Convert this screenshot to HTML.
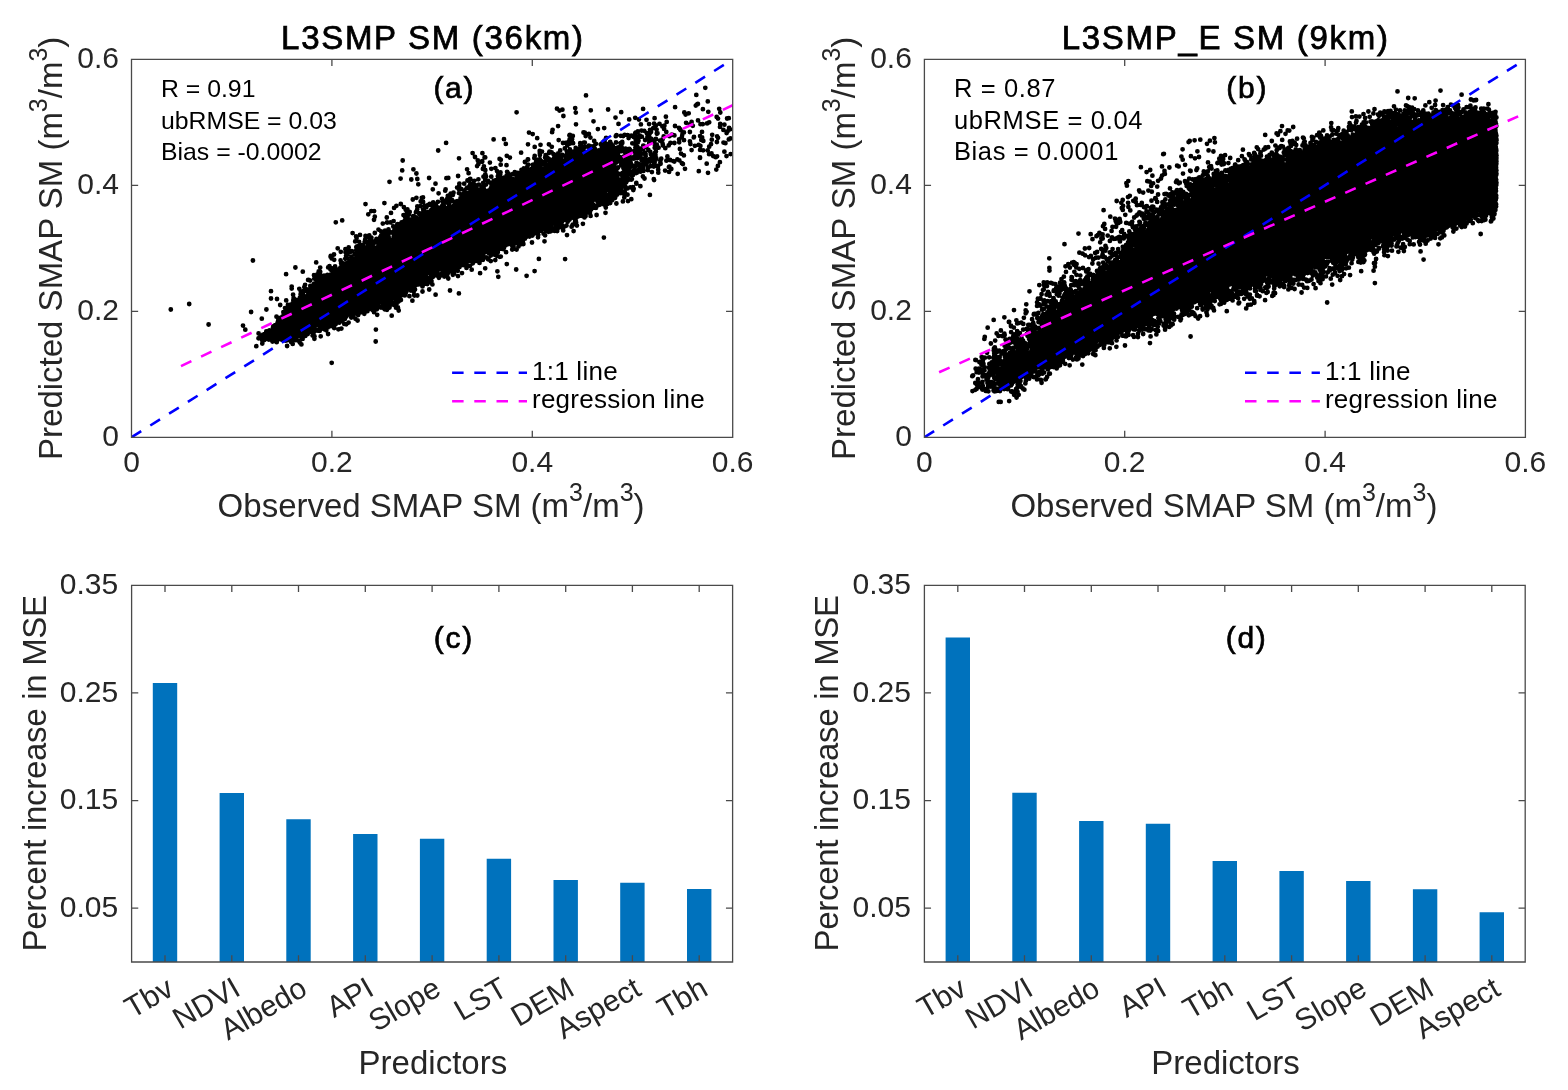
<!DOCTYPE html>
<html><head><meta charset="utf-8"><title>Figure</title><style>html,body{margin:0;padding:0;background:#fff;width:1568px;height:1090px;overflow:hidden}svg{display:block}</style></head><body>
<svg width="1568" height="1090" viewBox="0 0 1568 1090" font-family="'Liberation Sans', Arial, Helvetica, sans-serif">
<rect width="1568" height="1090" fill="#fff"/>
<defs>
<clipPath id="clipa"><rect x="131.5" y="59.3" width="601.2" height="378.0"/></clipPath>
<clipPath id="clipb"><rect x="924.4" y="59.3" width="601.0000000000001" height="378.0"/></clipPath>
</defs>
<text x="131.5" y="472.0" text-anchor="middle" font-size="30" fill="#262626">0</text>
<text x="331.9" y="472.0" text-anchor="middle" font-size="30" fill="#262626">0.2</text>
<text x="532.3" y="472.0" text-anchor="middle" font-size="30" fill="#262626">0.4</text>
<text x="732.7" y="472.0" text-anchor="middle" font-size="30" fill="#262626">0.6</text>
<text x="119.0" y="446.1" text-anchor="end" font-size="30" fill="#262626">0</text>
<text x="119.0" y="320.1" text-anchor="end" font-size="30" fill="#262626">0.2</text>
<text x="119.0" y="194.1" text-anchor="end" font-size="30" fill="#262626">0.4</text>
<text x="119.0" y="68.1" text-anchor="end" font-size="30" fill="#262626">0.6</text>
<text x="431.1" y="516.9" text-anchor="middle" font-size="33" fill="#262626">Observed SMAP SM (m<tspan font-size="25" dy="-15.5">3</tspan><tspan dy="15.5">/m</tspan><tspan font-size="25" dy="-15.5">3</tspan><tspan dy="15.5">)</tspan></text>
<text transform="translate(62.1 248.3) rotate(-90)" text-anchor="middle" font-size="33" fill="#262626">Predicted SMAP SM (m<tspan font-size="25" dy="-15.5">3</tspan><tspan dy="15.5">/m</tspan><tspan font-size="25" dy="-15.5">3</tspan><tspan dy="15.5">)</tspan></text>
<text x="432.9" y="48.7" text-anchor="middle" font-size="33" letter-spacing="1.7" fill="#000" stroke="#000" stroke-width="0.75">L3SMP SM (36km)</text>
<text x="924.4" y="472.0" text-anchor="middle" font-size="30" fill="#262626">0</text>
<text x="1124.7" y="472.0" text-anchor="middle" font-size="30" fill="#262626">0.2</text>
<text x="1325.1" y="472.0" text-anchor="middle" font-size="30" fill="#262626">0.4</text>
<text x="1525.4" y="472.0" text-anchor="middle" font-size="30" fill="#262626">0.6</text>
<text x="911.9" y="446.1" text-anchor="end" font-size="30" fill="#262626">0</text>
<text x="911.9" y="320.1" text-anchor="end" font-size="30" fill="#262626">0.2</text>
<text x="911.9" y="194.1" text-anchor="end" font-size="30" fill="#262626">0.4</text>
<text x="911.9" y="68.1" text-anchor="end" font-size="30" fill="#262626">0.6</text>
<text x="1223.9" y="516.9" text-anchor="middle" font-size="33" fill="#262626">Observed SMAP SM (m<tspan font-size="25" dy="-15.5">3</tspan><tspan dy="15.5">/m</tspan><tspan font-size="25" dy="-15.5">3</tspan><tspan dy="15.5">)</tspan></text>
<text transform="translate(855.0 248.3) rotate(-90)" text-anchor="middle" font-size="33" fill="#262626">Predicted SMAP SM (m<tspan font-size="25" dy="-15.5">3</tspan><tspan dy="15.5">/m</tspan><tspan font-size="25" dy="-15.5">3</tspan><tspan dy="15.5">)</tspan></text>
<text x="1225.7" y="48.7" text-anchor="middle" font-size="33" letter-spacing="1.7" fill="#000" stroke="#000" stroke-width="0.75">L3SMP_E SM (9km)</text>
<path d="M705.3 87.8h0m-119.3 7.6h0m110.3-.5h0m.8 9.5h0m.8-.5h0m9.9-2.5h0m-150.8 7.3h0m2.5 1.9h0m2.9-.9h0m12.8-1.6h0m15.6 2.2h0m17.3-.8h0m35-.6h0m32-1.7h0m20.7-1.6h0m7.1 3.6h0m16.3-.4h0m-202.6 3.5h0m46.8 3.7h0m12.4-3.4h0m45.4-.4h0m44.7 4.5h0m18.4-4.2h0m1.3 2h0m3.1-1.2h0m19.6-1.5h0m12 .7h0m-126.8 8.8h0m22-3.7h0m13.7 1.8h0m6-1.6h0m3.7 1.7h0m7.6 .3h0m8.1-1.6h0m12.1 3.7h0m19.4 .9h0m5.5-.9h0m6.4-1.5h0m11.2 1.9h0m7.5-5.3h0m1.3 1.6h0m9.1-.1h0m1.7-.3h0m-170.7 7.9h0m17.9-1.8h0m28.2 3.8h0m14.3-4.2h0m22.4 .5h0m8.2-.3h0m4.2 4h0m.8-4.5h0m1.9 1.7h0m3.5-1.5h0m2.9 2.6h0m1.7 2.5h0m.3-3.2h0m10.6 .3h0m4 2h0m11-3.6h0m1 .2h0m1.8 1.2h0m7.7-1.6h0m2.2 0h0m4.4-.8h0m12.9 3.5h0m.2-2.9h0m4.2 .7h0m4.7 3.2h0m-200.1 4.7h0m3.7 1.5h0m19.4-1.9h0m.5-2.4h0m17.3 5.2h0m13.6-2.5h0m1.3 .2h0m1.5 1.9h0m.4 0h0m2.2-.6h0m9-4.9h0m26.8 5.8h0m10.5-1.7h0m.3 .7h0m.6-1.6h0m1.8-.8h0m3.6-.9h0m2.7 .2h0m2.6 2.4h0m2.9 .2h0m.1-.1h0m.2-3.5h0m.9 1.6h0m.1 .5h0m5.6-2.3h0m.2 3.7h0m.1 .5h0m.6-.6h0m8.8-1.2h0m5.6 2.7h0m8.1-5.5h0m.6 1h0m1.8 4.1h0m1.5-1.9h0m6-.4h0m12.1-.1h0m10.2 2.9h0m11.2-4.9h0m3.2 3.2h0m1-1.8h0m2.5-2h0m-236.5 10.1h0m10.4-.2h0m33.2-1h0m21.5 1.9h0m10.7-4.8h0m.2 4.2h0m2.5-.3h0m.7-3.3h0m12.9 .1h0m4.7 1.6h0m14.2 3h0m1.5-2.8h0m9.7-1.6h0m.7-1h0m4.3 .6h0m2.4 .2h0m4.4-.9h0m1 2.9h0m2.7-2.3h0m2.4 1.2h0m1.5-1h0m.5 3.6h0m.1 .8h0m.5-3.8h0m.4 2.9h0m.3-2.3h0m.2 3.4h0m1.3 .2h0m1.4-5.1h0m.1 1.3h0m1.8-.2h0m3.3 3.3h0m2.4-3.3h0m1.6 3.5h0m0-2.5h0m.3-.9h0m2 2.4h0m0-.3h0m3.5 1.2h0m1-1.1h0m4 1.6h0m2.6-1.2h0m1.2-2.9h0m5.8-.3h0m4.9-.8h0m4.7 4.1h0m2.8-2.5h0m2.1 3.2h0m9.8-2.8h0m.2-.5h0m6.1-.8h0m1.2 3.8h0m.8-2.6h0m.5 2.8h0m.7 .8h0m8.5-1.2h0m5.3-3.4h0m.9 1.5h0m10.8 1.6h0m1.6-.9h0m-284.3 4.4h0m59.7 1h0m22.2 .4h0m6.7 2.6h0m5.8-2.1h0m8.4-.5h0m2.9 2.5h0m11.2-3.8h0m2.6-.1h0m1.7 2.5h0m1.2-3.4h0m1.3-.1h0m.2 1.7h0m3.1-.4h0m7.1 0h0m.1 2.5h0m.7 .3h0m2.9-3.4h0m.9 0h0m.2 4.4h0m3.8-1.4h0m3.2 .7h0m2.2-5.3h0m1.3 3h0m.4-.2h0m4.8 .5h0m1.1 2.6h0m.2-3.6h0m0 1.3h0m.8-.5h0m1.4-2.1h0m1.1 3.3h0m.2-1.9h0m.6 .6h0m.2 1.1h0m2 .3h0m1.9-3.5h0m.9 2.2h0m1.5 1.4h0m3.4-3h0m4.5 .6h0m.5 1.7h0m.6 2.1h0m.6-4.9h0m.1 .9h0m10 .4h0m2.7 .8h0m2.4 2.8h0m.4-4.3h0m5.5 3h0m3.1 1.2h0m2.8-3.8h0m2-1h0m.7-.6h0m2.1 .5h0m1 3.5h0m1.8-.8h0m5.8-.8h0m0-.1h0m.4 1.8h0m5.7-.1h0m1.7-2.4h0m4 0h0m4.8-.7h0m10.7-1h0m.5 2.7h0m4.5 1.8h0m3.8-.9h0m1.7 1h0m8.8 .8h0m1.8-2.5h0m5.9-2.2h0m6.6 .6h0m1.9 .6h0m-287.2 7.3h0m82.9 2.2h0m18.6-1.7h0m.1 1.9h0m2.2-1.3h0m7 1.3h0m.5-1.3h0m.3 .6h0m1.8 .1h0m8.6-1.8h0m4.6-2.1h0m2 2.9h0m1.1 .8h0m2-2.7h0m.2 3.6h0m.6-1.6h0m.5 1.2h0m3.3-1.2h0m.1-.3h0m1.1-3.1h0m1.1 1h0m.3 2.1h0m1.6-1.5h0m.9 .8h0m.2 .7h0m.6-2.4h0m.8 3.8h0m.6-1.6h0m.8-2.8h0m1.7 3.4h0m3.2 1.3h0m1.8-2.2h0m0-2.6h0m.7-.5h0m.8 4.4h0m1.5 .4h0m1.3-2.8h0m.5 1.5h0m.4 1.2h0m.3-3.6h0m0 .4h0m2 3.7h0m2.1-2.4h0m0 0h0m2 1h0m.6-1.4h0m1.9 .2h0m.2-.9h0m.3 0h0m1.1 2.9h0m.9-2.3h0m.7 1.2h0m.1 .6h0m.2-3.6h0m.3 4.1h0m2.8-4.5h0m.1 2.8h0m0 .9h0m1.8 1.3h0m1.6-4.5h0m1.1 3h0m.1 .3h0m.3-2.4h0m.1-.9h0m1.4 .1h0m.9 1.1h0m.4 2.2h0m.1 .9h0m.2-5.1h0m.7 .7h0m1.2 3.3h0m1.1-1h0m0-3h0m.1 .6h0m.6 3.3h0m1.8-1.2h0m1.6 2.7h0m.3-4h0m1.2 3.1h0m.9 1h0m1-.2h0m.2 .4h0m.4-4h0m.4 2.8h0m.3-2.2h0m.4 2.6h0m3.1-.7h0m.9 1h0m1-1.1h0m.1-3.7h0m.4 2.8h0m.7-2.6h0m.5 1h0m2.4-.6h0m.3 1.2h0m.4 .7h0m3.2-1.1h0m5.1 .7h0m1.9 2.2h0m4.4-4.2h0m.4 4.9h0m.8-1.1h0m2.7-3.9h0m6.7 .5h0m14.6 .8h0m11.7 1.1h0m8.5-.2h0m3 .4h0m4.6 .1h0m16.7 1.3h0m-265.4 6.6h0m13.6-5.2h0m2.4 3.9h0m7.4-3.8h0m2.2 4.2h0m.6 0h0m14.4 1.5h0m7.2-3.1h0m3.1 1.8h0m24.4 .5h0m.4-2.1h0m5.2-1h0m5.2 2.6h0m.5-2.4h0m.3 3.3h0m.5 .2h0m1.1-1h0m6-3.5h0m.6 3.9h0m.6-1.2h0m.6-2h0m.3 2.7h0m.7-1.8h0m.3-.3h0m.6 3.3h0m1-5.3h0m.3 4.1h0m.3-2h0m1.7 .2h0m.1 1h0m.4 .1h0m0 1.9h0m1.5-4h0m2.8 1.4h0m.9 .7h0m.6-1.9h0m.9-1.5h0m.3 3.5h0m.2-3.3h0m.2 3.4h0m.2-.2h0m1 1.5h0m1.2-.9h0m1.4 1.5h0m.7-4.5h0m.2 .5h0m.2 1.8h0m.2-2.5h0m.5 2.4h0m1.6 0h0m1.1-2.7h0m.7 3.2h0m.5-3.5h0m.9 3.4h0m.8-2h0m1.2 2.5h0m1.7-2h0m1.4 0h0m.1 1.4h0m.6-3.6h0m1.6 5h0m.7-.8h0m.2 .9h0m.1-3.6h0m.3-1h0m1.3 3.1h0m.1-.6h0m1.8-2.6h0m.1 2.9h0m.6-1.5h0m.7 3.5h0m1.7-1.2h0m.1-3.3h0m1.7 1.2h0m1.3 1.5h0m.1 2h0m1.7-3h0m.1-1.4h0m1.2 4.3h0m1.4-1.4h0m.7-.8h0m0 1.3h0m.2-4.1h0m.1 1.3h0m.3-.1h0m.6-.4h0m.3 4h0m.1 .3h0m.3-.6h0m.6-4.2h0m1.1 2.1h0m2-2.3h0m.7 4.2h0m1.1-1.7h0m.7-2.6h0m.1 4.4h0m1.2-4.9h0m.8 1.8h0m.9 0h0m.2-1.5h0m2.6 1.9h0m.2-2h0m.5 2.1h0m.5-1.4h0m.2 1.6h0m.2-.3h0m.1 2.5h0m.4-2.5h0m.5 1.1h0m2.2 1.1h0m1.5-.4h0m1.4-.6h0m1.6-.4h0m.5-2.1h0m0 3.6h0m.2-2.5h0m1.5 1.3h0m1.6 1.9h0m.1-3.8h0m2.3 3.8h0m.9-.5h0m.2-.3h0m.4-.4h0m.1 .3h0m.7 1.1h0m1.5-2.2h0m.2-2.1h0m.8 1.9h0m1.3-2.4h0m0 4.1h0m.2-4.4h0m1.2 1.1h0m0 .1h0m1.5 2.1h0m.3-3.6h0m1.4 5.6h0m1.4-5.3h0m1.6-.6h0m.4 1h0m.1 2.2h0m0 2.7h0m4.4-.1h0m.7-4.5h0m1.8 3.7h0m0-2.6h0m.1 2.5h0m.2-2.2h0m2.6-.8h0m.7 3.2h0m5 .6h0m6.2-2.3h0m13.6-2.8h0m2.9 1.8h0m16.1 2.1h0m0 .4h0m9.1-3.7h0m2.4-.8h0m1.7 2.7h0m2.6 1.1h0m1.3-.9h0m9.4-.2h0m4.2-2h0m-328 6.4h0m75.1 0h0m.6 3.5h0m3.8-2.2h0m0-.6h0m7.7 1.4h0m10.8 2.1h0m.1-4.9h0m24.1 2.2h0m2.9-2.5h0m.3 5.1h0m0-5.1h0m4.5 5.3h0m.4 0h0m2-.4h0m1-2.2h0m.6-2.6h0m.3 4.3h0m0-2h0m1.3 0h0m.4 1.9h0m.7-4.1h0m.5-.5h0m1.3 1.9h0m1.1 2.8h0m.3-1.5h0m.6-.2h0m.2 1.5h0m1.9-1.7h0m.1 1.9h0m.9 .9h0m.9-4.4h0m.7-.4h0m.2-.6h0m.9-.2h0m.4 1.3h0m.2 4h0m.4-4.9h0m.1 1.3h0m.1-.6h0m.6 3h0m0 .2h0m.2-1.7h0m1.5 .7h0m1.3 .1h0m.3-.8h0m1.4-.4h0m.2 1.1h0m.5 2.3h0m.4-3.7h0m.9 1h0m.7 1.1h0m.3 .1h0m.6 1.4h0m.4-2.6h0m.9-2.7h0m.1 .1h0m.5 .6h0m.3 1.9h0m.2-1.8h0m1.1 3h0m1.1-1.7h0m1.1-.8h0m.6 3.5h0m.1-4.3h0m.1 1.3h0m1.3-1.4h0m.6 1.8h0m.2 3.3h0m2.2-3.6h0m1.8 3h0m.3-4.7h0m0 4.8h0m.4-5.1h0m.2 1.1h0m.4 1.7h0m.5 .3h0m.8-.9h0m.7 .6h0m.4 .1h0m.3 2.1h0m.2-3.6h0m1.7-.5h0m0 .2h0m.8 2.8h0m.4 1.4h0m.2-3.8h0m.7 2.6h0m.4 .7h0m0-2.5h0m.3 1.6h0m1.5 1h0m.1-.1h0m.1-3.8h0m.1-.7h0m.1 .4h0m.3 4.7h0m.6-4.8h0m0 .7h0m1 4.3h0m.1-3.6h0m1.7 1.2h0m.7-3.2h0m.1 4.8h0m0-4.4h0m1.9 1.6h0m.3 1h0m0-.1h0m.5 1.3h0m1.1-3.4h0m.3 1.5h0m2.1-.2h0m.1 2.4h0m2.1-1.6h0m.5-2.3h0m.1 3.9h0m.5-3.3h0m2.3 2.1h0m.2-.8h0m.6 2.7h0m.2-1.9h0m1.3-3h0m1.7 3.7h0m.6-2h0m.3-.1h0m.2 .8h0m.2-2.9h0m2.5 2.5h0m.1 1.5h0m2-1.2h0m.2 1.8h0m0-3.2h0m.4-.6h0m.5 3.3h0m.5-.5h0m2.2-2.7h0m1 .2h0m.3-1h0m.1 4.4h0m.6 1.3h0m1.8-5.1h0m.3 2.8h0m.8-1.2h0m.4-2h0m1.4 1.6h0m1.1-.7h0m.7 1.5h0m.5 2.2h0m.4-4.2h0m1.1 4.4h0m1 .7h0m.3-.9h0m.3-2.6h0m.9-1.5h0m.2 2.2h0m1.7-2.3h0m1.1 1h0m1.5 1.9h0m.3-3.7h0m.5 3.1h0m.5 1.7h0m5.5-1h0m.5 .7h0m1.4 .7h0m3 .7h0m.2-4.5h0m1.8 4.4h0m1.1-1.4h0m.8 1h0m.5-2.4h0m.7 1.5h0m1.4-3.2h0m2.1 1.2h0m1.8-1.8h0m.4 1.2h0m2.4 1.5h0m1.1-2.7h0m4.6 .8h0m.1 2h0m.1-2.2h0m.1 3.5h0m5.8-3.1h0m3.7-.7h0m3.2 1.1h0m1 .5h0m3.1-2.3h0m1.9 1h0m2.6 2.9h0m1 .8h0m23.8-.3h0m13.2-1.5h0m-317.7 8.2h0m11.2-1.1h0m53.7 0h0m10-3.2h0m5.8 2.8h0m1-2.6h0m1.2 3.6h0m.2 .3h0m6-1.4h0m4.1-.7h0m11.1-2.9h0m15 4.6h0m2.4-1.3h0m2.2 .2h0m.5 .3h0m.8-2.6h0m1.3 3.5h0m.6-.2h0m2.9-.9h0m.5 1.6h0m.4-3.3h0m0-.5h0m.9 4.4h0m1.8-3h0m1.2-1h0m1.1 3.5h0m1.8-2.7h0m.3-.4h0m.2 .3h0m.3 2.5h0m.1-2.9h0m1.9 3.2h0m1.3-1.9h0m.9-.5h0m.2-.1h0m.6-2.5h0m.6 .1h0m.8 3.8h0m.4-.1h0m.8-.5h0m.6-2.6h0m.6 1.2h0m1.7 .8h0m0-2.6h0m.8 3.9h0m1.6-3.9h0m.8 4.4h0m.2-1.8h0m.2-1h0m2.2 .4h0m.7 1.8h0m.3-4.3h0m.5 5.6h0m1.5-2.8h0m1.3 2.9h0m.3-2.7h0m.9-1.7h0m1.9 1.9h0m.5-1h0m1 2.7h0m1.9-2.6h0m1.1 2.3h0m1-4.6h0m.2 5.1h0m.7-4h0m.2 .5h0m.3-1.2h0m0 .3h0m.4 1.9h0m.1-1h0m1 4h0m.1-3.3h0m.3-.1h0m.9 3.2h0m1.4-4.1h0m.1 2.8h0m.6-.4h0m.3-2.6h0m2.4 3.9h0m.5-2.7h0m1.1 1.5h0m1.2-3.4h0m.3-.5h0m.2 1.2h0m.2 4.5h0m1.1-2.7h0m2 .4h0m1-1.2h0m.3 3.7h0m1.1-3.8h0m.6-.8h0m1.2 3.5h0m.5-1.1h0m1.2-2.2h0m.3-1.2h0m1.2 4.6h0m1.6-3.4h0m.7 2.5h0m1.5 .4h0m1.1-2.9h0m.5-.8h0m.2 4.6h0m.9-3.7h0m.3 2h0m.8 1.4h0m1.2-4.9h0m.9 2.4h0m2.2-2.4h0m.2 3.4h0m.6 2h0m.4-1.7h0m.5-2.8h0m.1-1h0m.6 3.4h0m.1-2.7h0m.6 2.2h0m.2 .9h0m.5-1.2h0m1.8 2h0m1.4 .6h0m.2-4.2h0m.3 .8h0m.1-.7h0m.8 2h0m1-.3h0m0 2.2h0m.4-2.3h0m2.1 1.1h0m0-.5h0m.5-.2h0m.1 .2h0m.8-.8h0m4.1-2h0m1.2 2.5h0m.6 .9h0m.1-1.5h0m.3 2.5h0m.5-4.5h0m0 1.6h0m1.9 3.8h0m.9-5.5h0m.7 1.1h0m.6 1h0m1.2-.3h0m2.5-1.4h0m1.8 3h0m2.3-3h0m.7 4.7h0m.4-5.2h0m2.1 3.4h0m1.4-1.4h0m.1 3.5h0m.6-3h0m1.2 .3h0m.1 2.9h0m4.4-.8h0m.4-2.6h0m2.4-1.3h0m3.1-1.1h0m.1 1.4h0m3.4-.6h0m.7 .9h0m.3 2.9h0m6.9 .9h0m3.8-3.5h0m.5-.5h0m1.9 2.3h0m13.7-.1h0m31.3 .8h0m1.6-3.7h0m-301.5 7.6h0m41.7 2.5h0m10.5-2.8h0m14.9 3.5h0m1.8-2.4h0m.7 2.2h0m5.3 .2h0m5.7-5.6h0m.8 5.2h0m.6-2.5h0m.3 1.6h0m1.4-1.7h0m.1 .7h0m.3-2h0m6.1 3.3h0m.5-3.9h0m.7 4.5h0m.4-1.3h0m.1-1.5h0m1.6 1.1h0m.2 1.4h0m3-2h0m1.7-1.8h0m.2 2.2h0m.2-1.8h0m1.5 1.1h0m0 1.7h0m.1 1.5h0m.8-1.1h0m.2 .2h0m0-3.1h0m1.4 3.3h0m.8 .6h0m.5-4.2h0m.7 4h0m.1-.9h0m.1-.2h0m.4-1.8h0m2.3 .1h0m.1-.5h0m.1-2.1h0m.6 2.5h0m.1 2.6h0m.1-3.6h0m1.7 2.1h0m1-2.7h0m1.3-.4h0m.2 2.3h0m1.3-.9h0m.8 2.2h0m.7-3.9h0m.5 4.2h0m.3-1h0m2.7-.2h0m.4-1.5h0m0 3.8h0m1.7-2.8h0m2.3 2h0m.1-2.2h0m2.4-.8h0m1.3 2.6h0m1.1-2.1h0m.5-1.9h0m1.4 4h0m.2-3.7h0m.7-.6h0m.9 1.9h0m.2 1.9h0m.1-2.3h0m.6 .2h0m.7-.7h0m.5 .7h0m.2 1.9h0m.2-3.5h0m.3-.2h0m.1 .1h0m.8 .8h0m.4 3.9h0m.8-2.1h0m1 2.3h0m1.4-3.8h0m.1 1.9h0m1.4 2.3h0m1.7-4h0m.9 1.8h0m2.2 .4h0m.2 1.3h0m.2-4.8h0m2.1 1.1h0m.2 1.1h0m.7 .3h0m.1 3h0m2-1h0m0-1h0m.3-3.3h0m1.5 .7h0m.3 2.5h0m2.4 1.4h0m.3-2.9h0m1.5 .9h0m.8 2.7h0m2-4.7h0m.2 4h0m1.6-3h0m1.2-.2h0m.7 2.3h0m1-2.1h0m1.1 1.8h0m1.4-.6h0m.6-2.2h0m.7 4.5h0m1.3-3.4h0m1.3 2.4h0m1.1-2.7h0m1.5 1.2h0m.6-1.4h0m.7 3.1h0m1.2-2.4h0m1.9 3.3h0m.2-1.5h0m.7-2.7h0m.6 4.2h0m2.3-3.1h0m1.3 2.6h0m.2 .4h0m0-3.7h0m1.4 2h0m1.4-3.7h0m.6 3.9h0m.2-2.2h0m1 3.4h0m.3 .1h0m1.8-4.3h0m.1 1.9h0m.7-.6h0m1.7 2.6h0m.2 .5h0m1-2.7h0m0 2.9h0m.7-5.1h0m.5 .3h0m.5 .7h0m.2 4.5h0m.7-3.1h0m2 .1h0m.1 1.5h0m1-3.9h0m1.1 4.4h0m1.6-2h0m3.1 0h0m.2 2h0m.1-1.6h0m0-1.2h0m.3-.3h0m0 2h0m.6 .3h0m.6 1.1h0m1.1-3.5h0m.1 1.8h0m.3 1.8h0m1.7-3.1h0m1.1-1.9h0m2.1 3.1h0m.4-3.2h0m.3 3.5h0m.3-3.3h0m.9 2.7h0m.4 .3h0m.4 .4h0m.1-1.9h0m2.8-1.1h0m.3 1.2h0m.2-1.2h0m.4 .9h0m3.6-1.1h0m2.5 4.8h0m9-4.4h0m6.4 .6h0m10.8-.8h0m8.6 1.9h0m21.1-2.6h0m9.2 1.6h0m-318.5 9h0m11.1-3.2h0m10.7 .9h0m6-.5h0m11.8-1h0m17.3 .2h0m1.9-.3h0m19.2 2.6h0m2.4-1.4h0m.4-.1h0m4 1.8h0m4.1-1.5h0m4.8 3.5h0m2-3h0m2.8 1.1h0m.6 .7h0m1.8 1.2h0m3.2-1.8h0m2.4-.9h0m1.7 2.3h0m1.6-3.9h0m.4 2.8h0m.6-3.7h0m1 2.9h0m1.3 .4h0m0 .3h0m.2-2.5h0m.8-.8h0m.8 3.1h0m.1 1.6h0m.3-5h0m2.6 4.6h0m.8-1.6h0m.2-.2h0m.3 1h0m2.6 0h0m.8-2.5h0m0 2.1h0m.2 2h0m.6-3.1h0m1.8-.5h0m.4 2.2h0m1.5-4.2h0m1 2.2h0m.4 .6h0m1.9-3h0m.1 5.2h0m1.4-2.4h0m1.5-2.6h0m.6 2.9h0m.4-3h0m1 5.3h0m1.1-3.6h0m.3 3.5h0m1.2-.6h0m1-3h0m.1-1.8h0m1.7 4.8h0m.6-4h0m.3 5h0m1.3-1.8h0m.6-2h0m1.9 2.2h0m1.1-3h0m0 1.1h0m.1-.6h0m0-.3h0m.8 2.9h0m1.9-2.1h0m.9-1.2h0m1.1 3.8h0m.6-3.6h0m2 2.1h0m.3-1.6h0m2.2 3.6h0m.4-5.2h0m.1 2.2h0m.9 2.3h0m2.1-2.4h0m.2-1.8h0m.8 3.4h0m1.6-2.8h0m1 4.1h0m.6-1.1h0m1 .6h0m.7-1h0m.2-2.2h0m2.9 0h0m.2 3h0m.8-4.3h0m.7 2.6h0m.9 2.5h0m.6-1.6h0m.4-2.6h0m1.7 .3h0m.2 3.6h0m1.7-2.5h0m2.1 2.2h0m.8-3.1h0m1.2-.7h0m.3 2.7h0m1.9 1.8h0m.4-2.7h0m2.2 1.3h0m.5-1.5h0m.1 .6h0m1.6 2.7h0m1.3-4.6h0m.3 1.9h0m.6 2.5h0m1.6-5.4h0m.1 5.1h0m.3-2.5h0m1.9-2.4h0m.4 2.8h0m.2 1.7h0m2.3-3.7h0m1.1 3.1h0m1-2.4h0m.8 2.6h0m1.9-4.3h0m.3 3.1h0m.6 2h0m.5-3.9h0m1.4 1.9h0m1-1.3h0m.2 3.4h0m1.5-1h0m1.6-2.3h0m1.2 2.7h0m.6-3.7h0m1 4.9h0m1.3-3.1h0m1.4 3h0m.4-3.2h0m.4-2.7h0m1.6 4.2h0m.2-2.3h0m.8-1.4h0m.3 .5h0m.1 .4h0m0-.7h0m.1 2.5h0m1.9-.4h0m.2-2h0m.8 3.3h0m2-3.1h0m1.2 1.7h0m0 2.6h0m.3-4.9h0m1.2 2.6h0m.2 .2h0m.2-.3h0m1 2.2h0m.6-3.1h0m.8-.7h0m.1 .4h0m.5 1.1h0m.4 2.8h0m.1-.5h0m.9-1.9h0m.6 2.5h0m.4-3h0m0 .8h0m3.1 1.1h0m.3-2.8h0m.6 3.6h0m.7-.4h0m1 .2h0m.1-1.2h0m.7-.3h0m.4-3.1h0m0 .4h0m2.6 1.5h0m1.5 .1h0m.4-.5h0m4.4 3.9h0m8.2-4.5h0m9.3 .7h0m.3 .9h0m-235.8 4.2h0m17.2-.6h0m21.6 3.9h0m1.7 1.4h0m.3-3.1h0m.3-2.3h0m4.8 .1h0m2.5 4.4h0m.7-.5h0m2.5-2.5h0m.7-1.8h0m.2 3.3h0m.6 2.1h0m.8-5h0m1.3 3h0m1.7-1.5h0m.8 2.4h0m2.9-3h0m2.7 3.2h0m.8-.2h0m.6-1.1h0m.3 .4h0m.6 1.9h0m2.1-4.3h0m4.8 3.8h0m0 .6h0m.4-.2h0m.4-2.8h0m.2 2.2h0m.1-4.8h0m.7 3.5h0m1.5-3.7h0m.9 3.7h0m.2-1.7h0m.2 2.1h0m.3-1.4h0m.7-2.5h0m.8 4.7h0m.3 .3h0m.4-.3h0m1.2-4.4h0m.7 .6h0m.1 4.1h0m1.6-3.5h0m.5 3.1h0m.2 .7h0m0-2.3h0m0 1.1h0m.4-2.7h0m.7 3.6h0m1.7-3h0m1.5 2h0m.5-.9h0m1.4 2.2h0m.2-4.7h0m1.1 3.6h0m.5-3.1h0m2.5 2.2h0m.2 2.4h0m.1-4.2h0m1.3 3.7h0m.9-3.5h0m1.3 1.9h0m.9-3.7h0m.6 1.4h0m1.7 2h0m1.3 .4h0m.5-1.9h0m.7 2.8h0m.4-4h0m1.8 1.7h0m.5 2h0m2.2-2.3h0m2.2-.6h0m.4 2.5h0m.3-1.3h0m2.3 2.4h0m1.3-2.4h0m.1-2.2h0m.6 2.5h0m2.1 2.6h0m0-5.3h0m.1 1.5h0m1.4 1.6h0m1.4-2.6h0m.2 4.7h0m1.4-1.5h0m.7-2.2h0m.9-.4h0m.2 2.6h0m1.5 .2h0m.2-3.9h0m1.3 2.1h0m2.1 1.3h0m.8-3.1h0m1.5 1.5h0m.2 3.5h0m.9-2.5h0m0-1.3h0m1.8 .6h0m.7-2.2h0m.2 4.2h0m.6 .9h0m1.9-1.7h0m.4-2h0m.1-1.2h0m.9 5.3h0m1-4.7h0m1 3h0m.3 .9h0m1.3-3.6h0m1.3 2.7h0m.4-1.8h0m.9 1.7h0m1.8-3.2h0m1.6 2.5h0m.7 2.1h0m0-5.3h0m1.9 1.8h0m.4 3.1h0m1.3-.8h0m.1 1.2h0m.3-4.2h0m2-.8h0m.6 3h0m0 2.1h0m1.1-5.3h0m2.1 4.1h0m.2-2.2h0m.7 3.6h0m1-3h0m1.7-1.1h0m.3 2.4h0m2.1 1.2h0m.2-2.4h0m.5 2.5h0m1.1-4.6h0m.7 3.4h0m.1-2.9h0m.3 3.4h0m1.4-2.8h0m.1 3.5h0m.1-.1h0m1-1.5h0m.8-1.5h0m.4-1.6h0m2.1 4.3h0m.4-1.8h0m1-1.6h0m1.5 2.9h0m.9-3h0m1 2.4h0m1.6-3h0m.8 1.6h0m.2 2.9h0m.9-2.4h0m.1 2.1h0m1.6-2.7h0m0 3.6h0m.4-4.3h0m.6 .4h0m1.5 1h0m.3-.8h0m.4 2.4h0m.1-1.9h0m.4 2.9h0m.1-5.6h0m.5 4.5h0m.1-.6h0m.1-2.2h0m.1 3.9h0m0-.7h0m1.8-4.4h0m.3 .6h0m.1 .5h0m.5 .2h0m.2-.6h0m.4 4h0m.8-2.3h0m.1-3h0m2.3 1.1h0m.2 3.7h0m1 0h0m1.5 .8h0m0-3.7h0m.8 2.4h0m.4-.4h0m1.6-.6h0m.2 2.5h0m.7-4.8h0m.4-.9h0m2.6 3.4h0m0-2.5h0m.3 .5h0m1.6 1.1h0m.9 2.4h0m1.4 .4h0m2.9-1.1h0m2.6-.2h0m.8 1.7h0m2.7-5.1h0m4 2.5h0m-207.6 3.1h0m5.8 4h0m6.6-2.6h0m.4-1.4h0m5.1 4.4h0m.4 .2h0m2.4-1.2h0m5.4 .4h0m2.2 1.2h0m.3-5.2h0m2.7 4h0m.2-2.5h0m.7 3.1h0m3-.7h0m2.4-3.6h0m.6 3.7h0m2.8-4h0m.7 1.3h0m.1 2.5h0m2.2 .6h0m.1-4.4h0m.2 5h0m.3-4.8h0m2.8 4.1h0m.2 1.1h0m0-4.6h0m.9 .8h0m.5 1.1h0m.5 .6h0m3-.9h0m.1 .7h0m.4-.3h0m.6 1.9h0m.1-1.9h0m.3-.3h0m1.5 .2h0m.1-1.2h0m.5 .7h0m.4 2.3h0m.6-.8h0m.3 .7h0m.5-1h0m1.4 1.3h0m.3 .9h0m.2-5.1h0m.5 4.5h0m.6-2.7h0m1.2-1.8h0m1.6 4.1h0m.2-2.8h0m1.7 1.6h0m.1 1.6h0m1-4.5h0m1.1-.4h0m.1 3.6h0m.6 .4h0m1.4-1.6h0m1.6 1.8h0m.6-4.2h0m1 1.5h0m.5 2.4h0m2.8-1.6h0m.4 3.2h0m2.2-4.3h0m1 3h0m1-1.9h0m2 2.4h0m0-4.9h0m2 2.2h0m.1 2.4h0m.4-4.4h0m.8 3.2h0m1.1 1.8h0m.8-3.5h0m.3 3.3h0m2.1-1.7h0m.4 1.9h0m.2-4.3h0m1.6 3.1h0m2-1.5h0m0-2.5h0m1.5 4.7h0m.1-2.8h0m1.6-.4h0m.1 3.3h0m1.7-3.4h0m1 3.1h0m.8-3.9h0m.9 2.6h0m1.8 1.8h0m.3-2.8h0m1.7 .1h0m1.9 1.8h0m1.7-2.8h0m1.3 1.6h0m.4-2.6h0m.2 4.6h0m1.8-4.5h0m.1 2.2h0m1.1 1.5h0m1.6-4.1h0m.6 3.2h0m1.2-1.2h0m.5 3.9h0m.9-5h0m.3 2.3h0m.7 2.8h0m1.7-2.5h0m1-2.2h0m1.9 .2h0m.1 3h0m1.3-3.4h0m1.2 2.4h0m.6 1.1h0m1.2-3.7h0m.2 3h0m.9-2.3h0m1.2 3.5h0m1.3-4.3h0m.8 2.5h0m1.6 2.4h0m.2-4.6h0m1.1 2.3h0m.5-1.5h0m1.6 3.6h0m.8-2.6h0m1-1h0m.6 3.7h0m1.5-1.9h0m.6-2.5h0m1.6 1.7h0m.3-.2h0m.1 2.7h0m.4 .5h0m.5-3.7h0m.2-.4h0m.3-.1h0m1-.2h0m.4 .3h0m.7-1.5h0m.2 2.9h0m1.9 1.4h0m.4-2.9h0m.2 .9h0m0-1.2h0m.4 1.3h0m.6-.5h0m0-.3h0m.1 1.3h0m1.9-1.3h0m.1 3.6h0m.1-2.8h0m.7-1.9h0m.2 1.2h0m.2 .1h0m.1-2.1h0m.4 .6h0m.2 2h0m.7 3.1h0m1.7-.3h0m.4-4.8h0m.2 1.8h0m2.2 3.1h0m.1-3.5h0m2.9 1.4h0m.2-2.6h0m1.1 4h0m.4-1.9h0m1.3 1h0m1.1-3.8h0m.2 1.1h0m.7-1.1h0m.1 .4h0m.1 4.5h0m1.1-2.9h0m.4-.3h0m.7 .4h0m.2 2.9h0m.1-4h0m3.4 4.2h0m.5-3.7h0m0 3.8h0m1.2-5.2h0m1.1 4.3h0m1.9-2.9h0m.3 2.9h0m1.4-.8h0m1.2-1.6h0m.9 3.4h0m1.3-2.5h0m2.2 1.1h0m.3-3.2h0m1.5 3.2h0m1.5-.4h0m0-1.2h0m.7 .7h0m0 2.5h0m2.7 0h0m5.8-4.6h0m16.6 4.8h0m-237.1 4.6h0m3.6-1.7h0m5.4 0h0m1.2-.4h0m19 1.5h0m4.9 1.2h0m0-1h0m.9-3.1h0m.5 4h0m.3-3.5h0m.6-1.2h0m.5 1.7h0m.5 2.5h0m1.9 .7h0m.7-5.1h0m7.7 3.1h0m1.7 2.8h0m1.6-2.6h0m.1-1.3h0m2-1.3h0m0 2.8h0m.5 .6h0m1.8 1.4h0m.6-3.2h0m1.4-1.4h0m1.4 3h0m.6-1.3h0m.3 2.2h0m0 .2h0m.4-4.4h0m2.2 1.2h0m.4 3.8h0m.5-2h0m1-3h0m.9 4h0m.5-1.7h0m1.9-.6h0m1.2 3h0m1.4-2.3h0m.9-2.6h0m1.1 4.6h0m.5-2.4h0m.7-1.9h0m.8 2.4h0m.7-2.2h0m.9-.1h0m.2 1.3h0m0 2h0m.1-1.4h0m2.4 1.3h0m.4-1.9h0m.5 1.9h0m.2-1.7h0m.9-2h0m.8 2.1h0m.9 3.5h0m1.8-4.4h0m.2 1.4h0m.4 1.8h0m2.1-1.8h0m.4-1.7h0m.5 2.6h0m.4 1.5h0m1.6-4.4h0m.5 .7h0m.8 2.6h0m.6-2h0m.2-2h0m.7 4.2h0m1.9-3h0m.8 3h0m.6-3.7h0m1.2 4h0m.6-1.8h0m.7-2.2h0m2.1 4.5h0m.2-4.2h0m.8 3.1h0m.7-1h0m1.4-1.8h0m.5 4h0m.1-1.2h0m1.5-2h0m.3-1.2h0m.6 2.3h0m1.9 1h0m.6-3.3h0m2.4 2.3h0m.4-1.4h0m1.4 .5h0m.3 3h0m.7-5.2h0m2.1 3.3h0m.4-3.2h0m1.3 4.4h0m.4-2.7h0m2.8 2.3h0m.1-3.4h0m.6 .1h0m0 4.1h0m1.5-2.5h0m1.1 2.3h0m.8-1.8h0m1.7-2.1h0m.7 3h0m1 2h0m.3-5.7h0m.9 3.7h0m.1-2.2h0m1.7 2.9h0m1.6-2.6h0m.1-1.2h0m.1 4h0m2.2 .1h0m1.1-3.9h0m1.3 2.4h0m2.2 1.9h0m.4-2.5h0m1.7 1.5h0m.9-2.5h0m.5-1.1h0m.5 2.6h0m2.4-.2h0m.1-2.7h0m1.8 3.2h0m1.5-2.4h0m1.2 3.3h0m2-2.2h0m.9 2.1h0m.5-4.4h0m.7 3.8h0m.7-2.1h0m2.1 4h0m.7-1h0m.3-2.3h0m1.9-.5h0m1.4 3h0m.5-3h0m1.6-1.1h0m.3 3h0m.8-3.6h0m.2 3.6h0m.1-3.3h0m0 .3h0m1.3-.4h0m0 .4h0m.1 1.1h0m1.7 3.3h0m.3-2h0m1.2-1.9h0m.5 3.9h0m.1-4.3h0m.5 .9h0m.2-.2h0m.1 0h0m.3-1.6h0m.5 4.8h0m1.6-2.3h0m1.6 .5h0m.2 .8h0m1.2 .9h0m.3-2.7h0m1.4 1.1h0m.9 2.6h0m1.2-4.5h0m.2 2.7h0m.3 .6h0m1.5-4.5h0m.2 1.6h0m1.3 1.5h0m.7 2.2h0m.2-3.8h0m1.9 3.1h0m.1-3.5h0m1.4 1.4h0m.9 1.8h0m1.9-2.5h0m.2 3.7h0m0-.8h0m1.7-2.7h0m1.7 2.1h0m.4-2.7h0m1.5 2.7h0m1.7-1.2h0m.4 2.3h0m.1-4h0m2.8 .5h0m0 1.2h0m.3-.4h0m9.1-.1h0m7 1.7h0m-265.8 4.9h0m18.9-1h0m12 2.7h0m4.4-1.8h0m16.5 2.5h0m3.2-.3h0m.2-4.7h0m2.4 .4h0m1.6 3.8h0m1 .9h0m2.5-1.8h0m1.6-.8h0m.2 .8h0m3.2-2.3h0m.1 1.9h0m.2 2.2h0m1.7-.7h0m.7-1.5h0m.4 2.4h0m1.6-5h0m4.3 4.1h0m.3-4.5h0m.4-.2h0m.1 3.5h0m.1-1.3h0m0-1.6h0m.4 3.8h0m.4-2h0m.4-2.5h0m2.1 .5h0m1.1 1.2h0m1.6-.9h0m.2 4.5h0m.1-1h0m.2 1.6h0m1.9-5.9h0m2.4 4.4h0m.3 .5h0m.7-4h0m.4 1.2h0m0-1.1h0m.3 3.4h0m.1-1.7h0m.6 2.8h0m.2-4.8h0m.7-.6h0m.8 3.6h0m.9-1.4h0m.3 3h0m.3-4.6h0m1.4 3.9h0m.7 1.3h0m.4-4.6h0m1.3 0h0m.5 2.7h0m.9-3.7h0m1 4.6h0m1.1-2.3h0m0-2.7h0m1.3 1.2h0m1.9 3h0m0-3.7h0m1 2.2h0m1.4 1.6h0m.7-2.5h0m2 2.2h0m.1-3.6h0m1.8 1.9h0m1.9-2h0m.2 3.3h0m.9 .9h0m.3-1.8h0m1.6-1.3h0m.7-1.4h0m1 4.2h0m1.1-2.1h0m2.3-.1h0m0 2.9h0m1-1h0m.1-3h0m1.8 4.9h0m.8-2.6h0m.3-1.6h0m1.7 2.1h0m1.1-2.1h0m0 3.9h0m1.9-3h0m.7 2.4h0m1.6 .1h0m.6-3.3h0m.9 0h0m.9 1.7h0m1.8-.5h0m.2-1.8h0m1.5 3.9h0m.4-1h0m1-2.3h0m1.9-1.3h0m.8 3.6h0m0 1.4h0m2.3-1.7h0m.6-1.9h0m1.9 2h0m.7 1.7h0m.8-4.5h0m1 2.1h0m1.2-1.2h0m1 2h0m1.5-2.3h0m.1 2.7h0m.6-3.8h0m.6 1.4h0m1.4 2.7h0m.3-4.1h0m.1 4.7h0m.8-2.9h0m1.5-2h0m.2 2.5h0m1.1 2.6h0m.7-1.3h0m.6-2.4h0m.1 3.4h0m.1-4.9h0m1.2 3.8h0m.9-2.8h0m1.1 3h0m.6-1.8h0m2-2.2h0m.4 3.6h0m2.4 2.1h0m.1-3.9h0m1.3 1h0m.9-2.5h0m.2 5.3h0m.8-1.2h0m1.2-2.9h0m1.4 2.6h0m.8-2.5h0m1 2.8h0m1.5-3.5h0m.7 3.6h0m1-3.2h0m1 3.4h0m1.7-3.4h0m.1 2.3h0m1-3h0m1.9 2.6h0m1-1.7h0m1.6 3.2h0m.9-3.9h0m1.2 4.9h0m.4-4.9h0m0 3.2h0m2-2.5h0m.1-1.6h0m.8 4.6h0m.9-3.6h0m2 3.8h0m.5-3.2h0m.1 1.8h0m2-1.5h0m.2 2.9h0m2-.9h0m.4-3.1h0m2.4 1.4h0m1.1 2.4h0m.7-2.9h0m1.8 .7h0m.6 3h0m1-2.9h0m.5-2.1h0m.8 3.7h0m1.2-2.2h0m1-1.5h0m.1 5h0m.9-1.8h0m.4 .3h0m.1 .8h0m0-2.9h0m1.3 3h0m.2-2.1h0m1.1 2.3h0m1.7-.3h0m0-1.4h0m.2-.8h0m.5-.2h0m.6-1.6h0m.5 5.1h0m0-.5h0m.7-4h0m.3 4.6h0m.5-5.1h0m.3 .5h0m1.2-.6h0m.3 2h0m.2 1.6h0m.6 .1h0m.9-4.4h0m.2 .3h0m.9 5.2h0m.1-.2h0m0-1.4h0m3.4 1.1h0m.8-4.4h0m.2 3.1h0m.1-.2h0m1.8 .2h0m.1-1.1h0m.3-1.9h0m3 1h0m.6 1.5h0m.3-2.8h0m1.3 4.3h0m2.1-1.9h0m1-1.8h0m1.8 1h0m6.2 .4h0m6.5-2.1h0m5.1-.3h0m-256.7 10h0m2.8 0h0m16.9 1.8h0m3.1-5h0m9.8-.7h0m1.7 2.3h0m1 1.8h0m.8-2h0m2.3 2.6h0m6.2 .3h0m.9-1.3h0m.4-1.5h0m5.9 .2h0m.6 1.5h0m.2-1.7h0m1.2-1.8h0m1.4-.5h0m.7 5.8h0m.3-.3h0m.5-.8h0m1.1 .7h0m2.1-2.3h0m.2-.1h0m0 1.1h0m1.1-2.5h0m.4-.5h0m.3 4.5h0m0-2.8h0m.2-2h0m.2 3.1h0m2.4-1.3h0m.6 .1h0m.9-.6h0m.4-1.9h0m.1 1.1h0m.5 1.9h0m1 2.5h0m.4-4h0m1.6 1.7h0m.5 1.1h0m1.4-2h0m.7-.4h0m.9-1.6h0m.3 3.5h0m.3 1.3h0m.4-4.4h0m1.5 2.1h0m.3 1.2h0m2-1.8h0m1.4-2h0m0 2.9h0m.2 2h0m.7-4.9h0m.3 .9h0m.4-.8h0m1.1-.3h0m.5 3.8h0m1.2-2.6h0m.5 4h0m.4-2.3h0m.9-1.6h0m1.1 3.3h0m1.8-1.2h0m.9-2.2h0m1.4 .7h0m1.3 2.8h0m.7-3.5h0m1.4 1.5h0m1.7-2.9h0m.4 3.7h0m1.8-1.2h0m.9-2.4h0m.6 4.2h0m1.9-1.2h0m0-3.1h0m2.5 1.7h0m.2 3.3h0m.2-1.1h0m1.4-1.5h0m.1-2.5h0m0 5.8h0m2.6-.4h0m.1-.6h0m0-3.4h0m1.7-.7h0m.4 4h0m1.1 0h0m.2-1.8h0m2-1.5h0m.9 3.1h0m1.1 .5h0m.1-3.4h0m2.1 .8h0m.1 2h0m.8-1.2h0m1.6-1.9h0m1.5 3.5h0m.4-1.9h0m1.7-1h0m.4 3h0m1.4-1.7h0m1.4-2.8h0m1.5 4h0m.1-1.2h0m1.2-3.1h0m.8 2.4h0m.4 2.1h0m1.1 .9h0m.2-4.4h0m1.4 2.5h0m.9 2.2h0m1-4.5h0m1.3 2.8h0m.1-2.8h0m1.1 3.6h0m.4-2.5h0m.4-2h0m1 1.4h0m1.1 2.3h0m1.6-.5h0m1-2h0m.1-1.3h0m2.6 3h0m.4-1.5h0m.1 4h0m.5-3.1h0m1.1-1.4h0m1.2 3.5h0m.6-3.1h0m.9 3.2h0m1.6-2h0m1.3 3h0m1.3-2.4h0m.2-1.7h0m.2 .8h0m1 3.4h0m.3-1.7h0m1.5-3.6h0m1.1 1.4h0m1 2.9h0m.9-5h0m1.2 4.6h0m0-3.5h0m1.3 .7h0m0 2.7h0m3.3-.7h0m.1-1.9h0m2.6 .5h0m.6-2.4h0m.2 4.3h0m2.3 1.5h0m.1-3.3h0m.8 2.9h0m.5-4.9h0m.4 .4h0m1.4 2.1h0m.8 .8h0m1.7-2.9h0m1 1.2h0m.9 2.3h0m.8-4.3h0m.8 5.6h0m1.2-3.3h0m1.5 1.5h0m.3 2h0m1.7-3.9h0m.2 3.9h0m1.6-5.2h0m.4 3.5h0m.9-1.7h0m1.6-1.8h0m.8 3h0m0 1.8h0m1-3.6h0m.8 3h0m.4 .1h0m.7-4.7h0m.6 2.1h0m1.5-2.3h0m.7 5.4h0m1-3.1h0m1.3 1.1h0m.1-2.1h0m2 1.6h0m1.5 .4h0m.1-2.4h0m1 1.4h0m1.3-.9h0m.1 2.4h0m0-.2h0m.1-2.8h0m.2 .5h0m0 2.3h0m.5-1.8h0m.7 3.8h0m1.4-1.3h0m.7-1.7h0m.3 1.7h0m.5-.6h0m0-3.8h0m.4 .9h0m1.5 4.8h0m.1-.7h0m.6-2.9h0m.5 2.4h0m.1 1.2h0m.7-4.3h0m1.4 2.4h0m2.5-1.3h0m.1-2.1h0m2.1-.3h0m.6 .5h0m2 .3h0m.4-.9h0m9.2 5.8h0m.3-5.2h0m-237.5 6.7h0m6.5 2.4h0m12 .8h0m16.7-2.4h0m1.4 1.4h0m1.4-1.6h0m.8 3.3h0m.4-1.6h0m1.3-1.9h0m4.4 1.5h0m.1 .2h0m.7 1.2h0m.3-.5h0m.5 1.1h0m.4-1h0m.2 .4h0m.3 .1h0m.4 .2h0m.3 .3h0m2.6-5h0m.5 1.5h0m.7 4.2h0m.8-3.9h0m.2 3.6h0m.1-5.2h0m.7 4.2h0m1.6-.1h0m.1-3.5h0m.4 2.8h0m1.3 1.6h0m1-.1h0m0-4.9h0m.2 5.5h0m.3-3.6h0m1.5 2.6h0m.4-2.4h0m.7-.7h0m1.7 2.7h0m1.2 .3h0m.1-1h0m.5 .3h0m.6 .5h0m.8-3.8h0m.2-.5h0m.9 4.8h0m.9-.4h0m.1-1.4h0m.2-.5h0m.6 1.7h0m.6-3.4h0m.3-.8h0m.1 .5h0m1.1 .5h0m.6 3h0m2.2-2h0m.2-1.1h0m1.1 2.4h0m.7-3.4h0m1.5 3h0m.4-1.1h0m2.1-1.2h0m.1 3.5h0m1.5-4.2h0m.5 1h0m1.7 2h0m0 1.6h0m1.5-4.8h0m.1 4.7h0m.3-2.5h0m1.7-.3h0m.5 2.7h0m1.7-.2h0m.1-4h0m1.1 1.7h0m.7 3.8h0m.4-2.2h0m1.2-3.2h0m.8 2.1h0m1.1 1.7h0m1.3-2.6h0m.8 2.4h0m2-3.5h0m0 .6h0m.4 4h0m.5-2.6h0m1.7 2.5h0m.1-5h0m.9 3.5h0m.8 1.1h0m.7-2.2h0m1.2-2.4h0m.1 5.9h0m1.5-2.2h0m.3-1.7h0m1.2 .9h0m2.3 .9h0m.2-2.3h0m3 2.3h0m.6-3.1h0m1.9 3.9h0m.1-3.1h0m1.3-1.2h0m.6 3.3h0m.6 2h0m.3-.8h0m1.1 .8h0m.1-4.7h0m1.5 .7h0m.3 2.6h0m1.2-.5h0m.1-3.5h0m1.9 4.8h0m.8-3.7h0m1-.6h0m.1 2.7h0m.8 1.7h0m1.7-1.9h0m.4-2.5h0m1.3 3.8h0m1.7-2.9h0m.6 3.4h0m.6-2.3h0m1.4 2.7h0m1.4-2.9h0m1.6 3.1h0m.3-1.1h0m.2-3.7h0m1.5 2.2h0m.6-3h0m.2 5.9h0m1.1-3.4h0m.2-2.3h0m.5 4.6h0m1.7-3.6h0m.4 3.7h0m.9 .4h0m.9-5.2h0m.4-.1h0m.7 3.2h0m1-1.1h0m1.3 1.7h0m.1-1.8h0m2.8 .4h0m.9-2.3h0m.3 5.2h0m.4-3.5h0m.9 1.8h0m2.2-2.7h0m.5 4.5h0m.7-1.8h0m2.5-1.7h0m.1 2.3h0m.1-3.7h0m2.1 4.8h0m.5-3.3h0m1.5-1h0m.4 3.1h0m1-1.5h0m1.2 2.5h0m.3-4.8h0m.5 1.6h0m.5-1.5h0m1.5 1.8h0m.4 2h0m1.2-3.8h0m.8 0h0m.2 2.7h0m2.5-1h0m.3 3.5h0m1.9-2.7h0m.6-2.3h0m1.1 4.4h0m.9-.1h0m.4-3.5h0m.3-.9h0m2.4 3.4h0m.1-3.8h0m.8 5.3h0m.3-4.4h0m1.8 3h0m.9-1.4h0m2.2 1.3h0m.3-1.3h0m.8-1.2h0m1.1 1.5h0m2 .7h0m.1-1.1h0m.6-1.7h0m0-.2h0m.2 .5h0m.2 1.7h0m.9 .2h0m1.4 .1h0m1.4-1.2h0m1.6 1.9h0m.2-3.2h0m.1 1.5h0m.5 .5h0m3.2-2.2h0m0 4.5h0m1.8-2.6h0m.2 1.8h0m.2-3.1h0m.1 2.3h0m.2 1.1h0m1.3-.8h0m.8-1.1h0m.3 .6h0m2.4-3h0m1 2.7h0m2.4 1.5h0m1.1-1.3h0m4.3-3.1h0m.7 2.9h0m6-.9h0m-260.8 7.3h0m6.4-1.9h0m31.8-.6h0m8.8 3.8h0m4.3-1.1h0m3.5-.1h0m3-1.3h0m3.7 3.2h0m.5-.2h0m3.8-1.8h0m.6 2.4h0m2-2.8h0m0-.6h0m.1 0h0m.7 .4h0m.2 2h0m0-3.6h0m.1 3.4h0m.5-.3h0m0-2.5h0m1.2 3.4h0m1.2-2.9h0m1.4-1.7h0m.4 4.9h0m.4-1.3h0m.5-2h0m.9-1.1h0m1.7 3.2h0m1-2.2h0m.8 .2h0m.9 .8h0m.4 2.4h0m2.1-.9h0m.4-2.8h0m.7-1.5h0m.8 5.4h0m.1-4.7h0m1.1-.7h0m.1 4h0m1-2h0m1.3 2h0m1.3-3.9h0m.2 1.6h0m1.4 3.4h0m.6-2.8h0m1.8 1.7h0m.6-3.4h0m.9 1.6h0m.9 2.7h0m1.3 .8h0m.1-2.2h0m.1-2.2h0m2.3-.8h0m.6 2.4h0m.1 1.7h0m1.7-3.3h0m1 2.4h0m1.4-2.6h0m2.2 3.3h0m.2-4.4h0m.9 2.8h0m.4-2.7h0m1.9 5.3h0m.3-3.3h0m.6-1.5h0m1.7 4h0m.5 1.2h0m.2-5.5h0m.4 2.9h0m1.9 1.7h0m.2-4.3h0m.9 2.1h0m1.2-.9h0m.2 1.1h0m.7 2.8h0m.6-.8h0m.9-2.5h0m.1-1.3h0m1.9 2.6h0m.2-2.1h0m2.3 1.2h0m.6-3h0m.9 5.5h0m1.3-4h0m.6 1.7h0m.2 .8h0m.8-3.7h0m1 3.8h0m.2 .1h0m1.1-3.8h0m.8 3.2h0m1.7-1.2h0m0 1.2h0m1.6-1.2h0m.6-1.5h0m1 5h0m1.6-2h0m.1-1.8h0m.7-1.4h0m1 4h0m.6-1.6h0m1.4-2.7h0m.8 2.9h0m.5 2.4h0m.1-3h0m1.7-2.3h0m.6 4.3h0m.4-3.1h0m2.6 .3h0m0 1.7h0m1.6 1.9h0m.9-.1h0m.5-3.2h0m.6 1.1h0m2.3 0h0m0-2.2h0m.3 3.8h0m.9-.5h0m1.5-4.1h0m.6 3.2h0m.8 1.8h0m1.1-3.3h0m1.7 1.7h0m.9 2.3h0m.4-4.8h0m1.6 3.8h0m1.1-3.6h0m.7 1.4h0m.1 2.9h0m2.3-3.4h0m.2 2.7h0m2.5-1.4h0m.7-1.6h0m1.5 3.7h0m.5-2.8h0m1.4 2.1h0m.9-3.8h0m1.3 3.4h0m1.2-2.6h0m2-1.3h0m.2 4.8h0m.3-2h0m2.1-.8h0m.6 2.9h0m.2-5.6h0m.6 5.6h0m1.6-2.3h0m.7-1.6h0m.3 3.2h0m.3-4.9h0m2 4.4h0m.5-1.3h0m0-1.8h0m1.8 4.5h0m.5-5.6h0m.9 2.6h0m1 1.2h0m1.1-2.3h0m2.1 2.1h0m.4-3.2h0m1.8 .6h0m.1 3.4h0m2.2-.6h0m.9-2.9h0m.7 1.9h0m2.1 1.2h0m.2-3.5h0m.6 3.4h0m.1 1.3h0m1.9-4.2h0m.7 1.7h0m.3-1.7h0m0 4.2h0m2.2-.5h0m.4-1.8h0m.2-2.5h0m1.8 5.3h0m.1-3.5h0m1.1-1h0m.6 2.6h0m.5-2.1h0m1.1 1.6h0m.9 2.2h0m1.2-5h0m1 2.3h0m.7 2.1h0m.4-2h0m1.2 2.5h0m.2-4.6h0m1 3.5h0m.3 1h0m.2-3.1h0m.1 2.5h0m.5-4.7h0m.1 2.2h0m2.1-1.5h0m.6-.2h0m1.7 0h0m1.1 2.1h0m.6-1.4h0m.3 0h0m1.1-1h0m3.2 5.2h0m2.3-3.4h0m.7-.1h0m.3 1.4h0m6.8 1.3h0m-204.4 5.8h0m6.6 1h0m3.4-1.2h0m4.8-2.9h0m1 4h0m1.8-4.1h0m1.5 1.1h0m2.1-2.2h0m.7 3.8h0m.4-.1h0m.4-1.7h0m0-1.9h0m.8 2.3h0m.2 .9h0m.1 1.4h0m1.3 .4h0m.3-3h0m1.5-.7h0m.9 1.7h0m1.4-.3h0m.9-1h0m2 1.3h0m.2 1.6h0m.4-3.9h0m1.8 2h0m1.3-1.3h0m.5 2.5h0m2.5-2.2h0m1.5-.7h0m.3 3.3h0m.7 .3h0m1.7-3.7h0m.6-.3h0m.1 3.1h0m.1-1.9h0m2.3 2.7h0m1-3.9h0m.3 .7h0m.3 2.3h0m.5-2.1h0m1.8 3.4h0m.3-4.6h0m.9 3.4h0m.2-1.6h0m.5 2.1h0m.7-3.9h0m2.6 4.9h0m.2-2.2h0m.5-2.1h0m.3 2h0m2.2-1h0m.6 2.5h0m.3-4.4h0m.3 1.7h0m1.2 2.1h0m1.6-3.8h0m.4 2.9h0m.9 1.7h0m1.6-3.7h0m.2 1.4h0m.3 3.2h0m1.9-1.8h0m.1-2.6h0m1.6 3.4h0m2.2-1.8h0m.6 1.7h0m1.6-3.5h0m.9 3.3h0m.2-1.3h0m2.6 2.7h0m.2-2.5h0m1.3-2.6h0m0 1.8h0m1.8-2.1h0m0 4.4h0m1.1-3.5h0m1.1 .9h0m.2 2.8h0m1.5-.5h0m1.5-2.8h0m.6 2.9h0m.6-4.1h0m.6 3.5h0m1.1-1.3h0m1.3 1.3h0m.6-4h0m.5 5.1h0m.4-1.8h0m1.2-2.7h0m1.5 3.2h0m1.8 .1h0m.2-3.1h0m1.3 2.2h0m.4 2.1h0m1.1-4.8h0m1.1 3.5h0m1.8-3.1h0m.1 2.2h0m2.2 1.8h0m.4-4.3h0m.4 2.2h0m.5 3.2h0m1.3-3.9h0m1.1 1.3h0m.1-1.1h0m1.8 1.9h0m.8-2.8h0m.3 2h0m2-1.2h0m.2 3h0m1.1-3.8h0m1.4 1h0m.2 3.2h0m1.5 .1h0m1-2.2h0m.5-.9h0m1 .5h0m3.2-2.4h0m.1 2.6h0m1.6-2.5h0m1.5 4.1h0m.2 .5h0m.2-3.1h0m1.4 2.9h0m.8-3.1h0m.2-1.6h0m.4 4.1h0m1.7-2.4h0m1.9 .5h0m.2 2.2h0m1.4-1h0m1.1-2.2h0m1.6 2.2h0m.5-3h0m2 1.3h0m.9-1.6h0m.1 4.8h0m2-1.9h0m.9 1.1h0m.2-3h0m.4 1.8h0m2.1 1.3h0m.8-3.5h0m.6 2.9h0m.7 1.7h0m1.2-3.9h0m.1 3.3h0m1.1-3.9h0m.9 3.2h0m1.5-2.5h0m0 .4h0m.4-.7h0m.1-.6h0m.1 .2h0m.4-.6h0m0 4.6h0m.8-3.4h0m.9 .6h0m0-1.1h0m0 1h0m0-1.6h0m0 1.3h0m.4 .8h0m.5-1.1h0m.3 2.5h0m1.9-3.7h0m1.1 1.7h0m.7 3.5h0m.2-1.7h0m.1-.5h0m.7 2.1h0m0-5.2h0m1.8 2.2h0m.6 .8h0m1.7 .1h0m.8 2.1h0m.1-1.4h0m.2-3.5h0m1.6 2.7h0m2.2 .1h0m.1-1.2h0m1.6 3.3h0m2.5-1.9h0m.1-.6h0m.6 2.7h0m.6-4h0m.5 1.2h0m.2-2.8h0m1.2 5.7h0m.2-2.8h0m.1-2.6h0m1.6 2h0m3.9 .7h0m.2 2.1h0m1.7-4.1h0m1.6-.7h0m5.1 1.1h0m.7-1.1h0m4.6 0h0m-224.3 7.5h0m3.5 3.3h0m3.9-1.5h0m5.5 1.1h0m3.8-.5h0m5.5-2.5h0m6.3-1.7h0m.1 4h0m1.4 0h0m0-3.3h0m3.4 2.1h0m0 .6h0m.1 .8h0m2.2-1.1h0m.8-1.9h0m2.1-.2h0m2.3 .5h0m.2 1.3h0m.2 2.8h0m.7 .1h0m.4-2.9h0m.5 1.9h0m.1-.9h0m.8-4h0m3.2 2.7h0m.2-1.7h0m.2 4.6h0m1.3-1.6h0m.9-1.9h0m1.4 1.9h0m.1-2.7h0m2.1 4.3h0m0-4.9h0m.3 3h0m0-3.4h0m.3 .1h0m.2-.4h0m.3 .7h0m.2 .7h0m0-.1h0m.3 .2h0m.4-.4h0m0 .3h0m.8 .4h0m.8 2h0m.3-2h0m.5 .4h0m0-1.2h0m.7-.8h0m1.6 4.3h0m1.4-4.3h0m0 2h0m1.7 2.5h0m.8-4.1h0m1.4 1.5h0m.3 2.4h0m1.1-3.7h0m.5 3.9h0m.7-3.2h0m1.8 3.2h0m.9-4.3h0m.1 1.8h0m.8 1.1h0m2.1 1.7h0m.5-3.7h0m1.6 4.1h0m.3-2.6h0m0-1.7h0m1.2 2.3h0m1.5-2.7h0m1.3 2.8h0m1.5-.6h0m1-2.8h0m.8 5.1h0m.7-1.6h0m1.1-2.8h0m1.3 4.9h0m1-2.4h0m.3-3h0m1.4 3.2h0m1.1-2.4h0m.9 2.7h0m2.2 1.2h0m.9-2.8h0m.4 2.4h0m.2-3.3h0m2.5 1.1h0m.2 2.8h0m1.1-4.6h0m.9 1.3h0m.7 3.4h0m.2-4h0m1.6 .9h0m1.6 1.8h0m1.4-4.1h0m.6 3.4h0m.9 2.5h0m.8-3.6h0m1.3 3h0m1-4.6h0m.1 1.6h0m.4 2.2h0m1.5-3h0m.3 2.1h0m1.5 1.6h0m.2-2.5h0m1.6-1.3h0m1.1 3.5h0m1.9 .2h0m.1-3.4h0m.3 2.5h0m1.9-3.7h0m.8 2.1h0m0 3.3h0m1.9-1.2h0m.6-3.3h0m2.1 3h0m.6 1.1h0m.5-1.6h0m0-2.7h0m2.5-1h0m.4 3.5h0m.7 2.3h0m1.5-3.2h0m.9 2.6h0m1.3-5.1h0m.3 3h0m2.3-3.2h0m.5 3.6h0m1.2-1.5h0m.6 2.1h0m2.4-2.6h0m.6 1.8h0m2.3-.6h0m.6 1.8h0m1.4-3.9h0m1.2-.7h0m.6 4h0m.1 1.5h0m0-2.6h0m1.6 .8h0m.3-3.6h0m2.7 2h0m.6 1.8h0m.2-2.1h0m2.9-.5h0m.5 2h0m1.4 1.6h0m.5-5h0m.6 3.7h0m.8 2.2h0m.4-4.7h0m.8 3.6h0m.3-4.5h0m1 2.8h0m.5 2.5h0m.6-1.6h0m.1 .1h0m.7-3.3h0m.1 2.6h0m.5-.1h0m.1 .4h0m1.1-.5h0m.3-.4h0m.8 2.4h0m1.4 .5h0m.2-4h0m.2 1.5h0m1.5-1.9h0m1.3 2.2h0m0 .2h0m1-2.2h0m.4 3.7h0m.8-3.8h0m.1 0h0m.1-1h0m2.2 5.1h0m.2-5.2h0m.5 1.1h0m.4 .6h0m1.8 2.6h0m2.3-2.2h0m.4-1h0m3.2-.4h0m0 2.8h0m5.3-1.1h0m1.5 1.6h0m3.4-3.5h0m2.2-.5h0m16.3 3.8h0m6.6-4h0m-218.4 10.3h0m1.4-3.5h0m2.5 3.9h0m5.5 .3h0m.3 0h0m.3-2.6h0m2.5 2.8h0m1.5-4.8h0m.8 3.2h0m.8 1.6h0m.6-4.6h0m1.8 3.6h0m3.3-2.5h0m0 3.6h0m2.2-.2h0m.1-2.5h0m1.5-2.6h0m1.3 1.5h0m.4 4.3h0m.5-.5h0m1.4 .4h0m.3-2.7h0m.8-.8h0m.1-.4h0m.6 1.4h0m1.3 2.1h0m.4-2.4h0m1.1 2.8h0m.2-5.6h0m.7 5.2h0m1.5-.2h0m.5-1.4h0m0-.1h0m.2 1.3h0m.8-2.2h0m.1 1.3h0m1.1-3.9h0m0 4.9h0m1.5-1.8h0m1.4 2.7h0m.2-4.6h0m.3 .9h0m.9 1.9h0m.2-3.8h0m1.9 3.5h0m.1-3.4h0m1.4 5h0m1.2-5.2h0m.2 4.5h0m0-2.8h0m2.5 1.5h0m.9-3.2h0m1.5 5.3h0m.2-5.2h0m.4 3.5h0m1.5 .9h0m.8-1.7h0m.4-2.1h0m1.1 2.3h0m.1 2.5h0m1.6-1.6h0m.3-4.1h0m.9 3.1h0m.8-2.4h0m1.4 4.2h0m1.5-4.1h0m.1 1.4h0m.7 3.6h0m.2-2.9h0m.6-1.8h0m2 1.9h0m.8 .1h0m.7-2.9h0m1.8 4.7h0m.1-3.4h0m.8 3.2h0m1.3-3.1h0m.3 2.3h0m1.7 1.2h0m.7-2.7h0m.2-2.3h0m1.1 3.4h0m.6-3.5h0m1 1.7h0m1.9 .7h0m.7 2.2h0m1-1.6h0m1.7 2.6h0m.2-5h0m1.3 3h0m1.1 1.4h0m.2-4.3h0m2.2 2.7h0m.4 1h0m.2-4.1h0m1.1 3.3h0m1.2 .9h0m.8-3.1h0m1.7 3.1h0m.3-3.4h0m1.4 4.6h0m.8-2.1h0m.5-1.6h0m.9 .6h0m.2 3.1h0m.6-5.5h0m1.9 5.3h0m.5-2.7h0m1.2-1.4h0m0 3.4h0m2 .3h0m.1-2.2h0m1.9-.1h0m.1-1.8h0m1.3 4.1h0m1.2-2.5h0m.1-1.3h0m1.1 3.8h0m2.1-4.3h0m.4 2.5h0m.6 1.2h0m1.4-3.4h0m.3 3.6h0m1.6-2.6h0m.1 3.3h0m1.6-3.4h0m1.6 2.8h0m.4-3h0m1.9-1.2h0m.7 3.3h0m1.1 0h0m1.1-1.8h0m1.3-1.2h0m1.2 4.8h0m.2-2.9h0m.3 1.9h0m.3-2.2h0m.7-1h0m2.3 2.2h0m1-2.8h0m.8 1.9h0m1.7-2.7h0m.5 4.9h0m.4-1.3h0m2.2-2.7h0m.5 4.6h0m1.6-2.2h0m.3 .4h0m.2-3.3h0m2.4 4h0m0-2.7h0m1.2 .8h0m2.4-1.1h0m.2 2.4h0m1.7-3.8h0m1.3 3.3h0m.4-2.8h0m2 2.1h0m.3 1.4h0m.4-3.2h0m2 .6h0m.2 2.1h0m1 1.9h0m1.2-1.9h0m.8 1h0m.1-1.8h0m2.6-.7h0m.7 1.1h0m.2-3h0m.1 5h0m.2-3.5h0m0 4.1h0m.2-5.1h0m.1 .8h0m2 3.5h0m1.1-2.6h0m.5-1.1h0m.5 3.4h0m.2-2.4h0m1.4 3.5h0m1-5.3h0m.8 1.1h0m.9-1.5h0m6.2 5.3h0m6-5.2h0m6.5 4h0m59.4-3.7h0m-266.2 10.7h0m11-.8h0m7.6-.4h0m.8-.7h0m.3 2.2h0m1.7-2.7h0m1.4 .3h0m.8-1.1h0m1.8 1.1h0m1.9 1.2h0m.1 .7h0m1.2 .3h0m.4-.3h0m1-4.2h0m.4 4.5h0m1.5-4.6h0m.1 2.8h0m2.1-2.1h0m.8 3.3h0m0-.9h0m0-1.4h0m1-2.2h0m.1 4.3h0m3.3-.3h0m.5-.1h0m.2 .7h0m.9-2.4h0m.2 .3h0m.4-2.2h0m1.1 5.2h0m.7-2h0m.8-2.8h0m0-.6h0m1.5 1.4h0m.7 2.7h0m.9 .1h0m.5-3.6h0m2.5 2.2h0m0-3.1h0m.8 .2h0m.1 5.6h0m.8-2h0m.6-3.4h0m.1-.4h0m.5 4.1h0m1.2-2.3h0m.4 2h0m2.4-2.9h0m.5 3.6h0m.5-1.2h0m2.4-1.2h0m.2 3.1h0m.7-4.1h0m.6 2.9h0m1.9-.9h0m.2 2.8h0m.7-2.6h0m.8-2h0m1.3 4.6h0m.2-5.4h0m.4 2.1h0m1.4 1.7h0m.2-2.4h0m1.2 .3h0m1.6 3.2h0m.3-2.1h0m.9-2h0m.5 1.2h0m.2 1.3h0m2.7-3.9h0m.2 3.8h0m1-2.2h0m1.6 3.3h0m1.2-2.6h0m.2 3.2h0m.6-2.9h0m2.6-.1h0m.3 3.1h0m0-1.8h0m.6-3.8h0m1.6 .3h0m.6 3.2h0m0-1.3h0m1.4 3.3h0m.4-.8h0m.7-2.1h0m1.5-1.2h0m1 3.1h0m1-3.5h0m.6 4h0m1.9-.2h0m.3-3.2h0m0-1.5h0m.6 4.1h0m1.4-3h0m1.3 4.3h0m.3-1.2h0m1.2 .7h0m0-2.6h0m2.5 .2h0m.1 1.3h0m1.3-2.9h0m1.2 2.5h0m1.8 1.5h0m.1-3.4h0m1.2 1.1h0m2.4 1.4h0m.1-3.5h0m.3 2.9h0m2.4-1.8h0m.5 3h0m.8 .6h0m.9-1.6h0m.3-2.1h0m2.1 3.1h0m1.4-2.2h0m1.3 3.2h0m.9-3.7h0m.7 2.5h0m.5-4.4h0m1 3.1h0m.8-2.7h0m1.1 2.2h0m.8 2.1h0m1.6-.6h0m.6-2.3h0m2.2 2h0m.1-3.1h0m.7 4.9h0m1-1.5h0m.2-2.8h0m1.1 4h0m1.7-3.1h0m.1-1.1h0m.1 3.8h0m.2-2.3h0m1.6-1.5h0m1.4 4h0m.3-4.1h0m.2 3.3h0m1.5-3.9h0m1 1.9h0m.7 3.3h0m2.5-3.5h0m.1 2.3h0m.9-2.7h0m.5 4.1h0m1.1-5.8h0m.8 4.1h0m.5-2.1h0m.2-1.3h0m2.1 1.6h0m.9-.8h0m.7 2.9h0m2.3-2h0m.5 1.6h0m.7-2.6h0m.6 4.1h0m.3-.3h0m0-1.9h0m.6 .7h0m1-3.9h0m.4 2.6h0m1.1-.2h0m.3 3.4h0m.2-.4h0m1 .1h0m.6-5.5h0m.7 4.3h0m.6 1.4h0m.3-4.2h0m.7 3.4h0m.2 .9h0m.4-1.1h0m.4-2.2h0m0-2.5h0m.3 2.3h0m1.1-.2h0m.1-.3h0m.6-1.4h0m1.5 .5h0m.8-.3h0m.5-.1h0m2.5 1.2h0m.8 3.6h0m.3-4h0m.7 1.9h0m.2 2.1h0m.1-5.1h0m.5 0h0m4.2 3h0m3.3-2.2h0m1.6-.2h0m-189.4 10.5h0m6.8-2.7h0m4.6-2.6h0m.1 3.1h0m1.5-2.1h0m.4 4h0m2.9-2.3h0m.2-.7h0m1.4-.1h0m2.8 3h0m.1 .3h0m.3 .1h0m1.1-4.2h0m.2 4.5h0m.1-3.3h0m.8 2.5h0m1.1-4.4h0m.4 1.1h0m.3 3.8h0m.5-3.2h0m.4-.5h0m.6-.6h0m.1 1.8h0m0 2.6h0m.4-4.3h0m1.9 4.1h0m.8-2.3h0m0-1.1h0m.4-1.1h0m.1 0h0m.2-.8h0m.2 2.1h0m.1-.1h0m.2 1.2h0m.2-1.4h0m.2 2.9h0m1.2-1.5h0m.8 2h0m1.7-1.5h0m.1-1.7h0m.1 1.2h0m.5-2.6h0m.4 3.7h0m.6-3.6h0m.6 3.2h0m.3 1.6h0m1.4-.2h0m.1-4.5h0m2-.8h0m.2 3.8h0m1.8-1h0m1.9-2.3h0m.9 4.2h0m.9-3.1h0m2 1.6h0m.3-2.6h0m1 2.6h0m.8 1.8h0m1.9-4.3h0m.6 1.7h0m.9 .9h0m2.5-1.5h0m2 2.1h0m.4-3.1h0m.7 2.8h0m2.5-2.4h0m.2 3.6h0m2.7-4.5h0m0 3.2h0m2.4 .5h0m.1-.8h0m1.8-1.7h0m1 3.3h0m.7-2.4h0m.2 1.8h0m1.8-1.2h0m.4-1.8h0m1.8 3.6h0m1.3-2.9h0m1.3 2.7h0m.3-4.7h0m.7 2.6h0m1.9 .6h0m.6-2.3h0m1.7 4.7h0m.8-4.9h0m.3 2.2h0m1.5 2.1h0m1.1-2.5h0m2.5 3.2h0m.1-3.8h0m.4 2h0m1.3 .6h0m1.4-2.2h0m2 2.6h0m.1-3.9h0m1.9 2.4h0m.8-2.8h0m.7 5.2h0m.8-2.6h0m.1-1.9h0m1.9 4.7h0m1.4-3.8h0m.5 .9h0m2.3-1.3h0m.4 1.9h0m1.6 .6h0m.2-4.3h0m.9 3.3h0m.2 2.5h0m.5-5h0m.9 2.1h0m1.8 2.8h0m1.1-3.7h0m.9 4h0m.8-5.7h0m.2 2.8h0m1.1-.6h0m1.5 2.6h0m.6-4.9h0m1.5 2.2h0m.7 1.9h0m1.3-3.1h0m1.3 2h0m.6 2.1h0m.7-4.1h0m1 1.6h0m.7 2.3h0m.4-3.1h0m1.9 2.7h0m1-4h0m0 1.2h0m1.3-.6h0m1.4 3.2h0m.1-2h0m0-.2h0m.2 2h0m.1-1.1h0m.4 1h0m1.1-2.2h0m0 3.7h0m.1-5.3h0m.3 4.9h0m1.1-.1h0m0 .2h0m.3 0h0m.6-2.9h0m.3 .2h0m.5 .8h0m.3-.9h0m.7 2.5h0m.9-.8h0m1.4 1.3h0m.5-3.6h0m.8 3.2h0m1.2-2.8h0m.8 1.3h0m1.5-2.3h0m.3 2.7h0m2.1-2.4h0m.5 3.6h0m.7-5.1h0m0 4.1h0m.1 1.6h0m.1-1.7h0m.4 .5h0m1.3-1.8h0m1.1 .3h0m1.1-2.1h0m.5 1.6h0m1.8 1.5h0m.4-2.4h0m.1 2.7h0m.2-4.4h0m1.3 4h0m1.3-.7h0m.6-2.3h0m.6 2.4h0m.7-2.7h0m.3 .9h0m.3 4.1h0m2.6-2.1h0m.4-.5h0m8.3 0h0m6.1-2.7h0m4.4 0h0m-263.7 11h0m77.7-3.8h0m.2-.9h0m.9 2.6h0m2.5 1.4h0m6.4 .7h0m4.7-1.7h0m.8-2.9h0m.9 2.2h0m.5 .5h0m3.9-1.9h0m.9 2h0m2.6 .3h0m1.4-1.5h0m.6 2.4h0m1.8-.7h0m.5-1.1h0m1.2-2.3h0m.9 1.1h0m0 0h0m.1 2.7h0m2-1.9h0m1 1.9h0m.9-1.6h0m.5-1.7h0m2.3 3.4h0m.5-1.1h0m1.4-1.9h0m1.2 1.9h0m1.2 1.6h0m1.3-3.1h0m1.6-.4h0m.7 2.9h0m1.6-3.9h0m.9 2.7h0m1.4-1.5h0m.5 3.3h0m1.5-.8h0m.3-3.3h0m1.4 2.5h0m1.2-3.3h0m1.6 2.6h0m0 1.4h0m2.3-2.4h0m.2-1.7h0m1 4.7h0m1.2-4.9h0m.8 1.9h0m.1 2.7h0m1.8-4.5h0m.9 3.3h0m1-1.3h0m1.9 3.6h0m.9-4.4h0m.2 3h0m.1 1.1h0m1.1-5h0m1.2 .3h0m.1 3h0m0 2h0m2.3-1.9h0m1.4-2.9h0m.8 1.4h0m.1 2.6h0m.4-4.6h0m1.3 5.6h0m1.4-3h0m.1-2h0m1.6 3.2h0m1.6-3.9h0m.9 2h0m.1-2.1h0m.3 3.8h0m1.9-1.6h0m1.1 3.1h0m.1-4.9h0m.6 3.3h0m2-1.5h0m1.4 3.5h0m.7-3.7h0m.7 2.3h0m2.2-1.9h0m1.5 2.7h0m.8-4.4h0m.7 1.7h0m1.2 1.8h0m1-3.8h0m.1 3.6h0m1 .1h0m.7-2.7h0m1.1 .4h0m.4 3.8h0m1.1-2.4h0m1.9 2.3h0m.7-2.9h0m1.7-2.7h0m.6 5.4h0m.2-3.5h0m1.4 1.9h0m.6-2.4h0m2.6 1h0m0 1.7h0m2 .4h0m.7-3.2h0m.7 2.3h0m2.3-.4h0m.6 .1h0m.5-3h0m1.5 3.1h0m1.5-1.7h0m.4 3.2h0m.9-4.5h0m.5 4.2h0m1.2-1.9h0m2.3 2.9h0m.5-3.6h0m.7 2.4h0m.4-1.2h0m.5 2.7h0m1.2-5.7h0m1.4 3.1h0m.8 2h0m.5-4.1h0m1.3 1.5h0m2.1 2.3h0m0 .4h0m.1-2.7h0m1 1.9h0m.2 1.1h0m.4-.1h0m1.3-3.8h0m.9 2.5h0m2.5-1.6h0m1.5 2h0m.9 0h0m.8-2.3h0m1.2-.7h0m.1-1.5h0m.4 2.4h0m1.2-1.1h0m.3-1.2h0m.1 2.2h0m.2 .3h0m.6 1.7h0m.1-2.2h0m1.2 2.5h0m3-2.5h0m2.1 2h0m.1-.3h0m.3 0h0m2.3-3.4h0m4.5 4.5h0m1.7-4.3h0m2.7 1h0m1.1-.2h0m38.1 2.3h0m26.2 .2h0m-248.9 3.3h0m13.3 3.8h0m5.6 .2h0m6-3.2h0m.4 .8h0m.5-1.2h0m2.4 2.3h0m1.3-1.6h0m.7 1.7h0m.7-1.4h0m.2-.2h0m.3-.3h0m.1 3.4h0m.2-3.8h0m.7 .1h0m.1 1.5h0m1.2-3h0m1.2 .5h0m.1 .5h0m.5 1.7h0m.5 1.6h0m.6-2.3h0m.2 .7h0m.1-2.4h0m.2 2.9h0m.6-2.8h0m1.6 1.7h0m.2 3.4h0m1.7-4.9h0m.9 2.9h0m1.9 2h0m.1-4.8h0m.5 1h0m1.5 3.8h0m.8-5h0m.7 3.1h0m.2 1.1h0m.3-2.2h0m.1-2.1h0m2.2 5h0m.6-2.5h0m.2-2.3h0m.4-.9h0m1.3 2.5h0m.4 2.8h0m1.6-4.5h0m1.1 2.6h0m1.8-.7h0m.6 1.8h0m.3-3.8h0m1.4 .5h0m1 2.6h0m.1 .9h0m.2-3.8h0m1.4 0h0m1 4.4h0m.9-1.7h0m.6-3.6h0m1.8 .5h0m.4 2.9h0m.7 1.9h0m1.5-1.6h0m.2-2.1h0m1.8-.6h0m.5 4.4h0m.4-2.3h0m1.8 1.8h0m.5-1.1h0m.1-3.9h0m1 1.7h0m1.7 2.5h0m1.1-4.2h0m.5 1.5h0m.9 4.4h0m.7-2.9h0m1.3-1.1h0m.8 2.9h0m.1 1.1h0m1.5-4.1h0m.1 2.5h0m1.7-2.4h0m.5-1.7h0m.3 4.1h0m.9 0h0m1-3.3h0m1.1 4.8h0m1-2.2h0m.8 1.1h0m1.3-4.3h0m1.2 2.8h0m.9 2.2h0m.7-4.9h0m.7 1.4h0m.6 3.2h0m.6-.4h0m1.5-4.3h0m.8 3.6h0m.5-1.4h0m1.3-2.6h0m0 5.1h0m.9-3.4h0m.5 2.1h0m2.1-2.6h0m.3 2.7h0m.9-1.2h0m.2-2.2h0m1.9 2.9h0m.5-1.3h0m1.3 2.4h0m1.3-2.8h0m.2 3.2h0m1.7-.9h0m.4 1.7h0m.6-5.8h0m.5 2.2h0m1.6 .4h0m.2 2.7h0m3-3h0m.1 2.1h0m2.1-1.9h0m.4 2.4h0m2-2.1h0m.5-2.6h0m1.3 4.8h0m.6-4.3h0m1 2.9h0m2.2 1.4h0m.1-4.1h0m.2 4.6h0m.1-.5h0m.2-.4h0m.2 .1h0m.6 .1h0m0-3.2h0m1.2-.6h0m1.5 3.6h0m.5-.5h0m.2-1.1h0m0 1.9h0m.4-4.4h0m.4 3.6h0m.1 0h0m1-.5h0m1.3-2.6h0m1.6 2.9h0m1.1-2.8h0m.1 .5h0m.1 1.4h0m.3-.2h0m.4-.2h0m1 2.4h0m.1-.9h0m1.1 .5h0m2.8-.5h0m.3-3.3h0m1.3-.6h0m1.3 1.1h0m.3 1.3h0m1 1.9h0m2.5 .3h0m1.5-4.7h0m1.4 2.2h0m1.8-2.1h0m3.8 .4h0m1.1 1.3h0m.2-1.6h0m11.1-.2h0m16 3h0m-211.4 3.4h0m7.4 4.2h0m15.9-.2h0m1.5-3.9h0m0 4.2h0m8-4.4h0m2.2 1.9h0m.8 .6h0m0-1.7h0m1.4 2.1h0m.1 2h0m1.3-2.8h0m.2 1.1h0m.6 .9h0m2-.5h0m.5-1.7h0m1.9 1.2h0m.2-.8h0m.6-1.2h0m.7-1.2h0m.4-.2h0m.7 4.8h0m0-3.4h0m.2-.7h0m1.2 4.2h0m.4-4.9h0m.8 1.1h0m1.2 2.1h0m1.2 2.6h0m.3-3.7h0m.5-2.1h0m.6 5.2h0m.1-4.3h0m.7 1.4h0m0 .7h0m.1-.5h0m.1-.4h0m.3 0h0m.7 .6h0m.9 .7h0m.1 1.5h0m.8-2h0m.5-1.5h0m.8-.1h0m.9 4.3h0m1.2-2.1h0m.8-1.5h0m1.7 3.7h0m.5-5.3h0m.1 2.9h0m2.9 .1h0m1-1.2h0m.9 2.8h0m1.9-.1h0m.2-2.2h0m1.6-.8h0m.2 1.9h0m.5 2h0m2.4-4.8h0m.4 3.5h0m1.2 1.1h0m.2-4.9h0m.5 1.9h0m2.2 1.6h0m.3-2.7h0m.2 1.3h0m2.9 2h0m.1-4.2h0m.1 1h0m.2 4.2h0m1.8-2.4h0m1.1-2.9h0m1.3 4.4h0m0-2.6h0m2.1 2.8h0m.6-2.5h0m2-1.7h0m.7 3.8h0m1.4-.3h0m.6-2.2h0m2.2 1.8h0m.1-3h0m1.4 3.1h0m.9-3.8h0m.9 2.5h0m1.8-1.2h0m1.4 2.9h0m2.2-.1h0m.2-1.9h0m1.5-.9h0m.5 3h0m1-4.4h0m.5 2.9h0m2-.8h0m1.3 1.2h0m.8 2.1h0m.3-3.8h0m.6 1.4h0m2.4 2.4h0m.3-2h0m.4-1.2h0m1.4 .1h0m1.5 2.3h0m.3-3.2h0m1 2.5h0m0 0h0m0-.4h0m.9-1.4h0m.6 1.9h0m1.2 .3h0m.5 1.3h0m.4-2.3h0m.4-2.7h0m.2 1.1h0m1.6 1.8h0m.7 .5h0m1-3.7h0m.9 1.2h0m.6 3.1h0m.4-3.7h0m1.1 2.3h0m.7 2h0m.3 .1h0m.4 0h0m1-3.7h0m.8 1.3h0m.8 2.1h0m1.6-3.4h0m.5 .7h0m1.6-2.1h0m.2 2h0m.6 2.8h0m.6-1.8h0m.8 1.6h0m1.1-4.9h0m.2 2.3h0m2.2-2.2h0m.1 2.1h0m1.1 .6h0m.7 2.5h0m.7-3.7h0m1.6 3.5h0m0-4.6h0m.3 2.8h0m.7-3h0m2.6 3.5h0m0 1.4h0m.4-5.1h0m0 3.5h0m1.7-2.3h0m.3 1.3h0m.4 1.2h0m1.2-1.5h0m.1 1.6h0m.9-.5h0m.5-.7h0m.4-2.3h0m.3 .5h0m0 2.4h0m.7-1.1h0m2.3 1.4h0m.1-2.7h0m1.6-1h0m7 .8h0m5.2 1.8h0m13.5-1.4h0m12.2 3h0m18.8-1.8h0m18.4 1.6h0m-248.5 3.1h0m27.9 1h0m.3 3.3h0m1.7-.8h0m.6 1.1h0m1-4.7h0m.1 4.8h0m.5-1.1h0m.7-4.2h0m.8 1h0m.7 .7h0m1.2 .7h0m.5 1.1h0m.8-.1h0m.3 .7h0m.5-.9h0m.4-1.2h0m1.7 3h0m1.6-3.6h0m0 2.8h0m.8 .8h0m.1-2.8h0m2.5 1h0m.3-2.3h0m2.3 1.9h0m.1 1.9h0m.8-2.7h0m.7-2.1h0m1.2 5.4h0m.4-3.9h0m.6 3.9h0m1.3-2.8h0m.1-2.5h0m1.9 2.9h0m.6 1.7h0m0-3.6h0m2.1 .4h0m1.3-.4h0m0 2.1h0m1.6 .6h0m.9 .3h0m.7-2.4h0m2.1-1h0m.7 1.5h0m0 3h0m2-.8h0m.2-4.7h0m.2 2.8h0m2.5 1.5h0m.2-2.2h0m.8 2.8h0m1.4-1.3h0m1.3-.6h0m0-1.6h0m2.1 2.6h0m0-4.2h0m1.4 2.8h0m2-.6h0m0 2.6h0m1.4-.9h0m1.2-3.1h0m1.7 4.7h0m.1-3.5h0m1.6 1.9h0m2.2-2h0m.6 2.5h0m.8-1.1h0m1.2-2.4h0m.8 2.5h0m.5-2.1h0m2 4.7h0m.2-1.6h0m.2-1.1h0m1-2.7h0m.4 3.6h0m1.5-2.9h0m.9 .2h0m1 2.2h0m.8 2.2h0m.1-4.1h0m2 2.6h0m.5-.7h0m.8-3.6h0m.8 2.7h0m1.1 3.2h0m1.3-5.1h0m.6 2.2h0m1.2-2.6h0m1.5 3.2h0m.2-1.3h0m.3 3h0m.9-1.6h0m.6-3.7h0m1.7 1h0m.2 3.3h0m1.9-3.3h0m.1 1.4h0m1.1 3.1h0m.6-4.4h0m.7 1.3h0m.7 2.9h0m1.2-4.1h0m1.2 2.2h0m.2-3.3h0m.5 4.3h0m2.1-2.2h0m.9 2.9h0m1.4-3.6h0m.7 2.7h0m2.2 .3h0m.8-3.2h0m.1 3.3h0m.1-2.8h0m.7-.8h0m.2 0h0m0 1.2h0m.9 .3h0m.3-.4h0m.5 .1h0m.6 2.2h0m.1-1.1h0m.9-1.9h0m.1-1.3h0m.4 2.4h0m1.1 2.8h0m.5-4h0m1.2 3.9h0m.4-.2h0m0 0h0m0-1.7h0m1.8 .8h0m0-3.1h0m1.5 1.5h0m0 1.3h0m1.8-3.9h0m.5 5.6h0m2-5.4h0m.5 3.4h0m.9-.8h0m1.1 1h0m.3-3.7h0m1.4 2h0m2.4 .6h0m.7-2.1h0m1.1 4.2h0m.6-3.5h0m.2 2h0m1.4-1.2h0m.7-1.2h0m2.5 2.6h0m.6-2.5h0m2.4 .5h0m1 4h0m4.6-3.7h0m1.2-1.1h0m3.9 2.4h0m4-3h0m18.1 .1h0m18.2 3.6h0m28.3-1h0m-221.5 9h0m3-4.9h0m1 .3h0m1 .4h0m3.7 4.1h0m.3-1h0m.9-.2h0m1.7-1.6h0m.7 1.9h0m.7-2.5h0m1.5 2h0m.5-2.6h0m1.9 2.6h0m.3-3h0m1.1 3.2h0m.9-3.4h0m2.4 2.3h0m.4 2.1h0m.2-5h0m.8 3.6h0m.7-1.8h0m1.8 3.5h0m.5-1.9h0m.2-.7h0m.2-2.3h0m1.4-.5h0m1.6 3h0m.4 1.7h0m.9-2.8h0m.4 1.4h0m1.9 1.5h0m.9-2.6h0m.4-.5h0m1.3 0h0m2.1 3.4h0m.3-3.6h0m.9-1h0m.4 2.8h0m2-.6h0m.9 2.5h0m.5-5.3h0m.9 .1h0m1 2.8h0m.4 1h0m1.6-2.9h0m1.6 3.5h0m.9-3.1h0m.4 2.6h0m.6 1.4h0m.3-.8h0m1.4-3.5h0m1 1.5h0m.7 2.7h0m.8-2.1h0m.2-2.8h0m1.7 3.9h0m.7-4.3h0m.1 3.5h0m1.6-2.1h0m.5 2.7h0m.9-3.7h0m.7 2.9h0m1.5-2.7h0m1.5 2.8h0m1 1.5h0m.1-2.6h0m.9-1.8h0m.9 4.2h0m.9 .8h0m.4-5h0m0 2.4h0m1.4 .3h0m1.5-.8h0m0-2.1h0m1.7 4.1h0m.7-2.9h0m2.5 2.7h0m.3-2.4h0m.9-1.8h0m.1 1.7h0m.8 3.2h0m1.1-.7h0m1.1-3.5h0m1.5 3.6h0m.8-2.2h0m.8-2.2h0m1.3 2.9h0m.2 1.7h0m1.2-3.2h0m.2 2.1h0m.2 1.5h0m2.6-2.9h0m0-2.1h0m.6 5.3h0m1.1-.2h0m.3-2.4h0m1.6-1.3h0m.5 .9h0m.4 3.1h0m.9-4.5h0m1.5 1.5h0m.2 2.6h0m1-1.4h0m.9-1.9h0m.9-.5h0m.4 3.8h0m.6-3.3h0m.1-.8h0m.5-.7h0m0 .7h0m.3 .2h0m1.2-.2h0m.3 4.5h0m.1-2.9h0m.2 0h0m.3 2.4h0m.1-3.2h0m1.3 3.2h0m.8-4.6h0m.4 4.5h0m1.5-2.8h0m.2 2.1h0m.7-2.7h0m1.4 2.6h0m1.3-4.1h0m.4 4.4h0m.1-2.6h0m0 1.3h0m0-1.2h0m.5 1.9h0m.3-.8h0m.3 2.4h0m.5-4.3h0m.9 4.2h0m1.2-4.3h0m.2 3.9h0m.2-1.9h0m.3-.2h0m.6 1.5h0m.6-.8h0m1.4 .7h0m.4-.9h0m.1 .9h0m.4-3.6h0m.7 4.2h0m1.6-3.7h0m1.1 3.9h0m1.6-2.8h0m1.2-2.1h0m.4 3h0m1-1.1h0m.9 3.3h0m-140.7 2.2h0m0 2h0m7.6 .2h0m5-1.7h0m2.6 2.4h0m3.3 .5h0m.1-4h0m.4 2.9h0m.2 1.6h0m.8-4.5h0m.1 2.6h0m1.8 2.1h0m.6-3.3h0m.7 2.7h0m1.1-1.4h0m.4-2.7h0m1.9 .2h0m.6 3.9h0m1.3-2.1h0m0-1.8h0m1.9 2.1h0m.9 1.8h0m.6-4.6h0m.4 2.9h0m.8 1.9h0m.9-4.3h0m1.5 3.2h0m.5-1.5h0m1.6 1.7h0m1.6-2.4h0m.2 1.3h0m.4 2.4h0m2-.8h0m.2-4.7h0m.9 3.4h0m.5 1.4h0m1.7-3h0m.1 1.1h0m.2-1h0m1.9 3.2h0m1.2-1.7h0m0-3.5h0m1.1 2h0m1.7 2.5h0m.6-3.7h0m.1 4.6h0m1.5-2.5h0m0-2.7h0m.1 1.6h0m.9 3.1h0m1.7-1.1h0m.3-1.3h0m.9-1.6h0m1.3 3.7h0m.7-3.6h0m1.1-.4h0m.9 2h0m1 1.9h0m1.4-2.1h0m1.2 1.6h0m1.1 1.5h0m.5-4.2h0m1.6 2h0m.4 1.4h0m.6-3.7h0m.4 1.7h0m1.2-2.8h0m1.4 4h0m.1 1.9h0m.4-3.3h0m1.7-2.3h0m.2 3.6h0m2.1 1h0m.1-3h0m1.2 3.2h0m.9-3h0m1 2.6h0m1.9-3.2h0m.7 2.6h0m1.5-3.7h0m.6 3.2h0m.2-2.6h0m1.8 2.9h0m1.6-3h0m.9 1.5h0m.9 1.3h0m1.6 2.2h0m.3-4.8h0m.5 1.7h0m1.1 .4h0m.2-.3h0m.9 .1h0m.6-2.9h0m.9 3.1h0m1.6-1.7h0m1.4 2.3h0m1-.3h0m.7-2.2h0m1.4 2h0m1.4-.4h0m1.9-.9h0m.8 3.1h0m.9-.7h0m1.3-.8h0m.7-2.7h0m1.7 2.2h0m1.1-1h0m1.8-2h0m0 1.4h0m.1 3.5h0m.8-5h0m.4 4.9h0m.6-3.1h0m2.1 .8h0m.4 1.6h0m.1-2.8h0m.9 4.1h0m.6-4.8h0m.1 3.7h0m.6-3.7h0m2.1 1.5h0m.7 2.2h0m.5-4.3h0m7 1.3h0m6.7 3.1h0m20.8 1h0m-179 .7h0m22.1 3.5h0m7.5-.5h0m.2-2.8h0m.6 3.6h0m1.5-.5h0m0-1.9h0m.3 2.1h0m.7 2.2h0m.1-5.9h0m2.5 0h0m.1 5.4h0m.5 .1h0m.4-.2h0m.7 .6h0m.1-3.4h0m.3-.6h0m.1-1.7h0m1.3 1.4h0m.6 1.7h0m1.4 2.1h0m.6-2.9h0m1.8 2.3h0m.5-3.9h0m1.9 2.2h0m1.6 .4h0m.2-3.2h0m0 5.3h0m1.9-4.8h0m.6 3.7h0m.9-1.4h0m.5 1.8h0m1.1-3.8h0m1.4 2.3h0m.1-2.4h0m1.5 3h0m1.5 1.7h0m.4-5.3h0m.4 1.6h0m.2 2.8h0m1.4-1.3h0m.7-1.6h0m.9 2.4h0m2.4 0h0m.3-2.5h0m1.3 3.5h0m1.1-2.4h0m.2-1.8h0m1.7 2.9h0m.6-1h0m1.4-.1h0m.2-2h0m2 2.5h0m.7-2.1h0m1.8-.6h0m.2 2.6h0m1.7-.4h0m.6 1.3h0m1.1-3.3h0m1.9 .7h0m.3 2.4h0m.4-3.1h0m2 5h0m.5-3.7h0m.3-.5h0m.6 2.5h0m1.8 .5h0m.7-2.8h0m1.5-1.2h0m1.3 2.9h0m1.3-3.4h0m.5 2.6h0m.7 2.8h0m2-2h0m0-1.3h0m2.6-1h0m.2 2h0m.9 2.2h0m1.2-5.5h0m.5 2.8h0m.5 2.6h0m2.4-3.9h0m.1 2.1h0m1.1 1.2h0m1.3-1.1h0m.6-3.7h0m.2 1.9h0m1.3 1.9h0m1.4 1.5h0m.2-4.7h0m1.4 1.6h0m.5 3.6h0m1.1-.8h0m.2-4.7h0m.5 5.1h0m.7-.1h0m.2 .6h0m.4-2.9h0m.4 2.5h0m.2 0h0m1.1-4.6h0m1.1 3.1h0m.6 1.3h0m.6-5.1h0m1.4 2.2h0m1.1-2.4h0m.2 5.5h0m1-1.3h0m.9-.2h0m.1 1.8h0m.4-5.1h0m1.1 1.5h0m1.5-1.9h0m.1 3.2h0m1.1 2.1h0m.4 .1h0m.7-4.1h0m1 3.5h0m.6-4.7h0m.2 2.2h0m1 1.7h0m.3-1.2h0m1.4-2.4h0m.4 3.3h0m1.2 .4h0m1.2-3h0m.5-1.2h0m2.9 5h0m4.4-4.7h0m.3 3.6h0m.4 .4h0m2.8 0h0m5.2-4h0m13.1 3.2h0m23.3-1.3h0m-187.9 5.1h0m6 .5h0m9.2 1.4h0m7.1-.2h0m.3-2.1h0m.1 3.3h0m2.3-1.6h0m.3 2.5h0m.1-2h0m2 1h0m.1 .3h0m.4 .2h0m.5 .8h0m.5-5h0m1.2 4.4h0m.4-2.7h0m.1 1.8h0m.3-3h0m.4 1.9h0m2.6 1.9h0m0-4.8h0m.6 .5h0m.3-.5h0m.1 1.7h0m1.2 1.5h0m2.8 .5h0m.7-2.5h0m1.6 3.7h0m.1 .4h0m1.6-3.6h0m.4 3h0m1.9-2.6h0m.2-1.5h0m.3 3.6h0m2.3 .6h0m.4-3.6h0m1.3-1h0m1.3 3h0m.5 2.4h0m1.1-4.2h0m1.3 3.4h0m0 .4h0m.6-5.1h0m1.6 2.8h0m2 2.1h0m.1-4.4h0m1.8 2.1h0m1.1-.5h0m.3 2.7h0m.7-4.3h0m1 3.4h0m0-3.3h0m1.8 4h0m1.3-2.5h0m.9 1.9h0m0-2.9h0m2.5 3.9h0m.4-2h0m.8-2.7h0m.5 4.9h0m1.4-1.8h0m1.1-3.1h0m.2 2.5h0m.4 2.4h0m1.2-5.3h0m1.2 5.1h0m.8-2.7h0m.7-2.3h0m0 4.9h0m.7-1.9h0m.8-2.6h0m1.2 4.4h0m1.1-1.5h0m1-2.4h0m.4 4.8h0m.4-5.7h0m.9 3.2h0m1.5 .3h0m.3-1.6h0m1.7-1.6h0m1.3 2.8h0m1.4 2.3h0m.1-5.3h0m1.4 1.1h0m.2 2.6h0m2.2-1.5h0m.6-2.4h0m.1 3.8h0m.7-1.1h0m.9 .2h0m2.4-.4h0m.3 1h0m1.3 2.1h0m.7-5.3h0m.5 2.7h0m1.9-1.5h0m0 3.9h0m.9-2.4h0m1.3-2.7h0m1.3 4.4h0m.1-2.2h0m1.2 2.4h0m.7-.6h0m0-2.2h0m.3 3.2h0m.2-2h0m.5-3.3h0m.1 2.4h0m0 3.1h0m.2-5.6h0m.1 .2h0m.5 3.1h0m.1-.2h0m.2 2.9h0m1.1-1h0m1-1.8h0m.7-2h0m2.1 3.5h0m1.2-2.8h0m.5 2.4h0m.2-.1h0m.8-.8h0m.2-2.3h0m.4 2.4h0m.9 2.3h0m1.1-5.5h0m.6 .4h0m.3-.5h0m0 5.2h0m1.3-.1h0m.4-3.5h0m1.3-.5h0m1 .6h0m.2 2.8h0m.3-.5h0m.2-1.2h0m2.1 0h0m11.5 .7h0m-223.2 3.3h0m91 1h0m4.8 3.1h0m2.9-3.2h0m1.3 3.1h0m.3-1.6h0m.1 2.1h0m1-3.8h0m2-1.4h0m.8 5.7h0m.5-1.1h0m.1 .9h0m.4-1.9h0m.1-1.5h0m.1 3.2h0m.3-1.7h0m.2-3.4h0m.6 1.9h0m1.3-.8h0m1.1 .5h0m.2 1h0m.7 .9h0m1.6-2h0m1.7 0h0m.1 2.3h0m1.7 .1h0m.1-1.2h0m.4-2.6h0m2.2 1.2h0m.5 2h0m1.3-3.4h0m0 4.3h0m1.3-2.2h0m.3-2.1h0m.5 4.5h0m.7 .4h0m1.8 0h0m.2-3.1h0m1.6 2.8h0m.2-3.7h0m2.6 1.2h0m1.2 2.5h0m.1-4.9h0m.6 1h0m1.9 3.6h0m.8-1.9h0m1.9 1.8h0m0-1.7h0m2.8-1.5h0m.3 3.8h0m.1-2.5h0m2.5 .3h0m.2 2.2h0m.1-4.4h0m2.1 2.6h0m.9-2h0m.6 4.1h0m1.2-4h0m.5 1.3h0m.6 .7h0m1.6-2.6h0m1.7 1.4h0m.1 2.7h0m.5 .1h0m.5-1.8h0m.1-2.5h0m2.3 .7h0m.3 3.5h0m0-2.1h0m2.9-.8h0m.6 2.9h0m1.7-.9h0m.8-2.9h0m.7 4.3h0m1.2-2.8h0m.2-1.7h0m1.3 3.7h0m.8-1.6h0m.4 1.4h0m3-1h0m.1-1.4h0m.6-1.5h0m1 5h0m.5-4.6h0m1.8 3.3h0m.7-2.2h0m.2 3h0m.7-.5h0m1.1-2.7h0m2 3h0m0-.7h0m.3-3.3h0m0-.7h0m0 3.3h0m.6-2.8h0m1.8 1.9h0m.8-1.2h0m.2 3.3h0m0 .6h0m.6 .2h0m.3-.5h0m.1-4.4h0m.1 .8h0m.3-.9h0m.2 5.4h0m.1-2h0m1-.8h0m.2-1.1h0m.3 1.3h0m.4-.2h0m.3 .4h0m2-2.5h0m.7 2.5h0m.3 1.1h0m.3-.6h0m.5 1.3h0m.1-4.4h0m1.9 2.7h0m2 1h0m1.2-1.2h0m.4 1.3h0m.2-4.1h0m.2 .4h0m.4-.1h0m.1 2.9h0m1.6 .4h0m.5-2.7h0m.6-.1h0m.6 1.3h0m.1-1.2h0m2.3 2.9h0m.3 .1h0m1.2-3.1h0m1 0h0m2.6 .7h0m1.7 2.6h0m.8-4.5h0m1.1 4.2h0m-227.1 2.1h0m80.3 2.5h0m15.3-2.5h0m17 2.6h0m.2 1h0m.6 .9h0m2-4.6h0m.7 3.2h0m.9 .4h0m.9-1.5h0m.7 1.3h0m1.1-3.3h0m.4-.2h0m.3 1.1h0m0 4.1h0m1-4.8h0m.5 3.8h0m1.2-2h0m0-2.2h0m1 .6h0m.1 4.9h0m.9-4.8h0m0-.1h0m.6-.3h0m.1 3.6h0m.8-3.8h0m.8 .7h0m.3 3h0m.2-4h0m1.6 3.5h0m.6 1.6h0m.5-4.7h0m.4 1.2h0m.1-1.2h0m.8 5h0m1.1-1.8h0m.8 1.2h0m.2-3.1h0m1.2 3.6h0m.5-5h0m.2 2.3h0m.4 2.6h0m2.2-4.1h0m.4 4.6h0m.4-4h0m0 1.5h0m2.2 2.6h0m1.2-3.6h0m.9 1.2h0m1.8-1h0m.2 3.3h0m1.4-4.2h0m1.7 .7h0m.2 2.7h0m.5 .9h0m1.2-4.7h0m1.1 2.8h0m1.4-1.6h0m.9-1.7h0m1.2 3.1h0m1.4-3.6h0m1.1 2.4h0m.5 1.5h0m2-.2h0m.7-3.1h0m1.3 2.7h0m1-2.6h0m1.1 2.3h0m2.6-2.7h0m0 3.6h0m.6-2.2h0m2.8 2.1h0m.9-2.3h0m2.7 .2h0m.1 2.4h0m1.1-1.4h0m1.9 2h0m.2-4.4h0m1 2.7h0m.1-2.9h0m0 5h0m1.4-.6h0m.1 .1h0m.6 .2h0m.5-3.3h0m1.4 2.4h0m.4 1.6h0m.9-2h0m0-.3h0m.1-1.4h0m.6-1.6h0m.9 2.5h0m.5 0h0m.8 .7h0m.9 2.4h0m.2-4.4h0m1.6 2.1h0m1.2-3.4h0m.2 2.7h0m1.7-1.3h0m1.2 3.1h0m3.1-2.6h0m5.2-1.3h0m1.4 2.3h0m2.8-2.9h0m.4 5.5h0m7.5-5.5h0m2.3 .5h0m11.7 .7h0m-136.9 8.2h0m14.7-2h0m1.5 1.2h0m3 2.2h0m.5-2.6h0m1-.8h0m.7 .1h0m.6-1.3h0m1.1 3.7h0m1.1-3.1h0m1.8 2.5h0m1-3.5h0m1.2 3.1h0m1.1 2.1h0m.1-2.7h0m1.7 2.5h0m.1-3.1h0m.7 1.7h0m2.6-3.2h0m0 3.2h0m1.2-1.4h0m.1-1.4h0m1.5 4.2h0m1-.2h0m.7-3.4h0m1.9 1h0m.4 1.8h0m1.6-1.6h0m1.7 .5h0m1.4 1.2h0m1.3-1.1h0m0-1.6h0m1.4 3.4h0m1.4-2.3h0m.3 3.2h0m1.9-.5h0m.4-3h0m.6-1.9h0m.5 2.3h0m.8 3h0m1.7-3.5h0m.3 1.7h0m.4-3h0m1.8 4.8h0m.5-3.7h0m1.3 3.7h0m.8-5.1h0m.3 2.5h0m1.4-2.9h0m1 3.4h0m.6 1.8h0m.5-3.4h0m.7-2h0m.7 4.7h0m1.7-3.7h0m.3 1.7h0m1.6-.2h0m.6 2.9h0m.6-5.3h0m1 2.7h0m.3 2.5h0m.5-1.4h0m1.3-3.5h0m.8 2.2h0m1.1 2.8h0m.3 .1h0m.6-4.6h0m.5 2.9h0m.5-1.1h0m.8 .3h0m1.3 2h0m.1-2.4h0m.5-.3h0m0-.5h0m0-1.1h0m.5 1.9h0m1.5 1.1h0m1.1-3.3h0m.5 1h0m.4-1.2h0m3.9-.3h0m.6 2.5h0m2.2-2.4h0m0 1.7h0m2 1.9h0m2.1 1.7h0m34.1-4.8h0m-183.1 8.8h0m34.4 1.1h0m30.3 .7h0m.6-.2h0m1.1 0h0m.2-1h0m.5 .4h0m.3-.1h0m.5-.1h0m.5-.6h0m.3 .2h0m.1-1.6h0m.5-1h0m.1-.9h0m.3 4.2h0m2.3-2.6h0m1 2.4h0m1.3-3.5h0m1.1 1.5h0m.1 2.9h0m1.6-1.9h0m.2-1.8h0m2 3h0m.1-4.5h0m.8 1.9h0m2.6 2h0m.4-2.4h0m2.1 4.4h0m.5-3.6h0m.1 3.1h0m1.1-5.3h0m.8 .7h0m.6 4.4h0m.3-2.7h0m2.7 2.2h0m.5-1.3h0m.3-2.8h0m1.1 4.3h0m1-.4h0m.5-4.3h0m.3 2h0m2.4 1.6h0m.5-3.5h0m1.7 2.7h0m1 1.6h0m.7-4.2h0m1.7 1.6h0m.5 3.8h0m.4-3.1h0m1.7 2.3h0m.9-.2h0m.2-2.1h0m.7 1.5h0m1.7-.3h0m.6-2.6h0m.4 2.7h0m.5-.1h0m.9-1.5h0m.7 1.7h0m.5-4h0m.1 .7h0m.6 2.8h0m0-2.8h0m3 2.9h0m.2-3.8h0m.1 3.8h0m.2-2.6h0m.6 2.5h0m.3-.6h0m.3 2.2h0m2.2-.8h0m.1-2.7h0m.6 2.6h0m.5-3.6h0m.7 4.4h0m0-3.7h0m1.6 2.9h0m.2-.5h0m1.6-1.9h0m.4 .2h0m.9 1.1h0m3-3.3h0m.6 1.7h0m3.1-1.5h0m2 2.7h0m1.9 .4h0m2.4-1.7h0m-103.3 7.1h0m21 1.7h0m3.2-1.1h0m0 .9h0m1.3 .1h0m.3-.4h0m0 .5h0m1.9-3.9h0m.7 2h0m.2 3.5h0m.2-5.4h0m2.3 4.1h0m.2-3.6h0m.5 1.7h0m1.6 1.8h0m.5-3.4h0m1.8-.4h0m.2 1.9h0m.5 2.3h0m3-1h0m.3-1.7h0m1.1-.4h0m1.2-1.1h0m.1 4.4h0m.3-1.4h0m2.2-2.9h0m.4 2.7h0m.8 1.7h0m.3-3.2h0m0 2h0m3.1-.7h0m2-1.2h0m1.4 2.7h0m1.3-4.4h0m.4 1.8h0m1 1.4h0m1 1.2h0m.3-2.6h0m1.5-1.6h0m.4 5.2h0m.7-2h0m.1-1.8h0m1.4 2.9h0m.5-4.6h0m1 3.2h0m.5 1.9h0m.4-3h0m.6 2.4h0m.5-4.7h0m1.6 4.3h0m.1-3.3h0m1.8 4.4h0m.1 .2h0m.5 0h0m.1-3.4h0m.8-2.1h0m1.5 2.7h0m0 .5h0m1.9 .2h0m1.8-.4h0m.1 .5h0m.1-2.9h0m1.1 1.1h0m.1-1.9h0m3.7 2.3h0m.1-1.7h0m1.2 1.8h0m.2 .8h0m1.5-2.9h0m6.4 .6h0m4.2 1.3h0m3-.7h0m34.5 1h0m-117.4 8.7h0m.1-4.9h0m.2 4.7h0m.4 .1h0m.3-.4h0m.7-.8h0m1.3-1.2h0m.2 2.2h0m1.4-2.2h0m0-1.2h0m.3 4.2h0m1.1-.1h0m.1-.4h0m.1-.3h0m.3-2h0m.2-2.2h0m.2 4.3h0m.2 .9h0m.4-1.3h0m.1 1h0m1.1-1.2h0m.1-1.3h0m.9-2.8h0m1.8 5.1h0m.5-2.7h0m.3 3h0m.9-4.3h0m1.6 2.9h0m.5-1.9h0m.7 3.3h0m.8-1.9h0m1.5-3.4h0m.6 2.5h0m1.6 2.8h0m.1-2.3h0m.1 2.5h0m.1-5.3h0m1.2 5.3h0m.5-3.5h0m1.6 1.7h0m.8-4.1h0m.3 3h0m.6 2.4h0m.5-4.6h0m1.7 2.4h0m.7-.4h0m.8 .8h0m0-.3h0m.2-2.3h0m.3 2.9h0m.4-.5h0m1.2 2.2h0m.1-3.6h0m.5 1.3h0m1.8 1.8h0m1.2-2.6h0m.4-2.6h0m1.7 4.9h0m.3 .7h0m.3-4h0m1.2 1.6h0m.3-1.2h0m0 1.1h0m.8-.8h0m0-.9h0m.1 1.3h0m1.4-.9h0m.1-1h0m.5 0h0m1 4.3h0m.7-.3h0m.1 1.1h0m1.1-3.5h0m1.6 .5h0m2.4-1.9h0m4.9 1.6h0m.1-2.5h0m1.7 5.7h0m0-2.7h0m.1 .3h0m6.2-.1h0m7.4-2.3h0m-65.9 6.2h0m.1 3.3h0m2-3.4h0m.8-1h0m3.7 .4h0m2.9 .6h0m.8 1.5h0m1.1-2.4h0m2.9 .5h0m0 2.4h0m.2 .1h0m1.1-2.9h0m4.5 .6h0m.6 .1h0m2.9 .7h0m1.8-.6h0m.2-.6h0m2.3-.1h0m1 2.7h0m1.4-1.1h0m.2 2.9h0m2.9-3.8h0m2.5 .5h0m1.7 2h0m1.6 1.8h0m74.3-2.9h0m-119.4 4.7h0m30.8-.2h0m44.6 16.8h0" stroke="#000" stroke-width="4.8" stroke-linecap="round" fill="none"/>
<path d="M1397.5 91.4h0m43-.8h0m-32.3 7.4h0m6.5 .3h0m46.9-3.6h0m-32.3 7.5h0m5.8 2.8h0m.5-4.4h0m15.3 4.1h0m7 .1h0m13-5.3h0m2.9 .9h0m2.3-.4h0m12.3 4.2h0m-113.9 5h0m16 1.6h0m3.5-4.5h0m1.9 3.3h0m4.1 .8h0m4.8 0h0m1.2-4.9h0m.9 .3h0m1.6 4.3h0m.3-3.2h0m.8 .6h0m.8 3.4h0m1.7-3.3h0m2.1 1.6h0m3.7 1.1h0m5.4 0h0m2.1-4.9h0m6.3 2.4h0m4.1 2.4h0m6.7 0h0m.6-5.1h0m2.9 4.5h0m1.7-2.4h0m.7 3.7h0m1.6-.5h0m3.7-4.7h0m1.3 2.4h0m.9 1.3h0m2.5-1.8h0m5.1 1.7h0m3.1-2.1h0m3.4 .3h0m.4-1.9h0m3.4 3.1h0m1.7-1.2h0m5.7 1.1h0m.5 2.4h0m2.1-2.3h0m3.7 0h0m1.4 1h0m-137.1 1.7h0m4.1 5h0m3.5 .2h0m4.1-2.5h0m4.9-2.6h0m1.3 5.3h0m3.7-3.4h0m4.7 1.1h0m.9 1.3h0m1.2-3.1h0m2.1 1.9h0m1.9 2.3h0m.1-4.2h0m.1-1.3h0m.4 .6h0m0-.3h0m3.1 4.8h0m.2-5.3h0m.3 2.3h0m.5 .6h0m.7-1.5h0m.3 4.2h0m1.4-2.2h0m1-.3h0m1.8-1.1h0m.9 2.7h0m1.1-2h0m1.4 .5h0m.3 2.2h0m1-1.8h0m.4 1.5h0m3.2-1h0m.9-.8h0m.3-.9h0m0 2.6h0m1.9-1.6h0m.7-3.3h0m.9 5.3h0m1.3-3.4h0m3.2 2.6h0m1.5-2.6h0m2.7 2.7h0m1-1.6h0m.9 1h0m1.5-.5h0m2-2.1h0m.7 1.2h0m1.4-2.5h0m.8 2.8h0m.6 1.8h0m.7-2.4h0m2.9 0h0m.2 .2h0m.2 1.5h0m2.6 0h0m2.2-2.8h0m.2 1.6h0m1.2-1.2h0m2.2-.2h0m1.8 1.6h0m.1 1.4h0m.1-3.8h0m2 1.8h0m3-.4h0m.1-.7h0m0 3.1h0m.3-1.3h0m1 .3h0m.6 1.4h0m.1 .5h0m3.3-3.2h0m.9-1.5h0m1.4 5h0m.1-3.8h0m1.3 .5h0m.9 1.2h0m.4 1.9h0m.6 .2h0m.5-1.8h0m1.1-2.7h0m1.5 2.1h0m.5-2.8h0m.7 2.5h0m1.1-1.6h0m1.3 4.2h0m.8-5.2h0m2 4.7h0m.5 .3h0m.3-4.2h0m.3 2.8h0m1.6-.2h0m2.2 .8h0m.1-3.6h0m.6 2.3h0m2.1-.3h0m.2-3.1h0m1.4 3.3h0m1.2 1.1h0m.1 .2h0m0-4.7h0m.8 3.8h0m.1 1.4h0m1.5-.1h0m.4-3.1h0m.3 3.3h0m.2-1.8h0m0 1.6h0m1-2.3h0m2.8 2.3h0m.5 0h0m.1-2.8h0m.6-.6h0m.4 .2h0m.1-.3h0m1.5 2.7h0m.7-1.1h0m.7 2.7h0m.5-1.1h0m2.6-2.9h0m1 1.8h0m.1-1.6h0m.3 3.1h0m.9 .2h0m.7-3.3h0m0-.2h0m2.1 1.1h0m.4-2.2h0m-143.5 5.3h0m4 5.5h0m.5-1.7h0m7.1 1.5h0m1.5-4.4h0m.8 4.4h0m4.6-.7h0m1.5-.3h0m2.8 .7h0m1.3-.6h0m2.4-1.4h0m2.2 2.6h0m.5-.6h0m1.4-1.9h0m.9-.8h0m.9 3.3h0m.9-4.3h0m.3 3h0m.6 1.4h0m.6-2.1h0m.5-1h0m3.3 1.9h0m1.5-4h0m.8 2.6h0m1 .7h0m1.7-2.1h0m1.2-.1h0m.1 3.1h0m.8 .7h0m.2-2.3h0m2.7-2.8h0m.2 5.2h0m.3 .3h0m.5-4h0m.1-.6h0m.1 1h0m.3-1.5h0m0 1.2h0m.4 1.9h0m.1-1.2h0m1.1-.5h0m.9 3.3h0m.1-3.2h0m.2 0h0m1.2 .9h0m.9 .7h0m.7-.8h0m.2 1.7h0m0-1.8h0m1.9-2.1h0m0 3.3h0m.1-.4h0m3.8 1.2h0m1.1-3h0m.7 1.5h0m.1 2.3h0m.5-1.5h0m.3-.3h0m.9 1.9h0m1.4-2.5h0m.9 .5h0m.3 2h0m2.2-4.4h0m.9 2h0m1.3 2.2h0m.6 0h0m.2-1.2h0m1.8-.9h0m0-2.1h0m.1 .1h0m.5 2.7h0m.4-1.6h0m.2 .9h0m.7-.3h0m1.3 1.9h0m.3-2.5h0m.6-1.7h0m.2 2.9h0m1.1-2.1h0m0 3.8h0m1.8-1.3h0m.1-.9h0m.2 1.6h0m1.2-2.6h0m.2-2.2h0m1.2 3.2h0m1.7-1.6h0m.7 3.9h0m.5-4.1h0m.4 2.8h0m.8-2h0m.8-1.9h0m.9 .2h0m1 3.9h0m.3-4.4h0m.1 2.8h0m.2-1.9h0m2.3 4.1h0m1.1-2.9h0m.8 1h0m1.5-2.2h0m.1 .4h0m.7 2.4h0m.7-3.2h0m1 4.7h0m.8-3.9h0m.9 1.7h0m1.1 1.1h0m.1-3.6h0m1.9 5.1h0m0-4.2h0m.8 3.2h0m.8 .1h0m1.9-3.1h0m.3 3h0m.6-4.4h0m1.3 2.9h0m.2 2.1h0m.2-2.5h0m.7 1.9h0m.9-3.7h0m.1 4.3h0m.2 .1h0m.5-3.9h0m.3-.9h0m.2 1.3h0m1.6 3.5h0m.6-3.6h0m.3 1.5h0m1.8 .9h0m.2 1.6h0m.1-5h0m.4 3.9h0m.4-4.2h0m.3 1.8h0m.1-.2h0m.8-.8h0m0 .8h0m.2-.7h0m2.6 1.5h0m.1-1.7h0m.3 .7h0m.9 2.9h0m.2-.9h0m.6 .7h0m.1-1h0m.9-3.2h0m.2 .1h0m.8 1.5h0m.2-1h0m.3-.9h0m0 .6h0m1.2 4.3h0m.2-.7h0m1.8-.1h0m.2-2.4h0m.4 1.8h0m.3 1.5h0m.6-3h0m1.3 3.4h0m.8-2.7h0m0-.6h0m.2-.5h0m.9-1.3h0m1.3 4.3h0m.2 .5h0m.4-.9h0m1.3-1.1h0m.6 .8h0m.7-3.6h0m.9 1.3h0m.4-1.2h0m0-.5h0m.2 3.6h0m0-1.3h0m.9-1.9h0m.3 4.2h0m.9-4.2h0m-214.4 8.6h0m11.2 .9h0m37.9 .2h0m.2-4.1h0m7 5.1h0m10.6-1.2h0m.7-3.8h0m.9 5.1h0m.1-2.8h0m.4 .7h0m2.8 2.3h0m.5-2.2h0m4.1 .9h0m2.1 .4h0m1.4-2.9h0m1 .9h0m1.9 2.7h0m.4-1.6h0m2.6 1.1h0m3.4-.1h0m1.1-3.3h0m0 .3h0m1 3.1h0m.2-2.1h0m.8 2.8h0m.1-5.2h0m.9 4.4h0m.5-2.8h0m.1 2.9h0m.5-3.5h0m1.1 0h0m.6 2.9h0m1.2-4.1h0m0 3.8h0m.2-2.8h0m1.9 4.3h0m.8-3.3h0m.5 .8h0m0-1.7h0m1-.4h0m.2 4.8h0m.1-.9h0m2.1-.1h0m0-3.8h0m1.5-.1h0m.5 5.1h0m.5-3.2h0m.1-.6h0m.7 .4h0m.8 1h0m1.4-2.6h0m1.2 3.2h0m1.8-3h0m.8 .8h0m0 3h0m.7 .7h0m.4 .2h0m2.8-4.1h0m.1 3h0m.5 .2h0m1.9-.9h0m1 .7h0m1.3-3.4h0m1.6 2.1h0m.8-1.9h0m1.9 .2h0m.2 2.8h0m.2 1h0m1.8-4.1h0m.4-.4h0m.5 1.7h0m0 3.1h0m1.1-5.7h0m.2 .1h0m.2 .6h0m.1 1.3h0m1.1 2.1h0m1.8 .2h0m.5-.5h0m.3 2.1h0m.2-5.6h0m1.2 4.2h0m.3-1h0m1.9-1.3h0m.1 3.8h0m.5-3.8h0m.3 .6h0m.9 1.1h0m.3-1.2h0m1.1 .1h0m.1-.8h0m0 3h0m.5-4.2h0m1 4.8h0m1.7-2.4h0m.1-1.5h0m.2 3.9h0m1.8-5.4h0m.9 2.4h0m1 1.9h0m.7-3.5h0m1.8 3.9h0m.5-3.6h0m.1 1.2h0m.2 .6h0m.2 .2h0m0-3.3h0m.8 3.1h0m.3 .5h0m.4 .4h0m1.4-.1h0m.6-.7h0m.1-.9h0m.2-1.1h0m.4 1.7h0m0 .7h0m.3-2.5h0m.1-.4h0m.7-.6h0m.5 3.3h0m1 2.4h0m1.2-4.6h0m.4 4.6h0m.9-2.6h0m1.3-1.6h0m.1 3.7h0m1.8-1.3h0m.2-3.9h0m2.2 2.5h0m1.2-2.3h0m.6 4.2h0m.2-1.6h0m.7 2.1h0m.8-.9h0m.7-2.7h0m.1 2.5h0m1 .7h0m1.4-2.2h0m.1-2.1h0m.6 4.9h0m.2 .5h0m.9-3.2h0m1.8 1.6h0m1-3.1h0m1.9 2.7h0m.5-2.9h0m.9 3.2h0m1.2 .4h0m1.5-2.5h0m.1 3.6h0m1.4-2.1h0m.8-2.1h0m1 1.1h0m.4 3.3h0m1.6-.7h0m.1-4.9h0m.2 .2h0m1.4 .9h0m0 .3h0m.9 3.2h0m.1-3.7h0m1 1.3h0m.1 .1h0m.4-.2h0m.4-.6h0m.7 2.2h0m.7-2.4h0m.7-1.1h0m.4 3.5h0m2.2-2.4h0m.9 .8h0m.6 2.7h0m.4-2.8h0m1.7 1.4h0m.9-.5h0m1.5-2.6h0m.5 4.3h0m1.2-2.8h0m.9 3h0m2.2-3.9h0m.1 3.2h0m.2-3.9h0m1 1.9h0m1.2 2h0m.4 .4h0m.1 .4h0m.3 .8h0m0-3.2h0m.7-1.8h0m.3 2.3h0m-231.1 8.8h0m11.4-1.5h0m1.3 1.4h0m2.5-3.6h0m5.1 2.6h0m2.2-3.5h0m1.6 .3h0m29.9 2.1h0m.3 .6h0m3.8-2.9h0m8.3-.6h0m.7 4.9h0m.1-4.2h0m.9-.3h0m3.2 3.6h0m0-2.7h0m1.3-.5h0m4.7 3.3h0m.2 .4h0m.8-1.5h0m.2-2.1h0m2.3 2.5h0m.5-1.1h0m2.6-2.4h0m2.3 .5h0m1.4 4.4h0m3.7-4.1h0m.1-1.1h0m.5 .2h0m0 3.5h0m.3 .1h0m.1-2.9h0m.2 .9h0m.1 1h0m.6 1.7h0m.1-.6h0m2.6-2.9h0m.6 2h0m.2-1.1h0m.3 1.8h0m.2-2.4h0m.3 3.3h0m.2-.5h0m0-2.1h0m.5-.4h0m.8-1.4h0m.8 2.3h0m.9 1.3h0m1.6 .2h0m.1-3.4h0m.1 .7h0m1.2 .5h0m1.3 .2h0m.7 2.4h0m2-1.9h0m1.2-.5h0m.4 2.1h0m1.2 0h0m1 0h0m.7-.3h0m.2 .6h0m.3-4.5h0m.2 3.7h0m.7-1.6h0m1.4 1.1h0m1.2-2.6h0m2.2 3.4h0m.1-2.4h0m1 2.7h0m1.8 .4h0m.6-3.1h0m.1 1.9h0m.1 2h0m.1-5.2h0m.1 5.2h0m.1-3.9h0m1.2 3.4h0m.1-.3h0m.2-.3h0m1.2-2.4h0m.4-1.4h0m1.5 2.4h0m.4-1.1h0m1.2 3.1h0m.3-4.8h0m1 1.1h0m.9 2.3h0m.1-3.8h0m.5 .3h0m1.7 2.5h0m0 1.2h0m.4-.6h0m.1-3.2h0m2 .3h0m.1 1.6h0m.4 0h0m1-.4h0m.4 2.4h0m.2 .4h0m.3 0h0m1.6-4.1h0m.9 2.1h0m.6 3h0m1.1-5h0m1.2 1.8h0m1.4 1.9h0m.7-2.2h0m1.5 3.5h0m.6-1.9h0m.7-2.1h0m2 .4h0m0 2.7h0m2.7 .5h0m0-3.9h0m.2 1.9h0m1.9 1.3h0m1.5-2.4h0m.5 3.2h0m1.5-4h0m.3 1.6h0m.1 .5h0m.1 .6h0m1.3 .6h0m.9-3.9h0m0 3.6h0m.6-4.1h0m.3 5.5h0m.4-1.3h0m.6-4.3h0m.1 2.5h0m.1 .3h0m.2 .2h0m.4-.3h0m.7-1.5h0m1 1.9h0m1 2.8h0m.3-4.8h0m.9 1.5h0m1.1 2.2h0m1.5-3.2h0m.7 1.9h0m1.4-3h0m1.8 2.7h0m.4 1.6h0m.7 0h0m0-4.4h0m1 1.1h0m.3 4h0m1.9-1.8h0m.7 .1h0m.2-2.5h0m1.4 3.7h0m1 .1h0m.3-1.7h0m.5-2.7h0m1.8-.2h0m.1 2.8h0m2.2-3.1h0m.3 1.8h0m.5 2.9h0m.1-3.4h0m1.6 3h0m.6-1.8h0m.7 2.6h0m1-3.7h0m0-.4h0m.6-1.1h0m0 0h0m1.1 1.7h0m.2 2.1h0m.3-1.1h0m1.1 3.1h0m1.6-1.3h0m.3-4.4h0m0 1.3h0m1.1 3.1h0m.7-2.3h0m1.7-2.4h0m.5 4.4h0m1.5-.7h0m.2-1.8h0m.6-.6h0m.2-.2h0m2.2 3.1h0m.3 1.1h0m.1-2.7h0m2-2.2h0m.1 2.8h0m1 1.4h0m.1-3.6h0m2.2 4.9h0m.1-1.2h0m.2-3h0m.4-1.5h0m1.6 1.2h0m.8 3.2h0m.6-4.1h0m.1 2.5h0m.5 2.9h0m2.6-1.4h0m.2-3.1h0m.1 4.4h0m1.4-5.1h0m.7 3.2h0m1.5-3.5h0m1.4 1.6h0m.1 3.7h0m.3-2h0m.7-2.3h0m2.2 2.1h0m.4 2.1h0m.1-5.2h0m2 .2h0m.4-.1h0m0 2h0m.3-1.9h0m0 .7h0m0 1.4h0m.1-.6h0m.5 2.3h0m0 1.4h0m-306.2 6.1h0m4.9-.6h0m5.7-.6h0m9.6 1h0m4.5-2.6h0m57.4 2.9h0m10.4-1.1h0m10.2 1.1h0m4.7-2.3h0m5.9-1.1h0m.8 .7h0m8.1-1.4h0m.5 3.1h0m1-2.4h0m3.7-2.5h0m1.9 .6h0m1.2 2h0m.8-1.9h0m.7 4.5h0m.2 .5h0m2.2-2.2h0m1.6 1.7h0m.9-2.6h0m.5-2.3h0m1.6 4.6h0m1-3.4h0m3.9 3.4h0m.2 .4h0m.1 .1h0m.3 .2h0m1.3 .3h0m.6-.2h0m1.3-1.5h0m.8 .9h0m1-2.6h0m.1-2.3h0m.9-.1h0m2.6 3.5h0m.9 .8h0m.1-2.5h0m.1 .6h0m.8 1.3h0m.9-1.5h0m.3 3.1h0m.9 .1h0m.2-2.6h0m.1-.9h0m.6-1.6h0m.8 1.4h0m.8 3.8h0m0-3.5h0m0 1.6h0m.4 0h0m1 1.8h0m.2 .2h0m1.9 .1h0m0-4.3h0m.5 2.4h0m.5-1.8h0m0 2.3h0m0 .2h0m.1 .3h0m.3-4.2h0m1.6-.5h0m.4 0h0m.5 3h0m.8-3.2h0m.3 5.4h0m.4-2.9h0m.8-1.8h0m1.2 3.2h0m.8-2.3h0m.1-.6h0m.9 1h0m1.2 2.9h0m1.9-4.4h0m.1 .5h0m.3 3.2h0m.5-3.8h0m.9 2.4h0m.4 2.1h0m1.9-3.5h0m.1 1.2h0m1.7 2.5h0m1.4-2.5h0m.1-2.7h0m.8 3.1h0m.1 1.8h0m1.6-3.1h0m.6 3.2h0m1-3h0m.5 2.3h0m1.6-4.3h0m.3 2.2h0m.7 2.9h0m1-4.4h0m1.1 3.3h0m.8-1.8h0m1.8 3.2h0m.2-4.3h0m1.5 2.6h0m.5-1.8h0m.1 .2h0m.7 2.3h0m.1-1.4h0m.9 .4h0m.7 .3h0m.7-.2h0m.8-2.3h0m.1-.9h0m.4 0h0m.9 2.2h0m.2 3.2h0m1.7-1.8h0m1.2-2.8h0m0 4.3h0m2.7-1.1h0m0-2.4h0m1.5 1.7h0m.2-3h0m.1-.3h0m.4 .4h0m.2 .6h0m.9 .1h0m.9-.4h0m.6 3.4h0m1.7-2.5h0m.2 2.6h0m2.7 1.1h0m.2-3.4h0m1.2 1.8h0m.3-3.2h0m.8 2.1h0m1-2.8h0m.2 1.4h0m.1-.1h0m.2-1.2h0m.3 4.9h0m.2-4.1h0m.4 4.3h0m.8-1.1h0m1-.4h0m0-.4h0m.1-3.2h0m.3 4.2h0m0-1.6h0m.4-.5h0m.9 .5h0m.3 2.1h0m.4 0h0m0-4.5h0m1.5 3.5h0m1.8-2.7h0m.5 2.4h0m1.2-.6h0m1.6-.1h0m1.4 1h0m1.5-2.4h0m.9 4.4h0m.8-2.5h0m1.6-.5h0m1-2.8h0m1 2.9h0m1 2.1h0m1.9-2.1h0m2.4 .7h0m.1-3.2h0m1.5 5.5h0m.6-3.8h0m2.2 1.4h0m0-2.9h0m1.8 4.6h0m1-1.9h0m.1-2.3h0m1.9 1.8h0m.5 2.7h0m1-.6h0m.2-3.2h0m1.6 .1h0m1.3-1.6h0m.1 2h0m.9 2h0m1.5 .4h0m.5-2.1h0m1.6 2.9h0m.9-3.5h0m.4-1.5h0m1.2 3.5h0m.9-.3h0m.5-3.3h0m.8 4.8h0m1.4-2.9h0m0 2.7h0m1.9-2.5h0m.4 2.5h0m.1-4.1h0m1.3 .8h0m.4 3.4h0m2.5-4.1h0m.4 1.3h0m.2 1.7h0m1.7-.3h0m.1-3.5h0m1.5 4.7h0m1.7-2.8h0m1.4-.5h0m.6 3.3h0m1 1h0m.7-2h0m1.5-2.8h0m.9 4.7h0m.1-2.5h0m1.1 2.2h0m1.3-2.8h0m2.2 .3h0m.1 1.5h0m1.1-.6h0m.7-2.1h0m1.4 .3h0m1.1 2.2h0m.6 1.7h0m.2-3.1h0m1.9 .4h0m.6-2.5h0m.8 2.5h0m1.7 2h0m.3-2.9h0m.2 1.1h0m.8-1.9h0m.3 .8h0m.6 1.4h0m0 2h0m.1-1.3h0m0-3.8h0m.1 4.5h0m-307.9 1.9h0m18.4 1.7h0m7.9-1.5h0m60.5 3.3h0m5.7 .6h0m1.8 .4h0m7-5.1h0m.6 2h0m.5 2.4h0m2.3-2.1h0m1.5-.9h0m1.4 2h0m6.3 .5h0m.9-.9h0m.5-.9h0m.1-1.3h0m.4 .3h0m.3-1h0m.7 3.5h0m1.9 1.5h0m3.2-3.6h0m.2 2.6h0m.7 1.3h0m1.7-1.7h0m0 1h0m1.7 0h0m1.1-4.4h0m1.5 4.9h0m.6 .2h0m.9-1.7h0m.5-2.5h0m1.3 3.2h0m1.9-1.2h0m.1-3.1h0m3.2 3.9h0m.2 1.1h0m.4-3.7h0m.1 2.2h0m.3 .2h0m.1-4h0m.7 4.7h0m1.8-2.5h0m1.1 1.9h0m.1-1.4h0m.2 .4h0m.2-1.8h0m.8 2.4h0m.9-1.5h0m.7-2h0m1.3 1.2h0m.3 2h0m.2-3.2h0m.6 3.7h0m.9-3h0m1.1 1.9h0m.6 .1h0m.3 .5h0m.9 .3h0m.8-.2h0m.1-1.3h0m.1-.4h0m.6 3.1h0m1.1-2.9h0m.9 3.3h0m.8-3.3h0m.1 3.5h0m.1-.9h0m2.3 .6h0m.4-4.8h0m.2 4.4h0m.6 .3h0m1.3-2.4h0m.3 1.4h0m1.8-4.2h0m.2 3.6h0m1.7-2.1h0m.6 2.2h0m1.8-1.8h0m.6 2.9h0m.2-4.5h0m1.8 3.4h0m1.9-2.4h0m1.2 .7h0m.3-1.9h0m.5 4.5h0m1.2-1.3h0m.4-3.4h0m1 5.8h0m.5-5.1h0m.2 1.8h0m1.7 1.6h0m1 1.4h0m.9-2.3h0m.2-2.3h0m1.3 0h0m.5 4.1h0m1-4.7h0m.7 1.9h0m.8 3.2h0m.8-4.3h0m.8 1.8h0m0 2.5h0m2.4-1.4h0m.6-3.2h0m1.4 4.9h0m.4-3.4h0m1.5 3h0m1.1-4.2h0m.3 3.3h0m1.8-1h0m.9-1.1h0m.9-1.8h0m1.5 4.4h0m.1-1h0m1.7-1.5h0m.4-2.3h0m1.5 5.4h0m.2-3.5h0m1.9-1.7h0m.4 2.8h0m.8 2.4h0m1.9-4.8h0m.3 2.1h0m1.6 1.8h0m.5-3.5h0m1-.5h0m1.1 2.5h0m.7 2h0m.7-4.4h0m1.3 1.2h0m.4 3.3h0m1-4.6h0m.9 4.5h0m.7-2.2h0m1.8-2.6h0m.9 3.4h0m.8-3.5h0m.5 4.1h0m2-1.8h0m.7-2.5h0m1 3.3h0m1.2-.6h0m.1 3h0m2.2-1.9h0m.5-3.1h0m1.4 2.4h0m.8 1.6h0m.5-4.3h0m1.1 .1h0m1 3.2h0m1.6-1.9h0m.4 1.7h0m.7 1.9h0m1.5-2.4h0m1.4-2.1h0m.2 1.8h0m.8 2.9h0m1.7-3.6h0m.8 3.2h0m1.4-3.5h0m0 1.5h0m.8 2.3h0m.7-4.8h0m1.1 1.7h0m.4 2h0m2-1h0m.8 2.2h0m.4-5.6h0m.8 2.9h0m1.7 2.2h0m.8-3.1h0m1.4-.9h0m.8 3.2h0m.4 1.2h0m.4-3.7h0m1.2 1.1h0m1.5 1.4h0m.1-4.4h0m.6 4h0m2.1-2.3h0m.3 4.3h0m.2-3.1h0m1.4 .8h0m.5-2.9h0m1 2.2h0m1.5-1.9h0m0 3h0m1.6 .8h0m.3-3.2h0m2.1 2.4h0m1.1-2.4h0m1 3h0m1.6-1.8h0m1.9 2.5h0m0-4.3h0m1.1 1.6h0m2-2.2h0m.4 3.5h0m.7-2.8h0m.5 4.7h0m2-1.9h0m.1-3.9h0m2.1 5.4h0m0-3.1h0m1.8 1.5h0m.1 2h0m1.9-4.6h0m.4 3.4h0m1.9-1.6h0m1.2 1.9h0m.9-4.7h0m.2 1.7h0m1.6 2.2h0m.6-.8h0m.7-2.6h0m1.5 .7h0m.8 3.7h0m.1-4.1h0m.9 2.3h0m1.7-3.3h0m.7 5.1h0m.8-2.7h0m1.6 .8h0m.3-1.3h0m.5 2.1h0m.1-2h0m.2 .5h0m.6-.6h0m-313.8 6.3h0m14.8 2h0m11.2-.9h0m4.8 1.1h0m29.5-1.8h0m11.3 3.2h0m2.6-5.6h0m1.3 1.8h0m2.5 3.2h0m3.2-2.7h0m1.7-2.3h0m0 1.3h0m2.7-1.4h0m3.6 5.4h0m4.9-2.4h0m1.9-2.5h0m1 .3h0m4.2 4.5h0m.9-2.9h0m.7 3.1h0m1.6-.5h0m.3-3.4h0m.8 1.8h0m.3-1.6h0m.1 3.9h0m0-5.1h0m.7 2.2h0m.1 2.3h0m.3 .3h0m.7-1.7h0m2.2 1h0m3.1-1.9h0m.2-.7h0m1.3 2.1h0m2.7-1.2h0m0 .8h0m2.9 1.8h0m.6-.3h0m1.3-3.1h0m.7 2.3h0m.6-1.2h0m.7 1.1h0m.7 .8h0m2.6-4h0m.3 2.4h0m.7 .8h0m.4-.9h0m1.5 2h0m.5-3.7h0m.8 3h0m1.4-4.8h0m1 2.1h0m.3 2.5h0m.1-4.8h0m2 3.4h0m1.1-1.1h0m.2 3.6h0m1.8-1.5h0m.7-2.1h0m.3-1.6h0m1.6 0h0m.3 3.2h0m1.5-1.1h0m1.6 3.1h0m.9-2.7h0m.2-1.9h0m2.5 .8h0m.2 2.4h0m1.8-.3h0m0-3.6h0m.3 2.1h0m1.6 3.2h0m.6-2.2h0m.4-2.9h0m1.5 2.8h0m.7 1.9h0m.6-5.3h0m0 .8h0m1.6 .3h0m.9 4.2h0m.3-2.1h0m1.9-1.4h0m.4 2.6h0m1.5-2.3h0m1.2-.5h0m1 3h0m1.5-3.3h0m1.3 2.4h0m1.6-3.7h0m.5 2.8h0m1 2.9h0m.2-4.4h0m.4 .9h0m2.1 2.4h0m.5-2.8h0m2.6 1.7h0m.2-2.9h0m.7 1.1h0m.2 2.3h0m.1-2.8h0m.3 2.8h0m.2-.9h0m.3 0h0m.1 1.5h0m.5 .4h0m0-5.1h0m1.1 0h0m.2 .5h0m.2 4.2h0m1.3 0h0m.3-.5h0m.3 .6h0m.3-4.5h0m.1 4.3h0m.7-2.7h0m.1 2.2h0m.1 0h0m0-2.1h0m.2 .8h0m0 0h0m0-.3h0m1.3 1.5h0m1.8-2h0m.2-.9h0m1 4.2h0m.5-.6h0m.8-2.4h0m2.5 0h0m0 1h0m1.8-2.3h0m1 2.8h0m.8-1.6h0m2.2 2.6h0m.9-3.3h0m1.5 2.4h0m1.5-3h0m1.8 2h0m0 1h0m2.5-3.1h0m0 2.1h0m1 1.7h0m2.4-2.5h0m.6 2.3h0m.5-1.9h0m.9 1h0m.2 1.9h0m1.9-4.5h0m.3 4.6h0m.7-1.9h0m1.7-2h0m.3 3h0m2.6-.2h0m.1-3.3h0m2.2 3.6h0m.5-2.2h0m1.5 3.1h0m.1-2.8h0m1.5-2.7h0m.9 2.9h0m.6 1.8h0m1.3-4.6h0m.8 3.6h0m.6-3.7h0m.2 5.4h0m2.1-2.4h0m.4-.8h0m2.6 1.9h0m.1-3.4h0m1.6 2.9h0m.6-2.5h0m1.7 1.7h0m1.5 1.5h0m.1-3.9h0m1.8 1.5h0m.4 3.8h0m1.7-1h0m.7-3h0m1.1 2.9h0m.2-2.2h0m2.3 2.2h0m.1-2h0m1.8-.2h0m.4 3.4h0m2.7-2.6h0m.2-2h0m.2 2h0m.4 2.4h0m2.4-3.6h0m.8 2.5h0m.8 .7h0m.4-3.4h0m1.8-.3h0m.6 1.5h0m1.1 2.5h0m1.5-4.3h0m.4 3.5h0m1.3-1.3h0m1.2-2.3h0m.4 3.7h0m2.2-2.3h0m.6 1.3h0m.4-2.8h0m1.7-.9h0m1.5 2.4h0m0 2.7h0m2.3-5.1h0m.2 3.3h0m.5 2h0m.7-4.7h0m1.3 4h0m.7-2.3h0m.5 1.8h0m.5-4.2h0m2.4 5h0m0-3.9h0m.1 1.2h0m.6 1.4h0m1.3-3.6h0m.3 2.4h0m1.7 2h0m.8-3.9h0m.4 3.2h0m1.5-.2h0m1.4-1.7h0m1.4 3.5h0m.4-3.5h0m1.2 2.7h0m.7-2h0m2.1 1.7h0m.7-1.7h0m.7-2.7h0m1.3 4.1h0m.2-1.9h0m1.6 2.9h0m.9-4h0m.5 3.6h0m1.9-4.1h0m.1 1.9h0m1.1 1.2h0m.8 .5h0m1-3.3h0m1 .9h0m.9 3.6h0m.6-1.3h0m1.7-2.6h0m.9-.7h0m.2 2.3h0m0 .7h0m.1-2.1h0m0-1.7h0m.1 2.6h0m.1 .7h0m.1 1h0m.1-.2h0m0-1.9h0m.1 1.5h0m-333.1 3.4h0m.7-.4h0m17.5 2.8h0m9.5-.4h0m4.1 2.1h0m4-1.3h0m20.3 1.7h0m1.7-2.9h0m4.1-.6h0m5.1 2.8h0m11.7-1.8h0m7-2.1h0m.4 .8h0m1 .9h0m4.4 1.2h0m.2-2.8h0m2.7 2.8h0m1.1 .9h0m1.7-4.7h0m.6 2.5h0m6 .9h0m2.2 1.7h0m.4-3.3h0m2.4-.8h0m2.4 2.8h0m.6 1.4h0m0-1.3h0m.4-.2h0m.8-2.2h0m.1-.9h0m1 1.7h0m.8 1.9h0m.1-1.3h0m.2 .8h0m.6-.5h0m1 .3h0m2.1 1.4h0m2.4-3h0m.6-1.6h0m2.6 2.5h0m.2-1.9h0m.2 3.3h0m.5-2.7h0m.6 .4h0m1.5 .9h0m1.3 2.9h0m1-1h0m.9-2.6h0m0-.2h0m.6 1.2h0m1-2.7h0m.7 4.4h0m.6-2.8h0m1.3 1.8h0m.6-3.8h0m1 5.1h0m.6-3.1h0m.7 .7h0m1.3-.6h0m.8 1.2h0m2-3.3h0m.4 3.2h0m2.1-1.1h0m.6 1.8h0m.1 1.2h0m.1-.1h0m0 0h0m.5 .6h0m0-.3h0m.1 .1h0m.2-.3h0m.1-4.1h0m1.2 1.6h0m.3 1.2h0m.4 1h0m.3-.6h0m.3-3h0m.2 .3h0m.1-1h0m0 5h0m2 .2h0m.3-.3h0m.7-.2h0m.1-4.4h0m.3-.4h0m0 2.1h0m.9 1h0m0-.9h0m2.2-2.3h0m.3 2.8h0m2.8-1.5h0m.1 2.6h0m1.7-.3h0m.9 1.2h0m.5-5h0m0 2.1h0m2.2 1.9h0m.9-2.3h0m1.9 3.5h0m1-1.7h0m.8-2.4h0m1.5 2.6h0m1.4-2.4h0m1.8 4h0m.7-4.2h0m0 2.6h0m1.1-2.5h0m1.9 2.8h0m.9-3.2h0m2.1 .2h0m.9 2.1h0m1.2-1.9h0m.8-1.3h0m1.3 4.4h0m.3-2.7h0m2.5 3.1h0m.1-1.8h0m.6-2.2h0m2.1 1.4h0m.1 3.2h0m1.5-1.3h0m1-2.8h0m1.8 2.7h0m.9-2.9h0m1.5 .7h0m0-1.8h0m1.3 4.3h0m1.7-2.5h0m1-1.7h0m.9 4h0m.4-1.5h0m2.6 .8h0m.3-2.8h0m.8 5.2h0m.4-1.8h0m1-2.2h0m1.3 1.3h0m.1 2h0m.9-5.2h0m.3 1.9h0m1.1 2.5h0m1.8-4.4h0m.3 1.8h0m.5 1.6h0m1.1 2.4h0m1.4-3.8h0m0-2h0m.9 2.3h0m0 2.1h0m2.7-3.8h0m.4 2.8h0m1.6-1.2h0m.3-1.7h0m0 4.1h0m1.8-3.1h0m.1 3.3h0m1.9-1.4h0m.8-2.6h0m.4 4.3h0m1.9-3.9h0m0 2h0m1.5 2.6h0m.1-3.4h0m.2-1.3h0m2.1 4h0m.7-2.5h0m1.4 1.9h0m.6-2.2h0m1.4 3.3h0m.2-3.9h0m1.3 1h0m.8 1.6h0m.2-2.5h0m2.8 2.1h0m0-3.3h0m.2 1.9h0m1.1 2h0m2.7-3.7h0m.1 1.5h0m.3 2h0m1.6 1.4h0m1.1-3h0m1.3 2.2h0m1.6-3.1h0m.7 1.6h0m.6-3.3h0m1.1 4.5h0m.6-2.7h0m1.5 3.1h0m.7-4.4h0m1.6 1.2h0m.1 2.3h0m.9-4.1h0m1.6 3.7h0m1.2-1.7h0m0 3.1h0m.8-1.8h0m2.2-.7h0m.1-.9h0m1.7 2.1h0m.1-1.9h0m1.8-1.1h0m.9 2.8h0m.9 1.8h0m.2-1.4h0m2.3 .8h0m0-3.5h0m.9 .6h0m2.4 2.2h0m.1 1.7h0m.8-3.7h0m0-1h0m2 4.3h0m.5-4.1h0m.7 1.9h0m.3-2.7h0m1.2 5.3h0m.3-2.8h0m1.1-1.4h0m1.1 3.3h0m.9-3.3h0m1.8 2.3h0m1.3-3.9h0m.6 2.1h0m.9 2.5h0m.9-3.8h0m1.2-.6h0m1 3.3h0m1.7 .4h0m.1-2.6h0m3.2 2.7h0m.4-2h0m.1 3.2h0m1.1-4.9h0m.9 5.3h0m.3-3.5h0m1.1 1.2h0m1.2 2h0m1.1-4.3h0m.9 3.3h0m.8-2.7h0m.8 2.2h0m.7 1.9h0m1.1-1h0m.3-3.2h0m1.1 2.1h0m1.8 1.6h0m.2-3.2h0m.5 1.1h0m1.9-.8h0m.1 3.5h0m.6-4.7h0m1.1 .7h0m.6 2.8h0m2.1-4.4h0m.4 2.6h0m.9-.8h0m.7 2.4h0m1.4-1.3h0m.7-.8h0m.5-2h0m1.4 4.4h0m.4-3.2h0m1.7 2.7h0m.4-3.1h0m2.7 2.3h0m0-3.4h0m1.7 1.2h0m0 .3h0m.2 .3h0m0-.7h0m.1 2.6h0m.3-.1h0m0-2h0m.1 3.5h0m.1-4.7h0m.3 4.6h0m.1-2.5h0m-313.8 4.1h0m2.4 5.1h0m22.9-2.4h0m9.4 .7h0m.7-.4h0m2.2-.1h0m.6-.1h0m.4 .8h0m.3 1.2h0m.1-5.1h0m1.5-.3h0m.6 5h0m.1-1h0m4.5 0h0m6.7 1.5h0m.2 .1h0m2.9-4.5h0m6.4-.8h0m.6 1.1h0m.5 4h0m1.4-2.4h0m.2 1.8h0m.4-.1h0m3.5-4.4h0m.4 4.9h0m.7-.1h0m.4-4.9h0m.6 4.2h0m1.1-.4h0m0 .9h0m.9-3.1h0m1.7-1.8h0m.1 4.4h0m2-2.7h0m.5-1.6h0m2 5.1h0m1-.2h0m0-3.2h0m.5 1.2h0m.3-.1h0m.5 1.7h0m.9-1.3h0m0 .6h0m.3 1.2h0m.5 .5h0m.2-2.4h0m0-2.2h0m.7-.4h0m1.7 .8h0m.7 .7h0m.6 1.5h0m.6-2.7h0m0 4h0m.5-2.6h0m.6 3.5h0m.5-5.1h0m1.4-.1h0m.1 2.9h0m2.5 2.1h0m.2-4.1h0m.5 .6h0m1.6 3.5h0m0-.6h0m.1-2.4h0m.2 1.8h0m.7-4h0m0 4.8h0m1.2-.8h0m.2-.4h0m.5-1.1h0m0 .5h0m1.5-1.5h0m.2 2.2h0m1.4-3.7h0m2 4.9h0m.5-4.8h0m.7 5.1h0m.5-1.2h0m.6-4.2h0m.5 1.4h0m1.1 3.2h0m.2-3.6h0m1.6 2h0m1 2.4h0m.7-3.1h0m1-.7h0m.8 3.7h0m1.3-1h0m0 1.2h0m.2-1.5h0m.2-1.5h0m.4-1.4h0m.2 .3h0m.6 .3h0m0 .3h0m2-.8h0m.5 4.2h0m0-.5h0m.1 .6h0m.1-1h0m.1-.3h0m.2-2.2h0m.7 .9h0m.1-2.5h0m.5 3.9h0m.1-2.9h0m1.6-1.5h0m.6 4.8h0m.6-3.1h0m.9 0h0m.4 1.7h0m.5-2.2h0m.3-.2h0m.2 .2h0m.6-.1h0m.2 3.8h0m.3-4.9h0m.8 .2h0m0 3.5h0m1.9-1.2h0m.8 3.3h0m1.6-2.2h0m.1-3.6h0m1.8 5.6h0m.2-4.4h0m.9 1.4h0m1.3-2.5h0m.8 3.6h0m1.2-1.7h0m.6-1.5h0m1 4.1h0m.8-2.7h0m1.6-.1h0m.2 2.6h0m3.2-3.3h0m0 3.1h0m2.4-1.7h0m.2 .5h0m1.9 .3h0m.4-2.5h0m1.1 1h0m.2 3.4h0m.1-5.2h0m2 5.4h0m.2-2.6h0m1.2 2.4h0m.7-4.9h0m.7 2.9h0m2-1.3h0m.5 2.7h0m1.3-2.4h0m.3-2.4h0m.1 3.4h0m2.3 .4h0m.1-3.7h0m.3 1.1h0m.7-.6h0m.4 4.8h0m2.3-2.1h0m.2-.4h0m.9-2.8h0m1.9 5.3h0m.6-1.8h0m.1-3.2h0m2.1 1.1h0m1.2 2.8h0m.4-2.3h0m.8 .8h0m.3 1.7h0m1.4-4h0m.7 .6h0m1.3 2.6h0m.5 1.2h0m1.7-3.8h0m.5 2.2h0m1.8-1.7h0m.7 2.4h0m1.3-3.5h0m.2 1.7h0m2.3 3.4h0m.1-3.1h0m1.3 1.3h0m1.8-2.9h0m.5 1.9h0m1.1 2.4h0m1.2-.9h0m.4-3.9h0m.3 1.6h0m1.2 .8h0m1.1 2.2h0m1-3.2h0m1.2 2.2h0m.5-3.9h0m.8 5.4h0m.4-2.5h0m1.7 1h0m.2-3h0m.3 1.9h0m2.8-2.3h0m.4 2.5h0m0 1.6h0m1.8-2.6h0m1.6 2.9h0m.4-5h0m1.5 2.5h0m.4 2.4h0m2.2-.9h0m.9-2.8h0m3 2h0m.3-2.5h0m1.8 2.7h0m1.3-2.4h0m.6 3h0m1.5-.1h0m1.6-2.9h0m.8 3.8h0m1-1.4h0m1.3-2.4h0m1 1.4h0m.4 3.4h0m1.2-4.8h0m.7 3.1h0m1.3-4.1h0m.2 3.7h0m1.1 .3h0m.1-2.2h0m2.5 3.1h0m.3-4.5h0m1.2 1.6h0m.6 1.3h0m1.5-2.9h0m.3 1.9h0m2.1 .2h0m.2-1.1h0m.9 4.2h0m.8-2.2h0m.8-2.8h0m1.4-.5h0m.3 5.7h0m.5-3h0m1.7 .3h0m.5-2.8h0m.6 4.4h0m1.5-2.1h0m.3 2.1h0m1.1-2.1h0m2.4 3.2h0m.1-1.3h0m.1-2.2h0m.4-.7h0m1.2 1.3h0m2.1 2.7h0m.8-3.2h0m1.1 1.4h0m1.6-2.2h0m1.1 2.9h0m.4-1.8h0m.9 3.1h0m1.4-5.4h0m.7 2.8h0m.5 .9h0m.8-3.8h0m.9 3.4h0m.7 2.2h0m.7-5.7h0m1.4 3.4h0m1.2-1.5h0m.6-2h0m.6 4.3h0m1.2-3.2h0m1.3 3.9h0m.5-1h0m.3-3.1h0m.2 2.3h0m1.7 2.2h0m1.4-2.9h0m1.2 1.4h0m1.4-2.7h0m.3 3.4h0m.8-.1h0m.6-2.7h0m2.5 1h0m.5 1.1h0m0-1.2h0m1.1 3.1h0m1.1-2.2h0m.4-2h0m.3 4.2h0m1.1-3.8h0m1.2 2.1h0m1.6-1.8h0m1.4 3.4h0m1.4-1.5h0m0-2.6h0m2.1 4.2h0m0-5.3h0m.5 1.5h0m1.4 1.3h0m.1-1.7h0m1.4 3h0m1.7-3.3h0m0 3.4h0m.3-4.6h0m1.3 1.5h0m.7 3.3h0m1.2-4.8h0m.9 5.4h0m.2-1.9h0m0-.7h0m1.3-2.3h0m1.6 2.6h0m.4-.9h0m0-1.3h0m.3 .2h0m.2 1.1h0m.3 1.8h0m0 .9h0m0-4.2h0m.1 1.5h0m-355.5 5.8h0m9.3 2.8h0m11.8-3.6h0m7.4 1.1h0m7.7-1.8h0m1.6 .7h0m11.4 4.2h0m6.3-.5h0m.8-1.7h0m12-1.3h0m1.8-1h0m.5 2.5h0m4.3 2.4h0m1.5-.5h0m8.1 0h0m2 .4h0m1.2-1h0m2.4-1.2h0m.3 .5h0m1.7-1.2h0m1.4 1.5h0m1.2 .9h0m.4-.7h0m1.4-3.4h0m.1 .6h0m1.7 3.6h0m.3-1.7h0m1-2.3h0m2 2.6h0m.7-3.9h0m1.8 4.1h0m.4 0h0m.6-3.2h0m1-.4h0m0-.5h0m2 3.6h0m.6-.6h0m.8 2.7h0m1.6-4.3h0m1.7 1.9h0m.4 .8h0m.5-1.9h0m.7-.1h0m.7-1.5h0m1.3 4.1h0m.2-1.7h0m0 1.9h0m.5 .8h0m.7-5.2h0m.4 4.4h0m.9-4.2h0m1 1.3h0m.4 .2h0m.1 2.8h0m.7-2.8h0m1.5 3h0m.2-3.6h0m1.6 .4h0m.8-2h0m.5 5.1h0m.3-3.8h0m.9-.2h0m.2 1.4h0m1.1 2.6h0m.5-3.9h0m.9 2.6h0m1.1 1.6h0m.6-1.7h0m.8-1.3h0m.9-1.7h0m.1 4.9h0m1.5-3.5h0m1 2.1h0m1.5-2.9h0m.6 1.1h0m.5-.8h0m.5 2.1h0m0 .8h0m.4-1.6h0m.4-.1h0m.4 1.4h0m.7-.7h0m.9 1.2h0m.1-1h0m.5-3.3h0m.2 2.3h0m.6 .3h0m.9 1.1h0m.4-2.8h0m2.6 3.6h0m0-2.1h0m2-2.7h0m1.9 2.6h0m1 2h0m.6-3.3h0m2 2.1h0m1.6-3.3h0m0 .8h0m.7-.7h0m.5 3.2h0m0-2.3h0m.8-.3h0m1 3.9h0m1-4h0m.5 3.2h0m1.4 1.5h0m.3-4h0m.3 1h0m.7 2.6h0m1.4-2.4h0m.5-1.9h0m1.6 4.3h0m.8-1.4h0m.6-1.2h0m.9 2.9h0m.1-5.3h0m1.3 1.1h0m1.5 2.9h0m.9-2.1h0m2.4 .9h0m1-2.7h0m0 5.1h0m2.1-4.9h0m.2 2.3h0m1.4 .6h0m.7 2h0m.7-4.3h0m1.8 3.2h0m.3-3.1h0m.3 4.2h0m1.8-5.4h0m.6 5.8h0m.8-2.7h0m.6-1.5h0m.7-1.7h0m.4 3.9h0m1.6 .6h0m.5-3.4h0m1.3 3.8h0m.4-3.2h0m2.3 .8h0m.9 3.2h0m1-3.1h0m.5 3.4h0m1.9-4.5h0m.6-1.4h0m.3 3.9h0m0 1.4h0m2.4-1.8h0m.7-2.5h0m1 2.6h0m.3-2.4h0m2 4.1h0m.4-5h0m.6 3.1h0m1.8 .8h0m.7-3.1h0m0-1h0m1.3 4.7h0m1.3-4.5h0m.5 2.9h0m.2 0h0m1.3 2.3h0m.9-5.5h0m1.4 1.6h0m.4 1.8h0m1.9-2.4h0m.8 3.7h0m.8 .7h0m1.3-3.1h0m.2-2.2h0m.8 4.5h0m1.7-2.5h0m.5-1.8h0m1.1 4.3h0m1.7-2.4h0m.4 3.2h0m2-4.5h0m.2 2.6h0m.6 1.6h0m1.1-4.2h0m.5 3.3h0m2.1-4h0m.2 2.6h0m1 2.3h0m1.1-2.9h0m.8-2.1h0m1.6 5.5h0m.2-1.1h0m1-2h0m.7 2.4h0m1.1-3.6h0m.5 1.4h0m1.2 .3h0m1-2.4h0m1.6 2h0m1.1-2h0m.1 4h0m1.5-3h0m.3 3.1h0m1.5-3.2h0m1.5 2.6h0m1.3-1.1h0m.5-2.5h0m.7 4.9h0m2-3.5h0m.1 3.8h0m.1-5.8h0m.6 3.1h0m.3-2.9h0m1.6 3.7h0m1.4-3h0m1.2 4h0m.9 1h0m.2-2.7h0m1-2.1h0m2.2 3h0m.4-2.5h0m2-.8h0m.1 1.8h0m.4 2.8h0m1.1-4.8h0m1.4 2.8h0m.9-.8h0m1-2.3h0m.5 5.5h0m.9-3.6h0m.3-.8h0m1.2 3.3h0m.3-2.5h0m1.4-1.4h0m.1 4h0m.6-3.5h0m2.5 2.7h0m.1-4h0m2.6 1.5h0m1.4 2.6h0m1.7-3.3h0m.7 .3h0m.7 1.2h0m.5 2.6h0m1.7-3.5h0m.4 2.4h0m1.7-2.1h0m.4 3.9h0m.3-2.2h0m1.4 1.8h0m.2-3.7h0m2.1 1.1h0m.7 3.2h0m.4-1.1h0m.2-4.3h0m1.5 3.4h0m.8 1.8h0m.2-5.3h0m1.1 0h0m0 2.5h0m1.5 1.6h0m.4-3h0m.9-1.2h0m.3 3.7h0m2.8-2.1h0m.2 3.8h0m.2-1.1h0m2.7-2.9h0m.1 2.6h0m.4-3.7h0m.3 .8h0m.3 3.9h0m1.7-4.2h0m.1 2.9h0m1.3 .4h0m.8-2.5h0m2.2 3.8h0m.1-2.1h0m.5-3h0m1.2 1.3h0m.7 2.6h0m.3-4.1h0m1.4 2.5h0m1.1-1.2h0m.7 2.4h0m1.2-2.6h0m.7 1.6h0m2.2-2.5h0m0 2.4h0m2 2.4h0m.2-3.3h0m1.1 3.1h0m1.3-3.9h0m.7 2.7h0m.5 1.7h0m.3-5h0m.2 1.7h0m2.6-.5h0m.1 3.6h0m.9-1.8h0m2.3-2.2h0m1.1 1.6h0m1.2-1.5h0m.4 2.2h0m2.6-2.1h0m.3 3.3h0m2.8-2.4h0m.7 2.2h0m1.9-3.4h0m.4 2h0m2-2.8h0m0 2.7h0m.1 2.1h0m.2-2.8h0m0-1.5h0m.1 1.7h0m.3 2.8h0m-349.8 1.6h0m5.8 3.6h0m9.7-.1h0m2.4-4.6h0m.1 2.1h0m.3 .8h0m18.1-.3h0m7.6-2.6h0m12.2 4.3h0m1-3.8h0m0 .2h0m1.6 2.2h0m1.4 .4h0m.9 1.4h0m.1-4.2h0m5.9 2.5h0m.1 0h0m.3 2.3h0m1-.4h0m1.1-1.7h0m1.2-3.1h0m.2 4.2h0m1.9 .1h0m0 1h0m.5-.8h0m.4-1.2h0m.1 1.2h0m.8 .8h0m.6-3.4h0m3.3 2.9h0m1.5 .4h0m3.2-1.5h0m.2-3.2h0m.3 2.5h0m.7 .8h0m.6-1.5h0m.6 0h0m1.2 2.9h0m.5-3.3h0m.2-1.2h0m1.7 3.4h0m.2-2.7h0m.1-1h0m1.4 4.6h0m1.9-2.7h0m1.1 2.6h0m1.8-4.1h0m.2 3.5h0m0-1.8h0m1-2.3h0m1.1 3.8h0m.7-1.9h0m.9 3.4h0m.7-4.7h0m.6 4.6h0m.4-2h0m.7-3h0m.2 4.9h0m.6 0h0m.2-1.7h0m2.2-.7h0m.1 .8h0m1.1-.5h0m.1-.6h0m.1-1.5h0m.5-.5h0m1.1 1.8h0m.2-1.6h0m1.3 1.9h0m.3 2.8h0m1.1-1.7h0m.7-1h0m0 .1h0m.1-.4h0m2.5 .6h0m.4-.5h0m.2 2.2h0m0-1.8h0m.6 2.5h0m1.8-4.8h0m.7 2.1h0m.7 .3h0m.3 2h0m.6-.9h0m1.7-2.7h0m.4 4.1h0m.7-3.4h0m1.7 1.7h0m.6 1.1h0m1-4.1h0m1 4.6h0m.4-2.7h0m1.2 1.2h0m1.8-2.5h0m.2 4.3h0m1.1-3.9h0m.2 2.7h0m1.8-3.8h0m1.3 3.2h0m1.5 .1h0m.3-1.5h0m1.5-2.3h0m1.1 4.5h0m.5-2.7h0m2.4 .9h0m.9 2.3h0m.2-5.4h0m1.5 3.8h0m.5-1.2h0m.3 2.8h0m1.5-1.5h0m.8-3.1h0m.4 4.7h0m.4-1.1h0m.6-2.2h0m1.3-1.9h0m1.6 3.6h0m.2 1.8h0m.9-3.5h0m1.4 1.8h0m.3-2h0m1.7 3.3h0m.7-3.2h0m.8-1.6h0m.4 2.9h0m1 2.5h0m1.5-3.7h0m.7 1.1h0m.8-.4h0m.3 3.1h0m1.4-5.4h0m.3 3.9h0m1.1-2.1h0m1.8-1.9h0m.1 3h0m1.9 1.8h0m.1-5h0m1.6 2.6h0m.7 2h0m0-4.6h0m.7 1.4h0m1.1 2.6h0m.2 .9h0m1.5-2.2h0m.2 2.2h0m.9-2.6h0m2.5 .9h0m0-.9h0m1.1 2.3h0m1-2.1h0m1.2 1.2h0m.1-3.6h0m1.8 5.3h0m.8-3.1h0m.9 1h0m0-2.8h0m1.8 .5h0m.8 1.9h0m2.4 1.3h0m.4-3.2h0m.9 4.4h0m1-2.1h0m2.1-1.6h0m.6 1.8h0m.8 1.4h0m.3-2.6h0m.2-1.8h0m2.3 3.9h0m.3-3.8h0m.6 1.7h0m.8 .5h0m1.7-1.2h0m.6 3h0m.6-2.9h0m.8 .8h0m2.2 1.8h0m.5-3.4h0m2.1 1.9h0m1.2-2.9h0m.3 1.9h0m1.3 2.5h0m.1 1h0m1.3-4.7h0m.5 1.3h0m.9 3.4h0m1-3.3h0m.5 3.1h0m1.6-4.8h0m.2 3.4h0m2.3-3.3h0m.4 2.7h0m2.1-.9h0m.3 2.1h0m1.3-.2h0m.1-2.7h0m2.1 3.9h0m.7-4.8h0m0 1.2h0m.2 1.8h0m.6 1.9h0m1.7-4.2h0m.2-1h0m.1 4.5h0m1.4-1.1h0m.6 1.1h0m.4-3.3h0m1.2 .9h0m2.8 1.9h0m0-3.4h0m1.2 4.6h0m1.2-5.6h0m.2 2.5h0m.8 3.4h0m.8-2.9h0m1-1.5h0m1.5 3.3h0m1-1.2h0m.1-1.9h0m2.4-1.7h0m.8 3.4h0m1.2-1.8h0m1.3 2.9h0m.3-1.8h0m1.8-1.8h0m.9 3.2h0m.1-.3h0m2.1-2.2h0m.5 3h0m1.5-1h0m.4-1h0m2.3 .4h0m.5-2.9h0m2 3.9h0m.8-2.9h0m1.2 2.1h0m1.1-2.3h0m1.7-.5h0m.3 4.8h0m.4-1.7h0m.1 1.9h0m.8-3.6h0m2-1.2h0m.1 2.9h0m.5 1.8h0m.8-2.1h0m.8 .9h0m.3-4h0m1.1 1.5h0m.8 .9h0m1.2-.4h0m.2 3.2h0m.9-5.2h0m1 1.4h0m1.1 2.3h0m.1-3.7h0m1.6 3.7h0m.6-3.5h0m.1 2h0m1.7 1.1h0m.7 1.6h0m.2-4.4h0m1.6 2.4h0m1.1-1.7h0m.2 4h0m.8-2.5h0m1.3-2.5h0m1.1 4.9h0m.4-2.4h0m1.9 1.7h0m.1-2.1h0m2.4-1.4h0m.6 2.7h0m1.3-2.3h0m.7 1.6h0m.2 2.8h0m1.6-4h0m.9 2.4h0m.2-1.1h0m.1 1.9h0m.4 .4h0m0-5.2h0m.6 2.1h0m.4-.5h0m.6 .1h0m.9 .8h0m.3-.4h0m.3-.9h0m.1 .6h0m.3 1.2h0m.4-.3h0m.1 1.8h0m.1 .5h0m.1-2.5h0m.3 2.3h0m.9-2.1h0m.5 2.4h0m2.1-4.9h0m.6 3.8h0m.5-.7h0m.5-2.8h0m1.7 4.3h0m.6-1.5h0m1.2-2.5h0m1 3.4h0m.6 1h0m1.3-2.8h0m.2-2.5h0m1.4 2.7h0m.7 1.8h0m.3-.5h0m1.1-3.8h0m1.4 1.6h0m.4 3.3h0m.1-4.3h0m2.4 5h0m.3-2.9h0m1-.9h0m1.3 3.7h0m1.7-2.3h0m.1-3.6h0m1.9 1.5h0m.8 3h0m.3 .7h0m.8-2.9h0m1.2-2.2h0m.2 2.9h0m2.1 1.2h0m.3-3.1h0m1.3-.7h0m.5 5.6h0m.6-4.8h0m.9 2.9h0m.9-1.8h0m.3 3.5h0m.1-4.9h0m1.9 4.1h0m.8-4.4h0m.6 4.9h0m.3-3.1h0m.2-2.1h0m2 3.4h0m.5 1.3h0m.1 .3h0m.4-3.7h0m.2 2.1h0m.1-1.2h0m-368.1 7.6h0m19 .1h0m2.4 .5h0m8.4-.9h0m2.9-2.3h0m15 3.6h0m.8-1.4h0m3 2h0m5.2-1.5h0m2.3 .3h0m1.9-2.9h0m3.3 .8h0m1.8-.1h0m.3 1h0m.3 1.2h0m1.6 .2h0m.5-2.7h0m.5 3.9h0m1.8-5.5h0m0 2.5h0m.7 3h0m1.5-5.7h0m.1 3.9h0m.2-2.4h0m.8 1.3h0m1.9 1.6h0m0-1.4h0m1.2 1.6h0m.4-2.7h0m3.2 3.9h0m.3-4.5h0m0 3.5h0m.4-.9h0m2.1-1.2h0m.3-.6h0m.6 1.5h0m1.1-.7h0m2.2 .8h0m1.5-1.8h0m1.2 1.8h0m.4-2.5h0m.6 .5h0m.6 0h0m.3 1.4h0m3.3-1.1h0m.5 1.1h0m.1 .1h0m.8-2.8h0m.2 2.1h0m.9 1.3h0m1.3-1.5h0m1.5-2.4h0m.1 2.4h0m.5 1.3h0m.7-1.3h0m1.3 1.8h0m.9-3.6h0m.3 1.6h0m1.8-1h0m.5 3h0m1.6-3.2h0m.8 3.3h0m1.5-2.9h0m1.5 2.4h0m.9 .4h0m.5-2.6h0m.1-1.2h0m.4 .7h0m2.2 4.4h0m.1-3.8h0m1.6 1.7h0m.7 2.4h0m1-2.1h0m.3-.3h0m1.2 1.2h0m.9-3.6h0m0 4.6h0m.1-5.2h0m.1-.5h0m1.7 .6h0m.3 3.1h0m.4-2.5h0m.2-.9h0m.4 1.1h0m.8 1h0m.9 2.8h0m1.5-3.2h0m.4 1.4h0m1.5-3h0m.4 1.4h0m1.1 2h0m1.5-1.7h0m1.9 2h0m.4-3.7h0m1.9 2.8h0m1.8 1.8h0m.1-2.7h0m1.9 3.2h0m.4-3.5h0m.3 1.5h0m.4 1.8h0m1.8-3.7h0m1.1 4.1h0m.1-1.8h0m2.1-2.5h0m.9 2.1h0m0 1.6h0m2-3.2h0m.7-1.6h0m.3 4.5h0m.7-3.5h0m1.7 2.8h0m.4-.5h0m.4-3h0m1.9 3h0m.5-2.8h0m1.9-.3h0m.1 3h0m2.1 2.2h0m.7-3.4h0m1.1 2.8h0m.5-2.9h0m1.7 2.8h0m1.6-2.3h0m.7-1.9h0m.1 5.1h0m1.3-3.3h0m.9 1.6h0m.8 1.3h0m1.1-3.5h0m.7 3.2h0m1.1-2.7h0m0-.7h0m2.9 1.4h0m.4-2.5h0m2 4.3h0m.7 .2h0m.1-.6h0m.1-3.1h0m1.9-.7h0m.5 2.8h0m1.3 1.5h0m.2-3.2h0m1.7-1.5h0m.5 3.7h0m2-1.7h0m.3 1.1h0m.8-2.3h0m1.1 1.7h0m1.7 2.1h0m.6-3.2h0m1.8 1.5h0m1.1-3.1h0m.1 5.6h0m.9-3.9h0m1.6 1.6h0m0 1.9h0m1.6-4.2h0m1.9 2.8h0m1.7-2.9h0m1.3-.9h0m.7 2.7h0m.1 1.5h0m1.1-4.3h0m1.6 2.1h0m.7 2.9h0m1.6-1.2h0m.6-3.4h0m1.2 3.9h0m.1-4.3h0m.5 2.6h0m1.3 3h0m1-3.6h0m.8 .3h0m.3 3h0m.1-5.2h0m1.5 2.5h0m1 2.1h0m.7-4.7h0m1.4 1.5h0m.2 2.6h0m.3 1.5h0m.4-4.9h0m.5 3h0m.2 .3h0m2.4-2.3h0m1 2.5h0m1.5-.5h0m.8-3.4h0m.4 3.7h0m2-1.9h0m.1 2.2h0m1.7 .1h0m1.1-3.4h0m1.7 3.2h0m.7-2.9h0m1.8 2.6h0m.2-4h0m1.2 1.8h0m.1-1.1h0m1.5 1.8h0m.1 2.4h0m1.7-4.4h0m.9 4.1h0m.6-1.9h0m1 2.9h0m.6-3.4h0m2.4 2h0m.6-1.5h0m.7-2.1h0m.5 5h0m1.5-2.7h0m.7 1.8h0m1.1-4.6h0m1.2 2.2h0m1.3-.9h0m.8 2.9h0m1.2-2.8h0m1.3 2.2h0m1.5-2.5h0m.6 4.8h0m.2-2h0m2-.9h0m.8-2.5h0m1.8 3.1h0m.1 .9h0m.9-4.4h0m.8 2.8h0m2.1-1.6h0m.9 3.8h0m.7-2h0m.7-.1h0m1.4-3h0m1.1 4.7h0m.6-2h0m.6 2h0m0-3.8h0m1.6 1.6h0m.4-1.7h0m.1 .8h0m1.6 2.6h0m.4-3.5h0m1.5 2h0m.6 .1h0m.6-1.8h0m.3 4.1h0m1.5-3.2h0m.3-1.4h0m1.8 3.7h0m1.2-2.3h0m.3 2.1h0m2-2.4h0m.5 4.1h0m.4-1.9h0m.4-1h0m1.7-2.1h0m.7 4.1h0m.5-4.3h0m.7 3h0m1.2 .9h0m.3 .9h0m1.2-3.9h0m.4-1.2h0m.5 1.9h0m1.2 2.3h0m.5-.4h0m1.2-3.6h0m1.2 1.4h0m.1 3.4h0m.1-.8h0m2.4-2.1h0m.8 2.5h0m.8-1.8h0m1 2.6h0m.8-4.9h0m.4 3.2h0m1.7-.8h0m.4-2.1h0m2.1 3.6h0m.4-2.5h0m.4-1.7h0m2.1 4.7h0m.3-.9h0m.6-2.2h0m.7-.3h0m.2 3.2h0m.6 .5h0m1.5-2.3h0m.7-2.9h0m.7 .8h0m.1 2.1h0m.2-2.4h0m.4 .4h0m.2 4.2h0m.3-4.5h0m1.7-.2h0m.2 1.8h0m.2 2.6h0m1.7-1.9h0m.8 2.1h0m1.4-3.8h0m.2 .8h0m1.4 .6h0m0 2.3h0m.1-3.9h0m2.5 3.6h0m.7-3.1h0m1.5 3.7h0m.5-2.8h0m.9-1.9h0m.6 4.3h0m0-2.4h0m1.2-1.1h0m1.5 3.2h0m1.3-4.1h0m.6 5.2h0m0-3.8h0m2 1.7h0m.7 1.9h0m.6-3.1h0m2.3 2.3h0m.7-3.6h0m.6 2.9h0m1.9-4.1h0m1 2.9h0m.6 1.9h0m1.6-2.6h0m.7-1.1h0m.6 1.2h0m.1-2.2h0m.9 5.7h0m.9-4.6h0m1.6 3.1h0m.2 .4h0m.6-1.1h0m.9-1.6h0m1.4-.2h0m1 1.9h0m2.1-3.3h0m.2 3.4h0m1.3-1.8h0m.4-1.2h0m.1-.3h0m.4 .8h0m0 .8h0m.1-1.2h0m.2-1h0m.1 3h0m.3 2.2h0m.1-2.4h0m.2 3.1h0m0-.3h0m-370 .6h0m.5 2.5h0m24.3 .2h0m1.9-2.6h0m4.1 3.3h0m12.8 1.8h0m8.8-5.1h0m7.1-.2h0m.8 2.8h0m2 .8h0m0 1.2h0m1.6-3.5h0m.4 1.4h0m2.4 .4h0m.2-1.1h0m.8 3.4h0m2.1-4.8h0m.6 4.1h0m1.2 .1h0m.8 .4h0m.7-2.6h0m1.9 1.5h0m.7-3.1h0m1.8 4.3h0m.8-2h0m.4-2.9h0m.8-.2h0m.2 5.5h0m.8-1.9h0m.1 1.6h0m.3-.1h0m1.4 .3h0m1.4-3h0m.3-1.9h0m.6 4.1h0m.1-1.4h0m.6 1.1h0m0 .7h0m.7-2.7h0m.9-1.4h0m.3 1.1h0m2-1.3h0m1.4-.7h0m0-.2h0m.1 2.8h0m.5-1.4h0m.1 3.1h0m0-2.7h0m1.6 2.8h0m.7-3.2h0m.2-.9h0m1.8 1.6h0m.9 2.5h0m.6-3.1h0m.2-1.1h0m1.3 5.3h0m.8-2.6h0m.8-1.1h0m.5 0h0m1.6 1.4h0m.1-.1h0m.4-1.1h0m.4-.3h0m.5 .4h0m.5 1.4h0m0 2.2h0m.2-4.9h0m0-.4h0m.4 .2h0m.4 4.5h0m1.9-2.6h0m.7-2h0m.8 2.2h0m.2 2.3h0m.6-4h0m2.6 1.1h0m.3-2.2h0m.2 3.9h0m2.6-2.6h0m0 2.7h0m2.9-3.5h0m.1 2.2h0m.1 2.3h0m.8-5.2h0m.9 1.9h0m.2 3.8h0m1.2-.9h0m.3-3.6h0m1.9 3.1h0m1-2.1h0m1.1 1.7h0m1.4-3h0m2.1 1.8h0m0 1.9h0m2.5 1.3h0m.3-5.5h0m.5 3.2h0m1.6-3.5h0m.7 3.8h0m0 1.9h0m1.2-5h0m.5 3.2h0m2.7 .3h0m.1-2.8h0m.5-.7h0m1.4 2.2h0m.4-1.4h0m.2 3.8h0m2.3-1.6h0m.3-1.6h0m2.5-.9h0m.5 3h0m1.8-2.4h0m1 .3h0m.2 1.9h0m1.3 1.3h0m1.2-2.6h0m.2-2.7h0m1.3 5.5h0m.9-4.8h0m.6 2.2h0m2.7-2h0m.1 4.1h0m.3-1.9h0m.8-3.2h0m.5 4.6h0m.1-3.4h0m1.9 1.9h0m1.5-2.4h0m1.3 2.4h0m1.5-.6h0m.2 2h0m1.2-2.8h0m.9 3.3h0m1.9-3h0m.9 2h0m1.6-1.9h0m2 2.6h0m.9-2.9h0m.5-1.7h0m.7 5.8h0m.2-2.6h0m1.5-.1h0m.7-1.6h0m.3-1h0m1.6 4.3h0m1.1-2.7h0m.7 2.7h0m1.2-4.3h0m.6 2.5h0m.3-2h0m1.5 4.6h0m.7-.1h0m.3-3.6h0m.1 2.1h0m.4-3.9h0m.4 4.4h0m1.5-1h0m.4-2.7h0m.8 3.1h0m.1-2.5h0m1.4-1.5h0m1.5 5.1h0m.1-1.3h0m.8-2.4h0m3 4h0m.1-2.3h0m1.1 1.4h0m1.8-3.7h0m.8 2.1h0m2 .9h0m.8-2.8h0m.4 3h0m.6 1.6h0m.8-3.8h0m.4-1.5h0m2 3.3h0m.1-3.2h0m1.2 3.9h0m.1-1.8h0m2.7-1.6h0m1 3.5h0m.6-2.3h0m.3 2.9h0m2.3-1.9h0m.3-2h0m1.7 2.9h0m.5-3.2h0m1.4 2.2h0m1.5 .9h0m1.4 1.3h0m.3-3.5h0m1.1 1.6h0m.5-2.3h0m1 4.9h0m.3-1.7h0m1.2-2.8h0m.7 3.6h0m1.2-2.5h0m1 2.2h0m.1-3.3h0m2 1h0m.6-1.8h0m1.2 4.5h0m.6-5.1h0m1 3.5h0m.6-2.5h0m1.4 .9h0m1.4 .6h0m.1 2.3h0m.6-4.2h0m1.6 1.5h0m.8-1.1h0m.3 4.5h0m1.1-2.8h0m.4 2.9h0m2.5-2.7h0m.7 1.8h0m.4-4.2h0m.7 3.6h0m1.5 1.7h0m.2-3.5h0m1.5 .6h0m.4 2.9h0m1.5-3.9h0m1.2-1.8h0m.3 4.8h0m.1-3.5h0m1.6 4.2h0m1.5-5.4h0m0 2.7h0m1.4 1.2h0m.8-2h0m1.5 1.6h0m.9 2h0m1.3-4.7h0m.5-.6h0m.2 2.7h0m1.4 2.1h0m.9-1.6h0m.6-2.4h0m1.9 2.4h0m.5-3.6h0m1.5 4.3h0m.3-3.3h0m1.3 .7h0m1.1-1h0m.9 3.2h0m1.5-2.1h0m1.4 1.6h0m1.7 2h0m.1-3h0m.2-2.4h0m.3 2h0m1.5 1.9h0m1.6 1.6h0m.6-3.1h0m1.2-1.9h0m.7 1.8h0m.1 3.3h0m.8-2.4h0m2.1-1.8h0m.8 2.9h0m.6-1.7h0m1.5-1.5h0m.1 3.3h0m1.5-3h0m.8 3.9h0m.4-3.1h0m.9-.3h0m1.1 2h0m1.4-2.2h0m1.8 2.8h0m1.2-4.2h0m.1 4.4h0m.1-1.8h0m1.8-.5h0m2 2.5h0m.5-4.6h0m.9 1.7h0m.8 4h0m1.1-1.6h0m1.4-3.9h0m0 2.5h0m.6 1h0m1.8-2.4h0m.1-1.1h0m.9 3h0m1.2 1.7h0m1.1-4h0m.9 2.2h0m2.2-.7h0m0 2.4h0m2.9-2.4h0m.3-1.9h0m.4 4.1h0m.8-3.6h0m.9 1.9h0m1.1 2.6h0m.9-3.2h0m1.8 .9h0m1.2-2.7h0m.6 5h0m0-4h0m1.7 2h0m.1-.9h0m.5 2.9h0m1.9-1.7h0m.1-3.7h0m.1 4.8h0m1.6-1h0m.7-2.4h0m1.6 3.9h0m1.2-1.3h0m.4-1.6h0m.6-2.1h0m0 3.6h0m1.3-.8h0m1.7 1.2h0m.2-2.7h0m1.1 1.2h0m1.7 1.4h0m.7-3h0m.9 1.9h0m1.5 1.5h0m1 .4h0m.1-4.5h0m1.8 2.3h0m.2-.8h0m1.3 .6h0m1.2 .8h0m0-3.7h0m1.4 5.7h0m1-3.3h0m.1-1.7h0m1.9 3.4h0m1.5-1.1h0m.3-1.6h0m1.2 .8h0m.4-2h0m.2 4.3h0m1.4 .8h0m1.1-4.4h0m.1 3.9h0m1.9-3h0m0 4h0m.1-.5h0m0-3.3h0m0 1.2h0m.3 1.6h0m.3 1h0m.1-5.5h0m.1 5.1h0m.4-3.5h0m-357.2 5.3h0m.5 1.2h0m3.6 1.1h0m5.2-2h0m3.4 1.1h0m6.3 2.8h0m6.4-.4h0m1.6-.1h0m3.7 .4h0m2.6-2h0m1.2 1.1h0m2.6 .2h0m.1-2.4h0m.8-1.2h0m1.4 2.1h0m2.1 1.1h0m.2-3.3h0m.6 1.9h0m.4 2.9h0m1.4-3h0m2.8 2h0m3.6-4.6h0m.6 .4h0m.7 5.2h0m.6-3.3h0m.6 1.4h0m.2-2.4h0m.3 4.5h0m1.5-3.6h0m0-2.4h0m.6 4.1h0m.3 .4h0m2.2-.4h0m.4 .2h0m.2 1.6h0m.5-1.1h0m.1-2.6h0m.1-1h0m.2 2.2h0m.2-2.4h0m1.6 1.1h0m1.3 3h0m.7-2.5h0m.2-1.9h0m.3-.6h0m.4 2.7h0m.2-1.7h0m1.3 3.1h0m.3 1.4h0m.6-.7h0m.9 0h0m.1 .4h0m.2-1.9h0m.2 .7h0m1.6-2.9h0m0-.8h0m.3-.2h0m1 3.9h0m1.7-3.2h0m.3 .5h0m.3 2h0m0-3.3h0m.4 5.6h0m.8-4.7h0m1.4 1.1h0m.1-.4h0m.5-.7h0m.2 4.5h0m.4-4.5h0m.1-.7h0m.2 1.5h0m1 2.2h0m1.3 1.9h0m.6-3.9h0m.3-1.5h0m1.5 4.2h0m0-3h0m2.4 2.5h0m.1-2.7h0m1.8 3.3h0m.8-3.4h0m1.2-.9h0m.8 4.5h0m1.1-2.8h0m.3 3.5h0m2.8-1.3h0m.1-1.7h0m.9-2.1h0m.5 4.1h0m1.6-1.9h0m1.3-2.1h0m1.1 3.4h0m.4-2.4h0m.1 3.5h0m2.3-4.4h0m.3 4.7h0m.2-2.2h0m.9-2.1h0m2.6 3h0m.2-2.3h0m.5 3.3h0m2.5-1.5h0m.1-1.5h0m1.4-1.2h0m.5 4.7h0m.5-2.7h0m2 .3h0m.5-2.9h0m0 .7h0m2.5 2.5h0m1.3-2.3h0m.8 1.9h0m1.3 2.8h0m1.3-4.7h0m.1 2.5h0m.9-.4h0m.6-1.7h0m1.8 1.2h0m1.5 2.2h0m0-4.7h0m2 2.3h0m.5-.9h0m1 3.2h0m.4 .8h0m1.1-1.3h0m.6-3.1h0m.1-1.4h0m.2 2.5h0m1 2h0m1.3 .7h0m0-3.9h0m1.2 1.8h0m1.5-2.2h0m1.1 3.5h0m.8-2.5h0m.6 3.7h0m1.4-2.8h0m1.7 2.6h0m.3-3.9h0m.6 1.7h0m.6-3h0m1.6 3.4h0m1.1-1.9h0m.8 2h0m.8-3.3h0m.7 4.4h0m.3-3.1h0m2.1 2h0m.3-3.4h0m.6 4.2h0m.9-.1h0m.8-2.6h0m1.9 1.8h0m.5-3.3h0m.1 2.4h0m.6 2.3h0m2.5-.8h0m.2-1.9h0m.3-1.9h0m.1 4.2h0m1.9-2.2h0m.7-1.6h0m.7 4.7h0m.8-3.3h0m.4 3.5h0m2.2-4.7h0m.5 2.8h0m.6 1.8h0m1.3-2.6h0m2.6-.8h0m0 2.3h0m.9-3.9h0m.9 1.5h0m2.4 2.4h0m.4-2h0m.8 1.6h0m.2-2.3h0m2 3.5h0m.6-3.2h0m.2-1.6h0m2.2 4h0m1.4-2.8h0m1 3.1h0m.7-3.6h0m1.3 3.2h0m1-3.2h0m.4-.7h0m.7 3.9h0m.9 0h0m.3-3.3h0m1.9 1.6h0m.9 2.8h0m1.5-.7h0m.2-3.8h0m.6 5h0m.9-2.6h0m1.1-3h0m1.7 1.1h0m.6 3h0m1-4.2h0m.1 2.6h0m1.2 2h0m1.7-4.6h0m0 1.7h0m1.2 3.6h0m1.2-3.5h0m.6-1.9h0m.6 4.5h0m1.1-.9h0m.5-3.2h0m1.9 4.9h0m.5-2h0m.8-2.2h0m1.3 1.7h0m1.6 .6h0m.4-2h0m1.7 2.7h0m1.1-2.7h0m1.1-.7h0m.4 4.7h0m.7-3.3h0m1.6-1.8h0m.7 3.1h0m.4-.9h0m.9 1.5h0m1.5-3.7h0m.6 3.3h0m1.5 .1h0m.7-3.8h0m1.7 1.5h0m.2 3.3h0m2.1-1.1h0m.8-.9h0m.2-2.5h0m.6 5.2h0m2.5 .3h0m.4-3.2h0m.2-1.8h0m.2 2.6h0m2.1 1.4h0m.2-4h0m.9 4.6h0m.7-2.4h0m1.6-.5h0m0 1.9h0m1.1-3.4h0m1 3.9h0m1.2-2.7h0m1.9 2.9h0m.1-1.3h0m.7-3.7h0m2.4 2.2h0m.7-.1h0m0 2.3h0m1.3-1.2h0m1.4-2.1h0m.3 3.8h0m.8-3.5h0m1.4 2.2h0m.8 1.7h0m.8-4.8h0m.9 .5h0m.3 3.7h0m2.6-.6h0m.3-2.6h0m.2-1.3h0m.7 5h0m.6-4.5h0m.9 3.1h0m.7-3h0m1.1 4.6h0m.3-2.6h0m.5 .2h0m2.4-1.8h0m.7 3.1h0m.6 1.4h0m.1-.1h0m1-3h0m1.9 2.9h0m.2-5.4h0m.3 3h0m2.6-3h0m.2 4.2h0m.5-1.8h0m1.7-1h0m1.2 2.6h0m1.1 .9h0m.5-3.2h0m.1-1.7h0m1.4 1.6h0m.1 .4h0m1.6 1.6h0m.8-2.8h0m.5 3.4h0m.8-2.6h0m1.1 3.5h0m.6-1.2h0m.2-2.9h0m1.2 .5h0m.7-1.1h0m.5 3.8h0m.6-1h0m1.8-1.7h0m.6 3.9h0m1.4-2.5h0m.2-2.3h0m1.6-.8h0m.3 3.8h0m1 .7h0m.9-4.1h0m1 2.6h0m1.3-1h0m.1 3.6h0m.6-2.7h0m2-2.3h0m.8 3.8h0m0-1.2h0m1.9-2.5h0m.1 4.9h0m1.5-2.2h0m1.6 2.4h0m0-3.7h0m.6-.4h0m1.4 2.9h0m1.6 .6h0m.5-3.7h0m.7 3.2h0m.3-4.5h0m1.1 3.6h0m1.9-2.4h0m1 2.4h0m1.7-1.7h0m.6 3.1h0m1.1-3.2h0m1.8 .3h0m.6 2.4h0m2.4-2.4h0m.1 2.3h0m.4-3h0m1.1 3.7h0m.2-3.3h0m1.4-1.6h0m1.2 .3h0m.3 2.7h0m.2 1.8h0m1.3-2.2h0m.6-1.3h0m2.2 2.8h0m.3-1.3h0m.4-2.2h0m2.4 1.2h0m0 3.7h0m.9-5.9h0m.6 2.5h0m.3 1h0m1.9 .3h0m.1 1.3h0m1.2-3.3h0m1.6 2.5h0m1-.4h0m0-3.2h0m1.5 .5h0m1.6 2h0m1.9-.8h0m1 1.1h0m.2 2.1h0m.9-.4h0m.1-4.7h0m.3 .6h0m.4-1.1h0m.5 2h0m-373.3 8.9h0m5.3-2.9h0m1.8-1.3h0m3.5 5h0m2.4-2.1h0m15.8 2h0m3.8-2.6h0m.7 1h0m9.4 .4h0m3.2-4h0m1.7 4.9h0m.5-4.2h0m.9 3.2h0m1.1-2.9h0m2.1 1.9h0m2.4 2.6h0m.6-4.3h0m0 1h0m.9-2.1h0m.6 4h0m.9-1.9h0m.9 1.9h0m1.1-2.9h0m2.1-1h0m.5 1.6h0m.8 3.5h0m.9-3.7h0m.6-1.8h0m.5 2.2h0m0 .5h0m1.4 2.1h0m.5-5.1h0m1.3 5.6h0m.5-5.5h0m.1 5.1h0m1.1-1.1h0m0 1h0m.1-.3h0m.5-3.3h0m.2 1.5h0m.1 1.4h0m.3-3h0m0 2.4h0m1.1-.1h0m.4-2.7h0m1.8 2.8h0m2.3-2h0m.2 3.3h0m.3-.7h0m.4-2.9h0m2.1 2.3h0m1.1-3.6h0m.3 3.6h0m2.1-3.6h0m.1 5.1h0m.3-1.8h0m1.5-2.5h0m.2 2.3h0m.7-3h0m.6 4.9h0m.8 0h0m.9-3.7h0m1.1 2.3h0m1.1-2.4h0m1.8 2h0m0 1.6h0m2-3.2h0m.7 2h0m.9 .2h0m1.7-1.9h0m.7-1.9h0m.3 4.4h0m2.4-3.2h0m.6 .8h0m.6 2h0m.4-3.7h0m2.4 2.5h0m.7-2.5h0m2.3 3.2h0m1.1-1.6h0m.7 2.3h0m1.4-4h0m.2 2.5h0m.2 2.7h0m2.2-5.3h0m.3 2.2h0m.7 1.5h0m.8-1.3h0m.9 2.4h0m2.2-3.2h0m.6 2.3h0m1.3-2.6h0m.4 3h0m.7-3.7h0m1.8 2.3h0m.5-2.8h0m2.1 4.4h0m.9-2.1h0m.4-2.1h0m1.4 3.6h0m.6-1.9h0m.1 3h0m.8-5h0m.5 1.6h0m1 2.5h0m.7-.5h0m.7-3.6h0m1.5 2.5h0m1.5 1.1h0m2.1 2.1h0m.2-4.5h0m1 2.2h0m.2-3.3h0m2.5-.2h0m.2 2h0m.2 2.1h0m2.3-1.1h0m1.2-2.5h0m1 2.1h0m.7 1.8h0m.5-1.1h0m.4 1.4h0m1.6-3.8h0m1.1 4.6h0m.4-1.5h0m1.5-3.8h0m.8 1h0m.2 3.6h0m1.6-2.7h0m2 3.1h0m.3-2.5h0m1.7-2h0m.6 4.7h0m1-2.2h0m1.1-2.9h0m2.3 2.5h0m.3 2.1h0m1.1-3.9h0m.5 3.3h0m2.5-1.4h0m1.2-2.6h0m1.7 4h0m.3-.8h0m1.7-2.7h0m1.1 4.1h0m.7-2h0m1.1-3h0m1 3.4h0m1.5-.6h0m1.8 2.9h0m.2-4.6h0m.9 .9h0m1 2.8h0m2.6-2.3h0m0-2.1h0m.6 5.4h0m.6-4h0m1.8 1.9h0m.9-3.8h0m.4 1.7h0m0 1.9h0m2.4 1.7h0m.4-4.7h0m.6 1.5h0m.6 2h0m1.9 .2h0m.2-.6h0m.5-2.4h0m1.3 4.6h0m.6-1.4h0m1.3-3.9h0m.2 2.2h0m.3 2.8h0m1.9-5.2h0m.2 3.8h0m1.4-1.1h0m1.1-2.8h0m1.6 1.3h0m.2 3.3h0m2.1-1.9h0m.9-2.6h0m.5 4.6h0m.8 1h0m1.1-3.5h0m1.2 2.6h0m1.2-4.5h0m.4 3.8h0m.3 1h0m.5-3.9h0m1.1 .3h0m.3 1.2h0m1.7 2.1h0m.1-3.8h0m.9 2.5h0m.9-1.9h0m.6 3.4h0m1.8-1.3h0m0-3.4h0m1.3 2.4h0m1.6 2.2h0m.1-3.8h0m1.8 2h0m1.5-1.8h0m.2 4.4h0m.6-5h0m.9 1.5h0m.1-2.5h0m.5 4.2h0m1.4-2.2h0m.7 1.5h0m1.6 .4h0m1.1-3.4h0m.3 2.1h0m1.7-1.5h0m.1 3.7h0m1.6 .8h0m.3-4.3h0m1-1h0m.3 3.8h0m.2-.1h0m2.2 1.1h0m.1-3.4h0m1.1-1.5h0m1 3.7h0m.3-3.2h0m1.8 4.9h0m.5-3.1h0m.3-.5h0m2.4 3.1h0m.3-2.6h0m1 1.6h0m2-2.9h0m1 4h0m.4-3h0m2.3 3.7h0m.9-5h0m.2 2.1h0m.4 2.3h0m1.1-3.5h0m2.1 1.6h0m1.2-2.3h0m.3 4.9h0m.9-2.6h0m1.1-.8h0m.6-1.6h0m1.4 3.1h0m.5-3h0m1.4 2.8h0m1.7-2h0m.4 3.8h0m1-2.2h0m1.2-2.2h0m1.1 4.4h0m.7-1.3h0m1-2.4h0m2.1 2.8h0m1.5-1.1h0m.4-2.1h0m.2 .1h0m.1 3.5h0m1.1-.3h0m1.9-3.4h0m.3 2.4h0m.9 1.8h0m1.9-1.9h0m.8 .7h0m.2-1.7h0m1.9-.9h0m1 3.8h0m1.4-5h0m0 1.7h0m.1 2.2h0m1.5-1.7h0m.1 3.1h0m.6-5.6h0m1.5 3.1h0m.8-.6h0m.9 1.3h0m1.5-4.1h0m.1 2h0m.7-1.2h0m.7 2.3h0m1-.3h0m0 .7h0m.7-1.3h0m.6 2.2h0m.2-1.9h0m.4-1h0m0-.5h0m.8 .8h0m.1 .4h0m1.5 3h0m.3-3.5h0m.6 2.4h0m1.5 .7h0m.1-2.8h0m1 1.2h0m1.5-2.9h0m.8 3.7h0m.2-1.6h0m1.3 1.3h0m.5-2h0m.1 3.8h0m1.5-3.7h0m.4 1.3h0m1.9 .6h0m.9-1.4h0m.6-1.8h0m1.1 4.1h0m1.5-3.4h0m.9 4.5h0m.8-2.9h0m1.2 .5h0m.7 1.1h0m.3-2.5h0m.1 1.5h0m.1 .4h0m.9-1.3h0m.1-1.4h0m.9 2.7h0m2.3-1.3h0m.1 2.8h0m.4-4.1h0m.2 2h0m2.1 .7h0m.8-3.9h0m.8 2.9h0m1.1-1.3h0m1.9 2.1h0m.4-3.7h0m2.4 3.4h0m.1-2.7h0m.2 3.5h0m2.3-2.4h0m.3 2.4h0m.3 1.1h0m2.1-4.7h0m.2 3.3h0m.3-1.5h0m1.9 2.2h0m1-2.3h0m.8 1.4h0m.9-3.6h0m1.3 1.9h0m.5 3.8h0m.7-1h0m.5-3h0m2.7 2.3h0m.6-3h0m2 1.3h0m1 3.2h0m1-1.1h0m0-3.4h0m2.8 2.7h0m.4-3h0m1.2 4.3h0m.6-3h0m.6-1.5h0m1.6 1.6h0m0 2.4h0m1.6-2.1h0m.2 2.1h0m.3-.1h0m.9 .3h0m.3-4.8h0m.2 2.8h0m0-2.1h0m-379.5 5.2h0m4.6 1.8h0m1.8 3.1h0m5-3.1h0m7.7-.7h0m1.2 3.1h0m3.5-.3h0m1.3-1.9h0m2.1 4h0m2.9-.8h0m5.4 .4h0m1.1 .2h0m3.9-4.9h0m5.2 .3h0m.2 3h0m.6 1.1h0m.1-4.4h0m2.6 2.6h0m2.4 .1h0m1-.8h0m.2 .4h0m.1 1.4h0m.2-2.1h0m.7 2.6h0m1.4-3.1h0m.4-.1h0m.3-.9h0m.2 .5h0m1.4 .6h0m.3 1.4h0m.2 0h0m.3-.6h0m0-.8h0m.5-1.3h0m.1 1.8h0m.2 .4h0m2.2 1.5h0m.3 .6h0m1.7-3.3h0m.9 3.3h0m.5 .4h0m.8-1h0m.9 .7h0m0-2h0m.4 .1h0m.7-1.3h0m1.3 1.2h0m.1 .1h0m.5-1.9h0m.1 4.5h0m.1-4.8h0m.6-.7h0m1.2 .4h0m.6 3.9h0m1.6-2.5h0m1 1.7h0m1.2-3.7h0m.1 5.4h0m1.3-2.9h0m1.1 2.5h0m1-2.6h0m0-2h0m1.9-.4h0m.6 3.1h0m.6 2.2h0m.6 0h0m.1-2.7h0m.5 2.9h0m2-2.8h0m.5-2.5h0m1 4.4h0m.1-2.6h0m2-.9h0m.2 3.5h0m.3-4.8h0m1.9 2.9h0m1.3 2.9h0m.1-3.8h0m1.3 .6h0m1-.4h0m.1 2.5h0m.6-2.8h0m.7 3.9h0m.1-5.5h0m.6-.1h0m0 .3h0m.4-.1h0m.1 4h0m.1-2.5h0m1.1 1.7h0m.4 2.3h0m.1-4.4h0m1.7 3.2h0m.9-1.8h0m.2 2.8h0m.2-4.6h0m2.2 2.7h0m1.1-3.1h0m.2 3.2h0m1.9 1.1h0m.9-1.7h0m.3-2.5h0m.7-.7h0m.3 5h0m1.8-1.6h0m.3-3.4h0m.1 4.6h0m2.1-2.4h0m.5 3.7h0m.6-4.3h0m.1 .6h0m.7 3.7h0m2.1-.4h0m.1-2.4h0m.3-2.5h0m2.4 .7h0m.2 2.7h0m1.2 1.6h0m.4-4.4h0m1.7 4.5h0m.5-2.3h0m.6-1.1h0m.4-1.6h0m1.7 3.8h0m.4-2.8h0m1 3.5h0m.3-4.7h0m.8 1.6h0m1.3 3.2h0m.7-5.1h0m.5 2.7h0m.4-.3h0m1.2 2.8h0m1.8-3.5h0m.7 .9h0m1.7-1.5h0m.3 2.3h0m.7-3.5h0m.1 5.8h0m1.7-2.1h0m1-2.8h0m2.2 2.3h0m2.4-2.8h0m.1 4.6h0m.1-2.3h0m.4 2.9h0m1.3-5.8h0m.6 4.1h0m1.7-1h0m0-2.2h0m.4 3.3h0m3-2.8h0m.2 2.5h0m3.1-.5h0m0-1.6h0m.1 3.2h0m2.4-3h0m.1-1.5h0m1.7 3.9h0m1.1-2.4h0m1.9 1.6h0m.8 1.3h0m.5-2.7h0m1.8 .4h0m0-2.2h0m1.8 4.1h0m.7-2.5h0m.8-1.3h0m1.2 4.7h0m1-3.3h0m.2 2.1h0m.6-3.1h0m1.5-.5h0m0 1.8h0m0 1.1h0m1.8 2.4h0m.4-5.1h0m.7 3.2h0m.3 1.3h0m1.9-2.4h0m1-1h0m.1 3.6h0m1.2-5h0m.9 4h0m.8 1h0m.1-3.9h0m.4 3.1h0m2.4-1.6h0m.4-2.5h0m.2 3.7h0m2.4-3h0m.2 2.9h0m2.8-1.2h0m1.4-2.4h0m1.3 4.7h0m.2-3h0m1 1.9h0m1.6-1.8h0m1.9 2.4h0m.3-3.5h0m1.7 2.1h0m2.4-.7h0m.2 1.3h0m1.2 1h0m.3-2.9h0m.3-1.4h0m1.6 2.9h0m1-2.7h0m.3 1.6h0m1.8 2.8h0m.5-2.9h0m1-1.5h0m1.4 3.9h0m.2-1.7h0m2.6 2.4h0m.4-2.4h0m1-2.4h0m1.8 4.7h0m.4-2.6h0m1-.9h0m1.9 2.6h0m.7-2.7h0m.5 3.3h0m1.1-2.2h0m.5-1h0m1.2 1.8h0m1.4 1h0m.6-3.6h0m.5 2.7h0m.7 1.9h0m2.1-3.6h0m0-1.9h0m.6 5.3h0m1 .2h0m.9-3.4h0m.6-.8h0m1.5 3.4h0m1-3.2h0m.2-.9h0m.5 2.4h0m1.3 2.1h0m1.1-4.8h0m1.2 2.6h0m.6 1.3h0m.4-2.7h0m2.1-.5h0m.6 3.8h0m.5-1.6h0m1.9 1.8h0m.9-2.9h0m1.8-1.8h0m.6 4.2h0m1.8-1.7h0m1.8 1.3h0m.6-4.1h0m.7 2.3h0m.6 2.6h0m.1-4.9h0m2.4 3.7h0m.3-1.5h0m1.4 1h0m1.3-.4h0m.4-1.1h0m1.9 1.5h0m1 2.2h0m.3-3.7h0m1.4-1.3h0m.5 2.4h0m.6 2.8h0m1.8-2.3h0m1.4-2.7h0m.8 3.9h0m.5-3.7h0m2.4 .4h0m.2 3.3h0m2.3-3.1h0m.1 1.4h0m1.8 1.3h0m.1-1.8h0m.4 3.3h0m.9-2.4h0m1.5 2h0m.1-4.4h0m1.5 .6h0m.5 2.5h0m1.4-1.1h0m1.8-1.3h0m.7 3.6h0m.7-.5h0m.6-3.1h0m.4 3h0m2.1-3.5h0m.5 4.3h0m.5-3.3h0m1 3.8h0m.3-3.8h0m.4-.4h0m.4 3.8h0m1.1-3.4h0m.3 3.3h0m2.6-2.8h0m0 .9h0m1.7-2.8h0m.6 1.4h0m.7 3.3h0m.8-.7h0m.5-3.8h0m2 1.7h0m.3-2.5h0m.4 4.5h0m1.7-3.4h0m1.3 2.4h0m.3 1h0m1.2-2.9h0m.6 1.6h0m1-.9h0m1 .8h0m.3 2.6h0m1.8-5.5h0m.6 5.2h0m.5-3.2h0m.6-.8h0m1.6 2.2h0m1.5-2h0m1.5 3.7h0m.9-2.9h0m.1-2.4h0m.4 1.9h0m1.6 2.1h0m1.2 .2h0m.4-.6h0m.3-2.6h0m.8 2h0m2.3-2.1h0m.3 4.1h0m.1-3.9h0m0 1.7h0m.5-3h0m.2 1.8h0m.6-.4h0m.4 1.3h0m1.4-.1h0m.1 2.2h0m.1-1.5h0m.3-.7h0m.2 .2h0m1.9 .3h0m.7-2.6h0m.5 4.6h0m.7-2.5h0m.3 1.6h0m.3-1.9h0m.4 3.6h0m.5-.7h0m.6-4.8h0m.3 5.1h0m.1-3.8h0m.1-1h0m.1 .4h0m.7 .7h0m1-1.1h0m.7 2.9h0m.4-.3h0m.7-2.4h0m.6 3.8h0m1.2-3.2h0m.9 1.7h0m2.1 1.4h0m0-3.9h0m.5 1.3h0m2.4 2.4h0m.7-3.1h0m.6 2.5h0m1.9-3.1h0m.5 2.4h0m1.5 2.3h0m.4-3.6h0m.4 1.3h0m1.9 1.7h0m.4-4.7h0m.4 2.7h0m.2 2.9h0m.4 .1h0m.9-.6h0m.4-4.7h0m.4 1.3h0m.7 0h0m.1 .3h0m.6 3.5h0m.2-4.3h0m.2 2.9h0m.1-.2h0m.4 1.1h0m.1-2.4h0m1 2.2h0m.4-3.5h0m2.3 1.5h0m.1 1.8h0m.7-4.6h0m2.5 5.2h0m.1-2.5h0m1.1-1h0m.1 .9h0m1.5-.8h0m.2 1.1h0m0-1.2h0m.5 .1h0m.1-1.9h0m1.2 5.5h0m0-2.3h0m-392.5 6h0m18.2-2.2h0m1 1.9h0m5.6-2.9h0m1.9 3.4h0m9.1 2.1h0m.4 .2h0m5.7-5h0m1 3.8h0m.9 .4h0m3.4-2.2h0m0-1.9h0m1.1 2.4h0m2.8 1.9h0m1.5-1.3h0m.3-1.2h0m1.5 .5h0m1 2.5h0m.2-1.3h0m1.3-2.5h0m.7-1.7h0m.3 2.1h0m.2 3.2h0m.2-1.9h0m.1 1.2h0m3.2-4.5h0m1 3.9h0m.3-2.3h0m1.3 .5h0m.8 2.2h0m1.2-3.5h0m.2 .3h0m1.1 2h0m.5-2.9h0m1.2 4.1h0m2.2-1.4h0m.9 2.8h0m1.5-3.2h0m.1 1h0m.2 1.7h0m.7-.7h0m.1-2.6h0m.4 .7h0m0 2.5h0m.4-4.4h0m.3 1.1h0m1.2-1.1h0m.8 .6h0m1.1 1.5h0m.4 2.4h0m.3-.9h0m.1 .3h0m0 1.2h0m.4-.3h0m.4-2.9h0m.1 2.1h0m.9-3.8h0m1.4 .1h0m.6 3.5h0m1.2-4.5h0m.4 4.9h0m.6-1.5h0m.4-1.2h0m2.1-2.1h0m.2 2.8h0m.1-1.6h0m1.8 3.1h0m1.2-2.6h0m1.3 .9h0m.4 .8h0m.1 .6h0m.1-3.4h0m.4 .3h0m0-.1h0m.2 .3h0m.1 3.8h0m.2-4.5h0m.2 3.9h0m.1 .7h0m.2-1.2h0m0-3.9h0m.2 5.1h0m.2-4.9h0m.5 5.1h0m.1-.4h0m.5 .2h0m.3-.6h0m.2-4.4h0m.1 4.3h0m.2 .3h0m.6-2.5h0m0 1.1h0m.1-2.6h0m.2 3.1h0m.1-3h0m1.5 2.4h0m1.6-1.4h0m1.1 1.8h0m.6 1.7h0m.5-3.7h0m2.1 2.8h0m1.3-2h0m.6-2.2h0m.8 5.4h0m1.6-2.1h0m1.8-.9h0m.2 2.5h0m.4-2.2h0m1.5-2.7h0m1 4.6h0m.8-3h0m1.2 3.5h0m1-2.4h0m.7-2.5h0m1 3.6h0m.8-2h0m.8 2.1h0m.3-2.4h0m2.6 2.9h0m0-1.9h0m1.5-1.7h0m.4 3.2h0m2-3.1h0m1 2.8h0m2.2-1.7h0m.6 2.4h0m1.3-1.1h0m1.4 1.9h0m0-4.1h0m.9 2.9h0m1 .9h0m1.5-2.5h0m1.5 .1h0m.5-2.6h0m1.4 1.4h0m.3 3h0m2.3-2.4h0m.3 1.5h0m.9-1h0m.6 1.3h0m.6 .2h0m1.6-1.7h0m1 2.3h0m1.6-1.2h0m.2-2.9h0m1.9 1.5h0m1.8 2.7h0m.6-4h0m.6 2.9h0m1.6-3.3h0m.3 4.7h0m.9-3.1h0m.7-.8h0m1.2 2.1h0m.3 1.5h0m1.4-2.6h0m1.2 1.4h0m.7-2.8h0m.9 2h0m1.6 2.6h0m.1-4.5h0m1.1 3.2h0m.1-2.6h0m1 4.3h0m.3-5.5h0m1.7 1.1h0m.3 2.3h0m1.4 .9h0m1.5-3.2h0m.3-.8h0m.4 3.2h0m1.9-.8h0m.4-2.1h0m1.6 3.6h0m.4-2.5h0m1.6-1.5h0m.5 2.2h0m.4 2.3h0m.8 .1h0m.8-1.8h0m0-3.3h0m.5 4.1h0m1.2-3.4h0m1.6 4.2h0m1.2-2.6h0m.5-1.9h0m.2 5.4h0m.2-.9h0m.5 .9h0m1-4.5h0m1 1.4h0m.7 .6h0m1.2-2.2h0m1.1 1.3h0m.4 2h0m2-.8h0m.3-2.5h0m.3 4.6h0m.9-2.7h0m1.4 .8h0m.7-2.1h0m.9 2.3h0m.6-2.7h0m2 .4h0m0 2.5h0m2.1-2.3h0m.1 3.6h0m.3-5.2h0m1.7 2.9h0m1.6-2.9h0m.7 2.7h0m1.5-1h0m1.3-1.3h0m0 4.4h0m1-3.7h0m0 1.9h0m2.2 1.1h0m.6-2.3h0m.2-1.9h0m.4 5.3h0m.5-5h0m1.7 2.3h0m2.4 .5h0m.3-2.3h0m.6-.9h0m1.3 5.5h0m.5-3h0m2.7-1.4h0m0 2.1h0m.8 1.9h0m2.4-3.6h0m0 2h0m0-1.4h0m1.5 3.1h0m2.5-3.8h0m0 1.8h0m.2-1.3h0m2.7 2.8h0m.4-3.8h0m1.6 .8h0m1.2 2.5h0m.6-2.9h0m.8-.7h0m1.3 2.7h0m1.1-1.8h0m.8 2.1h0m.3 1.4h0m1.6 .1h0m.3-3.1h0m2.3 2.2h0m.4-2.6h0m.9 3.1h0m1.4-5h0m.3 4.2h0m.1-2h0m2 2.5h0m1.2-3.6h0m1.2-.8h0m.1 2.6h0m2.2 1.7h0m.5-2.7h0m1.3 1.3h0m.8 1.9h0m.7-3.9h0m.5 2.1h0m1.7-.3h0m.2 2.7h0m.4-4.3h0m1.8 2.5h0m1.2-3.7h0m1.5 4.1h0m.5-1.4h0m1.1-1.5h0m1.8 3.3h0m.5-2.2h0m.5-2.2h0m1.1 .5h0m.2 4.6h0m1.9-3.4h0m0-1.3h0m0 2.6h0m.9 .9h0m1.5-3.4h0m.6 2.4h0m.9 1.9h0m2-3.9h0m.2 1.7h0m2.1 2h0m.9-4.8h0m.8 2.3h0m.8 3h0m.4-3.9h0m1.6 1.6h0m1.2 0h0m1.1-2.6h0m.8 5.3h0m1.7-3.1h0m.4 .5h0m2.4-1.5h0m.5 1.9h0m.4 2h0m.7-.1h0m.4 .2h0m.9-5.5h0m.2 2.7h0m.1 2.7h0m.3-4.1h0m2.1 1.6h0m1.8-1.6h0m.6 2.8h0m1.7-2.3h0m.7 2.2h0m1.8-.4h0m1.1 1.4h0m1.2-4.5h0m.7 2.5h0m2.2-2.3h0m.9 3.6h0m1.1-1.7h0m1.1 .7h0m1.1 1.4h0m1.1-3.1h0m.5 .5h0m1.7 1.9h0m.2-2.8h0m2.3 0h0m.6 2.6h0m.4-3.8h0m.7 1.8h0m1.3 2.7h0m1.8-3.2h0m1.3 2.7h0m1.4-1.5h0m0 1.9h0m.3-3.8h0m1.8 .7h0m1.2-1.2h0m.1 3.9h0m1.5-1.8h0m1.2 2.8h0m.9-4.2h0m1.2 3.8h0m.2-2.2h0m2.3-1.6h0m.1 3.6h0m1.2-2.3h0m.9 2.5h0m1.8 1.1h0m.4-1.8h0m.1-2.5h0m2.2-1.5h0m.4 3.6h0m.3 2.2h0m1.9-4.2h0m1.6 2.5h0m.2-2.1h0m.8 2.3h0m1.7-1.3h0m.1-2.8h0m1.7 4.5h0m.1 .5h0m.2-3.8h0m1.4 .6h0m.5 3.9h0m.5-5h0m.1 1.2h0m1.5 .3h0m.4-1.5h0m.3 3.3h0m.3 .6h0m.7-3.6h0m1.7-1.1h0m.4 5h0m0-3h0m2 2.6h0m.7-4h0m.2 2.8h0m1.4-1.5h0m1-1.1h0m1.8 2.5h0m.6-3h0m.2 2.7h0m2.1 1.1h0m.4 1.2h0m.3-1.6h0m0-3.3h0m.5-.5h0m.7 5.4h0m.4-.9h0m.1-3.7h0m.8 2.2h0m.4 2.6h0m.2-4.6h0m2.5 .1h0m0 4.3h0m1.4-2.1h0m1.3-3.2h0m.7 2.9h0m1.4-.4h0m.4 .3h0m1.4 0h0m.3 2.9h0m.7-3.1h0m.4-2h0m.6-.7h0m0 2.8h0m-385.1 6.8h0m4.7 1.9h0m4.6 .3h0m5.7-4.1h0m8.9 2.7h0m2.5-2h0m.9-.9h0m4.4 .9h0m.3-1.9h0m1.1 1.8h0m.4 3.4h0m.1-2.7h0m.1-.9h0m.4 .5h0m2 1.3h0m.9 .1h0m.3 1h0m0-1.5h0m1.3-2.4h0m0 .8h0m2.8 1.8h0m.4 .8h0m.4-3.2h0m.4 1.1h0m1.8 3.2h0m1.1-.3h0m1.7-2.1h0m3.5-3.2h0m.1 .9h0m1.6 1.8h0m.1 .2h0m1 .9h0m.1-.6h0m.2-.4h0m.9-1.8h0m.6 1.9h0m1.2 2h0m1.6 .1h0m.6-3.3h0m.3-1.3h0m.3 4.3h0m.8-3.8h0m.7 .3h0m.8 3.1h0m.1-1.7h0m.7-.2h0m1.9-2.2h0m.8 5.2h0m.4-1h0m.5-1.9h0m1.2 .2h0m1.7 3.1h0m.5-1.1h0m.7-2.2h0m1.7-1.5h0m0-.1h0m.1 4.3h0m.1-4.8h0m.7-.2h0m.4 1.9h0m.1-1.9h0m0 4.2h0m.3-4h0m1.9 3.8h0m.4-3h0m2.8 1.5h0m.1 1.3h0m2.4-3h0m.5 4.5h0m.9-2.2h0m.4-2.6h0m1.7 1.7h0m.1 2.8h0m1-3.4h0m2 .3h0m.1 3h0m2.4-3.3h0m.5 .9h0m.4 .9h0m1-.8h0m1.2-2.6h0m.6 4.7h0m1.5-2.1h0m1.7 1.3h0m.8-2.6h0m1 3.5h0m.2-2.7h0m0-1.1h0m3.1 1.4h0m.1 2.8h0m2.3-3.2h0m1 2.6h0m.9-3h0m1 3.1h0m.4-3.5h0m1.9 1.4h0m.1 1.1h0m2.1 0h0m.1-2.9h0m1.8 2.9h0m.3 1.6h0m.8-4.7h0m.7 3.6h0m.5-4h0m1.6 2h0m.1 3.3h0m.6-3.8h0m1.3 3.2h0m.8-2.3h0m.6 1.1h0m.5 1.2h0m.1-4.9h0m2 2h0m.1-.8h0m1.6 3.1h0m1.1-3.4h0m1.6 2.1h0m1.8-1.2h0m1.8 2.8h0m.7-4.3h0m.1 1.5h0m1.6-1.3h0m1 3.3h0m1-3.9h0m.7 2.5h0m.4 3.3h0m1.7-1.4h0m.5-3.2h0m1.6 4.1h0m.2-3.4h0m2.5-.9h0m.5 3.7h0m0-2.1h0m.5-1.9h0m1.4 2.7h0m1.1-1.7h0m1.3 1h0m.7 2.1h0m.8-4.1h0m0 5h0m.8-4.9h0m.7 2.9h0m.2 .4h0m.8-2.1h0m2.5-1.9h0m.4 3.6h0m1.3-.1h0m.5-3.3h0m.3 4.5h0m.8-1.3h0m2.3-1.7h0m.9 2.5h0m1.8-2.2h0m.9 2.4h0m1.3-3.8h0m1.2 2.1h0m1.9 2.4h0m.6-.2h0m.3-4.2h0m.7 1.7h0m1.8-1.2h0m.5 2.3h0m1.2 1.8h0m.8-.8h0m.4-2.3h0m3.1-1.5h0m.2 4.5h0m.2-2.7h0m.7-.4h0m1.7 3.6h0m.7-2.2h0m.8 1.4h0m2-3.5h0m.2 2.1h0m.6-3.6h0m1.5 2.2h0m.5 1.8h0m.8-2.9h0m.5 2.7h0m1.9-1.6h0m.7 2.5h0m1.6-1.5h0m.4 2.4h0m.5-4.7h0m1.5-.4h0m.2 2.2h0m0 2.1h0m1.4 0h0m1.6-3.4h0m.1 4h0m.1-.6h0m.1 .7h0m.7-.3h0m1.3 0h0m.7-1.9h0m.2-2.7h0m.6 4.5h0m1.4-.6h0m.6-4.2h0m.3 1.2h0m1.3 3.8h0m.8-2.7h0m.6-1.3h0m.2 1.9h0m1.6 1.7h0m.4-3h0m1 2h0m1-2.1h0m1.4 1.7h0m1-3.6h0m.4 2.9h0m2-.6h0m.2 1.2h0m.6 1.9h0m.3-2.1h0m.5-3h0m1.6 4.6h0m.1-4.8h0m.6 1.2h0m1.7 2.7h0m1.3-3.2h0m1.3 4.7h0m.4-3h0m2.3 .5h0m.6-2.1h0m1.4 2.9h0m.1-2.6h0m1.2 4.1h0m1-4.3h0m.7-.6h0m.2 4.2h0m.4 .5h0m1-.8h0m.5-1.8h0m1-1.2h0m1-1.2h0m.6 3.7h0m.9-1.6h0m2.1-1h0m.4 3.4h0m2.1-3.3h0m.8 2.1h0m1.6-1.9h0m.9 3.5h0m.4-1.3h0m.8 1.9h0m1-5h0m.4 2.2h0m1.8 .7h0m0-3.3h0m1.9 4.5h0m.9-3h0m1.5 2.5h0m.4 1.4h0m.9-4.6h0m.6 2.5h0m1.2-2h0m1 3.9h0m0-.9h0m2-1.9h0m.3-2.5h0m.4 4.4h0m1.5-3.6h0m1.3 3h0m1.5-2.6h0m.5 3h0m0 1.5h0m1.1-5.2h0m1 2.1h0m.9 2.6h0m.6-4.2h0m.9 1.9h0m.5 2.4h0m.8-4h0m.8 4.3h0m.8-1.4h0m.8-3.3h0m1.4 3.7h0m.6-1.2h0m.5-2.7h0m.6 3.4h0m1.8-3.7h0m0 1.8h0m.9 2.4h0m2.2-2h0m.7 2h0m.9-4.6h0m1.7 3.5h0m.4-3.2h0m1.9 2.3h0m.5 1.1h0m.1-2.9h0m2-.7h0m.1 3.2h0m.3 .4h0m.2-.8h0m.4-1.5h0m.2-.9h0m.1 3.2h0m.9 1.5h0m1.5-1.3h0m.2 1.2h0m.3-.6h0m.2 0h0m.5-3h0m.2 2.3h0m.2-3.9h0m1.6 4.3h0m1.3-4.1h0m.4 2.5h0m.6 2.4h0m.4-4.1h0m0 1.7h0m2.5 1.5h0m1-2.6h0m2.3 1.9h0m.1-3.1h0m1.2 2.1h0m.3 1.4h0m0-3.9h0m2.2 .3h0m.4 3.4h0m.1-2.3h0m2.9 1.8h0m.4-2.8h0m.7 .5h0m.1 2.6h0m2.8-3.2h0m.5 1.7h0m.2 1.5h0m.6-2.5h0m1.7 2h0m.1 1.4h0m.6-4.3h0m2.4 3.4h0m.4 1.7h0m.2-4.4h0m1.8 1h0m.1 2.5h0m1.4-3.7h0m.5 1.4h0m1-2h0m.4 4.8h0m2-3.2h0m.9 1.2h0m.6 2.6h0m.3-3.2h0m.2 1.2h0m.6-.6h0m1.9-1.7h0m.7 2h0m.1-2.3h0m.9 3.2h0m1.2-1.6h0m.9-2h0m1.1 4.6h0m.3-.1h0m1-2.1h0m.4 3h0m.6 0h0m2.1-3.7h0m.1 2.1h0m1-3.5h0m1.5 2.9h0m.2 2h0m.6-3.7h0m1.2 2.7h0m1.4-4h0m.8-.5h0m.5 4.5h0m.4-3.8h0m.1 1.9h0m.8-.1h0m1.1-2.3h0m.2 4.1h0m.1 .9h0m1.5-3.4h0m.3 2.8h0m1.5-3.9h0m.2 4.5h0m.2 .1h0m.7-2.6h0m1.1 2.7h0m.8-3.8h0m.6 1.2h0m1.6-1.1h0m.3 .5h0m1.7 2.7h0m.7-5.1h0m1.3 2h0m2.4 .2h0m.3 0h0m.4-.7h0m2 3.4h0m.9-3.9h0m.9 2.5h0m1.4-.4h0m.4-2.2h0m.1 1.5h0m.1-1.1h0m4-1.1h0m1.4 1.9h0m.3 2.2h0m1.5 1.2h0m.2-4.9h0m.8 .7h0m.1-.7h0m-390.2 10.4h0m11.4-3h0m1 2.5h0m.1-3.7h0m1.7 3.3h0m1.2-3.6h0m.6 2.4h0m5.9 1h0m3.1 .7h0m2.8 1.3h0m.1-3.1h0m7.2 0h0m.2 2.8h0m.4-2h0m5.4 .7h0m.1-1h0m.3 2.6h0m3.1-1.3h0m1.5-2.1h0m.1 1.8h0m.2-1.2h0m.9-1.3h0m.1-1.1h0m.8 4.1h0m.3-3.8h0m1.2 3.6h0m1.1-3.5h0m1.3-.1h0m.1 2.1h0m.2 2.5h0m2.6-1.6h0m.3-2.7h0m1 .6h0m.3 2.9h0m.4-4.4h0m2.2 1.9h0m.4 1.6h0m.1 .3h0m.1-1.6h0m.1-.1h0m0 3h0m.1-1.5h0m0-.3h0m.1 1.2h0m1.2-4.9h0m1 .7h0m0 2h0m1.4-.8h0m.5 2.9h0m.1-1.4h0m1.4 .9h0m1.1-.7h0m.5-1.9h0m2.2-.9h0m0 1.9h0m.9 2.7h0m.8-4.3h0m.3 4.5h0m.1-2.1h0m2-2.9h0m0 2.7h0m2.4 1.7h0m.2-2.2h0m1 1.7h0m1.5-3.4h0m1.1 2.6h0m2.5-2.1h0m.5-1.1h0m.1 3.3h0m.2 1.9h0m1.6-2.8h0m.8-1.6h0m1.2 1.6h0m.6 3h0m1-4.9h0m1.3 2h0m2.3-1.9h0m.2 2.8h0m1.1-1.8h0m1.3-1.7h0m.4 3.2h0m2 2.2h0m.1-4.9h0m.7 2.6h0m1.4 1.7h0m.3-4.9h0m.7 1.3h0m.8 1.4h0m.1 2.2h0m1.6-3.4h0m1.4 2.5h0m1-2.9h0m.8 4h0m1.7-2.7h0m.7 1.7h0m1.3-2.5h0m1.5-.7h0m.7 2.7h0m2.1-.3h0m.4-3.1h0m.1 3.9h0m1.1 0h0m.3-3.5h0m.2 5h0m2.3-2.4h0m.1-1.9h0m.3 3.6h0m.7-1.4h0m1.4-3h0m1.7 2.9h0m.3-1.2h0m1.3 3h0m0-3.1h0m2-2h0m1 5.1h0m.4-2h0m1.2 1.8h0m.5-4.4h0m1.6 2.9h0m.4 1h0m.7-1.8h0m1.1-2.5h0m.6 5h0m1.6-1.1h0m.1-3.9h0m.6 2.4h0m1.8-1.3h0m.7 3.2h0m1.7-4.5h0m.5 1.6h0m1 1.7h0m.3-.9h0m.2 2.7h0m2.2-1.8h0m.2-2h0m1.7 2.8h0m1.5-2.5h0m1.2 2.9h0m.4-4.4h0m2.1 3.3h0m1.2-2.6h0m.4 1.9h0m.6-2.7h0m1.6 4h0m1-1.7h0m1.7 2.3h0m1-4.2h0m.6 2.1h0m.6-2.4h0m1 3.7h0m1.1 1.9h0m0-4.3h0m1.8 2h0m1.7-2.2h0m.8-.5h0m.9 3.7h0m1.8 .7h0m.3-4h0m1 1.4h0m.7 .1h0m1.1 2.9h0m.4-4.8h0m1.7 4.6h0m.2-3h0m2.3 1.5h0m.5-3.7h0m2 1.9h0m.5 3.1h0m1.7-4.2h0m.8 3h0m.7-3.4h0m0 1.5h0m1.6 1.1h0m1.6-.2h0m.4-1.1h0m.4 .6h0m.9 1.3h0m1 1.3h0m1.9-3.3h0m.6-2h0m.2 5.7h0m1.5-2.5h0m1.4-2.6h0m1.3 1.4h0m0 2.4h0m2 .4h0m1.5-2.1h0m1.4 2h0m.3-2.7h0m0 3.9h0m1.7-3.3h0m.6-2h0m.4 1.1h0m.1-.9h0m.2-.6h0m.2 2h0m.2-.1h0m.1-.3h0m0 3.4h0m1.3-1.5h0m.6 0h0m.7 2.1h0m1.1-3.6h0m.3-1.7h0m.3 1.6h0m.1 .9h0m0 .6h0m.3-1.5h0m.6-.3h0m.4 2.4h0m1.4 .6h0m.3-3.3h0m1 1.5h0m1.9 2.8h0m.9-2.7h0m0-2.3h0m1.3 2.4h0m2.3-2.2h0m.3 3.2h0m.1-4.1h0m.6 4h0m.3 1.2h0m1.5 .3h0m.2-3h0m1.5-1h0m.5 2.7h0m2.6 .1h0m.3-3.1h0m1.3 2.6h0m1.2-1.1h0m1.8 1.9h0m.6-2.3h0m1.2 2h0m.4-4.2h0m.6 2h0m2.3 2h0m.8-1.5h0m1.7 2.9h0m1-2.7h0m.3-1.5h0m.5 .1h0m0-1.2h0m.3 4.6h0m.7-1.2h0m1.8 1h0m.2-1.9h0m.3-2h0m.7 4.2h0m.6-4.3h0m1 1.5h0m.2 2.9h0m1.3-4.5h0m1.6 2.1h0m.2-.9h0m.3 3.1h0m1.5-1.6h0m.8 2.6h0m.6-.8h0m.5-3.2h0m1.4 .8h0m1 2.6h0m.1-4.7h0m.3 3.2h0m2.4-.1h0m.2-3.5h0m.1 2h0m.2 2.8h0m2.3 .7h0m0-1h0m.5-2.9h0m1.4 2.7h0m1.1-2.4h0m.9-.6h0m.7 3.8h0m.7-2.6h0m1.5-2.3h0m.6 3.9h0m1.4-2.4h0m1.2 4h0m1.2-3h0m1.3 .5h0m.6-1.7h0m2.8 2.6h0m0-1.5h0m1.8-.3h0m1.1 3h0m.8-4.3h0m1 2.4h0m1.3-2.4h0m.3 4.4h0m1.4-5.3h0m.6 3.1h0m1.2 1.7h0m1.3-4.7h0m0 1.9h0m1.7 2.5h0m0-1.8h0m.1-2.7h0m2.2 2h0m.5-2h0m1.1 3h0m0 1.3h0m1.6-4.2h0m.2 5.3h0m1.1-2.4h0m1 2.2h0m0-3.9h0m.3 1.8h0m1.8-2.6h0m1.5 4.9h0m0-2.9h0m1.9-2h0m.2 2.4h0m2.4 1.9h0m.4-2.2h0m.2-2.3h0m2.4 3.4h0m.2-2.7h0m1.4 .9h0m1.1 1.5h0m0-3.3h0m1.4 5.2h0m.9-4.7h0m.6 2.3h0m.2 1.4h0m2-4.3h0m1 3h0m1.6-3.1h0m.6 3h0m1.2 2.8h0m.3-6h0m.1 4.1h0m1.4-4h0m0 .8h0m.8 2.5h0m.4 1.1h0m2.1-4.2h0m0 2h0m.6 3.3h0m.9-2.7h0m1.6 2.5h0m.9-4.9h0m.5 2.9h0m.5 1.1h0m.6 .4h0m.8-3.8h0m1 2.1h0m1.4 2.3h0m.3-5.2h0m.8 2.2h0m1 1.9h0m2.1-3.7h0m.3 .4h0m.2 .9h0m.4 2.3h0m.2-2.9h0m1.2-1.3h0m.2 1h0m.7 2.3h0m1.2 1.4h0m.9-3.2h0m.5 3.9h0m.1-4.9h0m0 4.6h0m.5-3.8h0m.7 3.4h0m2.9-1.2h0m0-.1h0m.2 .7h0m.8-2.7h0m2.5 2.5h0m.8-.7h0m.4-3.1h0m2.2 3.7h0m.3-3.7h0m.6 .9h0m2.8-.3h0m.3 4.9h0m.4-2.1h0m1.9 1h0m1.8-3.6h0m1.1 .8h0m1.3-1.5h0m2 3.9h0m5.1-3.1h0m.8 .9h0m3 0h0m2.7-.9h0m1-.4h0m5.5 1.7h0m.4-.5h0m-388.3 5.3h0m2.1 2.7h0m6.5 2h0m.9-4h0m3.6-.1h0m6.1 3.4h0m10.7-3h0m.1 .1h0m1.9 2.2h0m1.3-3.2h0m2 3.2h0m.8 .4h0m.9-.2h0m1.5-3.1h0m.4 4h0m0-3.7h0m.5-.6h0m.5 .8h0m.6 .3h0m.6-1.8h0m0 2.4h0m4.3 1.8h0m.5 .5h0m.3-2.4h0m.5-.5h0m1.2 1h0m0-3.4h0m.1 4.1h0m.2-1.5h0m.2-.6h0m.1 .6h0m0-.7h0m.6 3.7h0m.5 .1h0m.1-4h0m2.2 3.5h0m0-4.3h0m.8 4.5h0m.5-1.1h0m.5-1.2h0m1.8-2.6h0m.8 5.1h0m.2-2.3h0m1.8 2.5h0m.1-5.5h0m1 2.5h0m.7 1.2h0m1.1-3.1h0m1.8-.5h0m.4 1.6h0m.3 3.7h0m.5-4.8h0m.7 1.5h0m1 3.3h0m.2-3.6h0m1-.6h0m1.6 2.8h0m.7-4.1h0m.6 2.7h0m1.3 1.2h0m.7-1.5h0m0 2h0m1.4-2.4h0m1 2.7h0m1.5-4.8h0m.9 3.2h0m.3 2.3h0m.2-5.1h0m2 3.4h0m.5-2.6h0m.5-.8h0m.4 5.5h0m1.7-2.1h0m.7-3.5h0m1.2 2.6h0m.4 1.7h0m1-1h0m.1-1.8h0m.9-1.9h0m1.4 1.5h0m.3 2.3h0m.7 1.1h0m.6-1.6h0m.4-3h0m2.3 0h0m.6 2.6h0m.5 .2h0m1-.2h0m1.2-2.7h0m1.9 2h0m0 2.7h0m1 0h0m1.1-2.6h0m.9 2.2h0m2-1.7h0m.4 2.5h0m1.7-4.6h0m.7 2.8h0m1 2.4h0m.7-2.8h0m.5-1.3h0m1.6-.3h0m.5 .7h0m.5 2.2h0m1.6-3.3h0m.3 4.4h0m1.5-4.3h0m0 3.1h0m1.6-2.9h0m.4 4.2h0m1.2-2.8h0m1.8-.9h0m.6 2.6h0m.1 .4h0m2.1-1h0m.1-1.4h0m1.6-2.2h0m1 4.6h0m.6-1.4h0m.8-2h0m1.7 3.3h0m1.6-2.5h0m.4 2.4h0m1.4-1.8h0m.8 1.7h0m.8-3.2h0m.6 1.5h0m.6 1.8h0m2-.1h0m.3-2.9h0m1.3 2.9h0m.5-2.9h0m1.9 2.4h0m1.8-3h0m.9 3.6h0m1.3-2.5h0m2.2-1.4h0m.3 3.4h0m1.2-.6h0m1.2-2h0m.7 3h0m.1 .8h0m.8-4.8h0m2.1 2.4h0m.6 2.5h0m.8-5.4h0m.9 3.9h0m1.1-2.3h0m1.5 1.3h0m1.5-1.6h0m1.1 1.7h0m1.9-1.2h0m.5 1.7h0m2.5-1.5h0m.2 3.4h0m.8-5.1h0m.4 4.2h0m.2 1.3h0m1.3-3.9h0m.8 2.7h0m.4-4h0m2.4 1.6h0m0 2.5h0m.1-.5h0m1.8-2.5h0m1.2 1.4h0m1.5-1.8h0m.5 2.4h0m2.2 .5h0m.7-2.5h0m.1-1.5h0m.7 4.6h0m.5-1.3h0m1.2-3.2h0m.9 .9h0m1 2.9h0m.2-3.4h0m.9 1.4h0m.4 3.2h0m1.5-4.7h0m.8 3.1h0m.4-3h0m.6 4.6h0m0-3h0m2.1 2.2h0m.1-1.7h0m2.6 .7h0m.2-1.9h0m1.7 1.8h0m1.4-3h0m1.3 2h0m.2 2.4h0m.5-4h0m1.7 .7h0m.9 2.4h0m.2 1.9h0m.3-5.7h0m.8 3h0m1.9-.2h0m.2 1.3h0m1-.2h0m.1-1.9h0m.1 3.8h0m.1-4.9h0m3 4h0m0-2.9h0m1.9-.6h0m.1 1.8h0m1.8-2.6h0m.1 2h0m1.2 2.7h0m1.2-3.6h0m1.7 1.9h0m.3 1.7h0m.7-2.8h0m.6 1.5h0m1.1-3.3h0m1 4h0m.3-1.1h0m.9 1.2h0m.6-1.9h0m1.6 .4h0m1.1 2.1h0m.5-4.3h0m1.2 1.3h0m1.2 2.6h0m0-4h0m2.2 2.9h0m.4-3.6h0m.8 2.4h0m2-1h0m.3 3.7h0m1.1-1h0m.1-1.7h0m1.6-2.6h0m1.4 2.4h0m0 1.7h0m1.3 0h0m.9-2.8h0m1.5 1.3h0m.2 1.8h0m.6-3.2h0m2.3 .5h0m1 2.8h0m1.7-2.1h0m.8 2.2h0m0-2.1h0m2.7 .5h0m.3-2.1h0m1.2 3.7h0m.7 1.1h0m.6-3.8h0m2.1 1.6h0m.2-2.3h0m.1 4.4h0m1.8-1.9h0m.6-2.3h0m.9 2.6h0m.6-2.2h0m.7 .5h0m2.3 .1h0m.9 1.8h0m2-2.9h0m.8 3h0m1.9-3.2h0m.7 2.3h0m1.2-3.1h0m1 5.4h0m.4-3.8h0m1.7 2.2h0m.8-2.6h0m1.7 3.8h0m.2-5.2h0m.5 2.4h0m2.3-.6h0m.2 1.6h0m.5-.1h0m.1-2.2h0m2.4 4.5h0m.9-3.6h0m.6-.3h0m.1 1.9h0m2.4-1.8h0m.9 2.4h0m.3-3.6h0m1.6 2.5h0m.9 2.4h0m.1-5.7h0m2.1 3.9h0m.1-1.5h0m1.2-1.6h0m.5 3.1h0m1.6 .2h0m1-1.6h0m1.1 3.2h0m.7-.1h0m.6-3.2h0m.7 .8h0m1.3-2.5h0m1.2 2.5h0m.9-1.3h0m.2 3.3h0m2.5-5.2h0m.2 4.1h0m.2-1.1h0m1.7 .9h0m.6-2.9h0m.2 4.5h0m.7-3.7h0m1.1 2.2h0m1.3-.9h0m.1-2.3h0m.3 3.4h0m.8-.7h0m.4-1.1h0m2.5 1.6h0m.1 1.7h0m.3-5.3h0m.6 2.1h0m1.4 1.4h0m.6-4h0m0 3.1h0m1.8-1.1h0m.5 .8h0m.1-2.3h0m.5 2.8h0m1.3-1.8h0m0-.2h0m2.5 2.2h0m.5-.4h0m.2 2.5h0m1.2-5.3h0m.2 .7h0m.3 .6h0m.3 0h0m.3-1.1h0m.9 5h0m0-2.4h0m.9-.5h0m.4-.2h0m1.2 2.8h0m0-1.6h0m2.9-3.5h0m.1 .5h0m.8 1.2h0m.1 2.4h0m2.8-3.5h0m.1 2.7h0m.1-2.4h0m.2 2h0m.1-.8h0m1.8 3.4h0m.1-1.3h0m1.2-1.4h0m.5-2.9h0m.7 .6h0m.7 .9h0m.2 .7h0m1.3-1.4h0m.1-.3h0m.3-.5h0m4 2.2h0m1.8-1.8h0m2 3.1h0m3.9-2.9h0m1.5 1.4h0m3.2-.5h0m-386.5 7h0m12.2 .6h0m5.8 2h0m1.3-1h0m1.6-2.3h0m3 3.2h0m.2-1.8h0m5.1 1.3h0m11.7 1.4h0m1.7-5.2h0m2.3 5.1h0m.6-.3h0m.1-2.8h0m1.8 2.4h0m1.2-.3h0m1.7-.4h0m.5-4.1h0m1.8 2.5h0m.4 1.2h0m2.6 1.6h0m.3-1h0m.9-2.9h0m.3 2.6h0m2.7-.7h0m.1-3.6h0m.1 3.9h0m.9 .3h0m.3-1.4h0m1.2-1.3h0m1.4-.6h0m.2 0h0m.2-.1h0m.7 2.6h0m.7-2.9h0m.7 2.6h0m.2-2.4h0m0 2.5h0m.1-1.9h0m.6 2.9h0m0-.4h0m.4 .7h0m1.8-2.5h0m.5 1.9h0m.7-3.1h0m1.9 3.5h0m.9-2.8h0m1.7 .9h0m.2-2.4h0m.6 3.1h0m1.5-3h0m.2 3.7h0m.1-1.7h0m.2-2.1h0m1.1 3.9h0m2.4-2.1h0m.5 3.8h0m1.5-1.3h0m.6 .7h0m.2-3.6h0m2.1-.4h0m0 2.9h0m.8 1.5h0m1.4-5.1h0m.3 2.6h0m1.1-2.7h0m.1 2.9h0m2 .1h0m.1 2.3h0m.8-5.2h0m1.4 3.7h0m1.1-2.6h0m.9 1.5h0m.6 2.4h0m.4-3.6h0m1.7 1.4h0m.6 2.5h0m1-4.2h0m1.4 3.2h0m.3-1.7h0m1.6-1.7h0m.2 1.9h0m1 2.8h0m1.1-.1h0m.3-3.2h0m.9-1.5h0m1.3 3.5h0m.3-2.6h0m.9 1.9h0m1.6-3.9h0m.2 3.3h0m1.8-.4h0m1.6 .1h0m.7-2.9h0m.8 2.4h0m.1 1.8h0m2.2-3.9h0m.1 4.6h0m.7-1.4h0m.3-3.6h0m1.1 .9h0m1 2.5h0m.4 2h0m1.4-3.3h0m.9 2.7h0m.5-4.6h0m.4 2h0m2.3 1.4h0m.4-1.2h0m.1 1.9h0m1.4-3.3h0m.5 3.5h0m2 .6h0m.2-2.6h0m1.4-2.5h0m.4 2.3h0m.7 1.9h0m2 1.4h0m.2-3.8h0m.9 2.4h0m1.8-.1h0m.3-2.1h0m1.9-1.5h0m.4 4.4h0m.1-3.6h0m1 3.6h0m.7-3.9h0m1.3 1.3h0m1.2-.8h0m.3 2.7h0m1.6 .3h0m.6-4.5h0m.9 2.7h0m.4-2.3h0m.3 4.2h0m2.1-1.8h0m1.3 1.5h0m.1-3.4h0m1.9 1.6h0m.3-1.3h0m.1 3.1h0m2-.3h0m1.1-.9h0m.2-2.5h0m2.1 2.9h0m.8-2.8h0m2.4 2.3h0m.5-2.3h0m1.1-.4h0m.9 2.9h0m0 2.5h0m1.9-5.6h0m.7 3.2h0m1.5-2.6h0m.5 5.1h0m.6-3.6h0m.9 .9h0m1.3-1.9h0m1 3.4h0m1.2-.1h0m.2-2.2h0m1.4-1.9h0m1.4 3.6h0m1.1-2h0m.4-2h0m.2 5.7h0m.2-2.8h0m2.6-2.4h0m0 4.1h0m.2-2.5h0m1.8-.9h0m.2 3.1h0m.7-3.5h0m1.5 4.7h0m.3-3.4h0m1.8 1h0m1-.6h0m1.4-1.3h0m1 1.5h0m1.7 1.2h0m.5-3.7h0m1.5 1.2h0m.4-1h0m.7 4h0m0 1.1h0m.4-3.6h0m1.4-1.4h0m.1 2.6h0m.2 2.2h0m1.7-3.2h0m1.3 3.7h0m.4-5h0m.1 3.6h0m1.3-3.1h0m.1 3.3h0m1 .5h0m1-2.9h0m2.5 1.4h0m.4-2.1h0m2.1 3.4h0m.1-3.8h0m1.4 .8h0m1.4 2.2h0m.7 1.4h0m.3-5.2h0m.7 1.7h0m1.1 2.1h0m.1-3.2h0m1.9 4h0m.8-3.1h0m.8 3.6h0m.5-5.4h0m.5 3.4h0m2.3 .6h0m.4-1.2h0m.4-1.9h0m1 3.6h0m1.6-3.1h0m.5 3.4h0m2.3-3.1h0m.7 2.3h0m2.2-3.3h0m.5 1.7h0m0 1.5h0m1.1 1.5h0m.7-1.6h0m1.1-2.6h0m.3 4.6h0m.6-3.8h0m2.1 2.6h0m1.1-3.5h0m1.2 2.4h0m1-1.3h0m.5 3.3h0m2.3-3.7h0m.3 2.4h0m2.1-3.1h0m.8 2.6h0m1.9-2.4h0m.7 2.4h0m1.4 .5h0m.4-3.5h0m.1 2.9h0m1.1 1.3h0m.8-3.2h0m1.2 2.9h0m1.1-4.1h0m.1 2.7h0m1.6 .4h0m.8 1.9h0m.8-4.6h0m1.7 1.2h0m.6 2.7h0m0-2.9h0m1.4-.2h0m.8-1.7h0m.7 5.8h0m.5-1.9h0m.9-2.8h0m1.8 1.3h0m.6 1.3h0m1.5-1.9h0m.2 3.3h0m1.4-4.7h0m1 3.1h0m1.2-.4h0m.4 2.1h0m1.6-3.9h0m1.1-.7h0m.1 3.8h0m.5-2.5h0m.5 1.3h0m.8 1.9h0m1.6-3.5h0m1.1 1.8h0m1-3.5h0m.1 4.7h0m.3-1h0m1.6-1h0m0-.9h0m.2 0h0m2 .7h0m.8-1.8h0m.6 3.2h0m.1 1h0m1.1-4.3h0m.9 2.4h0m2.6 .9h0m1-2.2h0m.6 1.6h0m1.4 0h0m.5-2.5h0m.5 4.1h0m1.9-2.1h0m.3-2.7h0m.8 4.8h0m.4 .8h0m1.4 .2h0m.2-3.6h0m1.4 3.6h0m.3-3.6h0m1-.6h0m1.3-1.2h0m0 4h0m.6 .3h0m.5-1.3h0m1.2 0h0m.1 .4h0m.7-2.8h0m1.4 2.5h0m.7-1.7h0m1.4-1.7h0m.6 3.9h0m2-3h0m1.2 1.4h0m.1 2.5h0m0-1.2h0m.1 1.1h0m.5-2.8h0m1.3 3.7h0m1.9-5.6h0m1.9 3.7h0m0 1.1h0m0-1.1h0m.2-2.7h0m1.5 3.7h0m.9-3.9h0m.3 .1h0m0 .5h0m.4 2.4h0m.8-1.6h0m0 1.5h0m.3-1.1h0m.1-.6h0m.9-.6h0m.4 .4h0m.1 .2h0m.1 .2h0m.7 .4h0m.3-.3h0m1.3 0h0m.3 2.8h0m2.2-4.5h0m.2 4h0m.1 .2h0m.9-2.4h0m.2 1h0m1.6 .7h0m1-3.4h0m1.2-.6h0m0 4.2h0m.1 1.3h0m.3-1.1h0m1.2 .5h0m.7-1.4h0m.1-1.2h0m.6-2.1h0m.2-.3h0m.1 3.1h0m1.4-2.4h0m.2 2.9h0m.8-3.1h0m.5 1.6h0m.5 2.3h0m1.9-3.8h0m.1 2.4h0m.7-.8h0m1.3 3.2h0m.3-3.9h0m1.5 4.1h0m0-5.3h0m.5 2.6h0m.5 2.4h0m.4-5.4h0m.3 .5h0m.3 0h0m.3 2.7h0m0-1.4h0m.1 1.3h0m2.8-.4h0m1.5-1.4h0m3.1-.3h0m.2 .7h0m1.7 2.6h0m9.1-3.9h0m27.3 2.5h0m-388.2 5.2h0m7.7 3.1h0m1.2-3.7h0m1.3-.1h0m7.2 2.4h0m1.9-2.6h0m.2-.8h0m2 1.3h0m1.8-.1h0m1.6-.8h0m1.4 .8h0m1.1-1.1h0m.1 3.8h0m2.2-3.5h0m1.5 .5h0m5.1 2.3h0m0-2.1h0m.1 2.6h0m1.2-1.1h0m.3-2.6h0m.3 1.2h0m2.5 1.8h0m.1 .1h0m.1 .9h0m1.2-1.5h0m.5-.7h0m.8 2.6h0m0-1.5h0m.5-2.7h0m.7 2h0m.9-2.7h0m.2 5.4h0m1.3-1.9h0m.7-2.9h0m1.7 1.3h0m.2 3h0m.3-3.3h0m.4 1.5h0m2.4-2.3h0m.2-.2h0m.9 5.4h0m.4-1.9h0m.4-3.8h0m.6 1.5h0m.4 .2h0m0 .2h0m.5-1.8h0m.7 5.6h0m.9-4.9h0m.7 1.4h0m.4 2.5h0m0-.2h0m.2-2.2h0m.6 .6h0m.1 .7h0m1.1-3.7h0m.3 5.8h0m.7-4.9h0m.9 3.9h0m.8-3.7h0m.2 3.1h0m1.3 .8h0m.3-4.4h0m.5 .4h0m1.3 3.1h0m.4-2.9h0m.2 4.2h0m1.1-3.6h0m.6 3.4h0m.6-4.2h0m1.4 2.7h0m1.3-1h0m.5 2.2h0m1.9-1.1h0m.1-3.8h0m.3 1.9h0m1.4 2.2h0m1.1-2.6h0m1.2 3.3h0m.6-3.7h0m1.5 4.7h0m.8-2.6h0m1.1 1h0m.1-3.1h0m2.4 1.2h0m0 1.2h0m1.7 1.7h0m.2-4.3h0m1.3 1.9h0m2.5-2h0m.5 3.6h0m1-1.3h0m1.4-2.1h0m.8 3.2h0m1.8-3.1h0m.2-.1h0m.2 4.1h0m.6-2.2h0m.4-2.4h0m.4 3.5h0m1-2.5h0m.4-1.5h0m1.5 .9h0m.4 3.4h0m.7-3.5h0m.7 3.5h0m.4-1.8h0m2 1.1h0m.1-2.2h0m.7 1h0m1.1 1.7h0m1.4-3.1h0m1.6 1.8h0m.8 2.1h0m1-4.1h0m1.4 3.8h0m1.3-2.6h0m.8-1.4h0m.4 4.2h0m2-.5h0m0-1.1h0m.7-1.8h0m1.8 4h0m.8-2.5h0m.1-2.4h0m1.6 3.1h0m1.2-2.2h0m.9-1.1h0m.6 4.6h0m1.2-3h0m1.5 3.7h0m1.3-3.3h0m.7 2.6h0m0-3.5h0m2.5 2.7h0m.8-2.9h0m.5 1.1h0m1.1 3.2h0m1.1-4.2h0m.3 .8h0m1.1 1.5h0m1.4 2h0m.1-5.2h0m.6 1.5h0m1.8 2.8h0m.9-2.1h0m.5-2.3h0m.2 4.5h0m1.2-1.5h0m1.1 1.8h0m.4-4.6h0m.1 1.8h0m1.9-.7h0m.2 2.8h0m.8-4.6h0m.4 4.2h0m.3-1h0m1.8-2.3h0m0 2h0m1.8 2.8h0m1-3.3h0m1.2 1.8h0m.7-1.7h0m.4-1.9h0m.4 3.9h0m2-.4h0m.5-3.3h0m.7 2.6h0m.9-3.3h0m1.2 3h0m.3 2.4h0m1.2-2.5h0m.9-2.2h0m.3 3.8h0m1.6-2.2h0m.2 3.3h0m1.1-3.3h0m1.4 3.3h0m1-2.1h0m.2-3.5h0m.4 0h0m.5 3.2h0m2.4-1.7h0m.6 2.6h0m2.4-2.6h0m.6 3h0m1-.1h0m.1-1h0m.5-3.5h0m2.3 4.8h0m.5-2.2h0m.9-2.3h0m1.3 3.4h0m.5-1.4h0m1.4 .5h0m1.3 1.3h0m1.7-2.4h0m1.6 2.8h0m.3-3.2h0m1.1 4.2h0m.8-4.6h0m.9-.7h0m0 4.1h0m.8-1h0m1.6-.9h0m.4-1.9h0m.6 4.8h0m1.2-2.3h0m.7-2.5h0m.6 4.9h0m2-4.8h0m.1 2.5h0m.8 1.4h0m1.3-2.8h0m.2 4h0m1.6-2.5h0m.5 1.9h0m.4-5.1h0m1 2.4h0m.3 1.3h0m2.7-2.8h0m.7 2h0m1.8 2.2h0m.1-2.1h0m1-2.7h0m1.1 5.3h0m.4-5.4h0m.7 3.5h0m1.5-.5h0m.1 1.2h0m.8-3.6h0m.6-.8h0m.5 3.1h0m1.6-.5h0m1 1.4h0m1-2.4h0m.2 3.6h0m1.5-2.1h0m2.2-1.1h0m.6 3h0m1.2-5h0m.1 3.6h0m.4 2.3h0m.9-1.5h0m.6-3.8h0m.2 1.7h0m1.9 2.6h0m1.6-4.6h0m0 3.5h0m1.7 1.6h0m1.1-4.7h0m.1 3.1h0m1.9 1.5h0m.2-3.7h0m1.5 1.5h0m0-1h0m1.1 3.3h0m.9-4.3h0m.3 1.4h0m1.9 2.5h0m.3-4h0m2.5 2.8h0m.1-1.5h0m.2-.7h0m1.9 4.2h0m1.4-2h0m.3-1.9h0m.3 3.1h0m.4-.5h0m2.4 .9h0m.3-2.8h0m.7-2.5h0m.9 4.5h0m.1-1.7h0m1.2 2.2h0m1.4-4.2h0m.5 3.2h0m1.7-1.8h0m.9-1.9h0m.9 2.6h0m1-1.5h0m.2 3.3h0m2.4-3.8h0m.7 2h0m.5-1.7h0m.8 .4h0m.6 1.6h0m1.1 .3h0m.7-.8h0m.5 .1h0m1.3-.1h0m.2-1.8h0m1.7-.7h0m.3 3.6h0m.1-1.2h0m.5-1.7h0m.2 3.8h0m.6-4.5h0m1.8 0h0m1.4 .5h0m.4 1.1h0m.1 1.7h0m.1-2.5h0m1.4 1.5h0m1.5-1.8h0m.2 3h0m1.4 2.1h0m.8-1.2h0m.4-3.4h0m1.9 1.8h0m.2 .7h0m.2-1.1h0m1 .4h0m.4-1.2h0m.3 3.4h0m.3-1.8h0m.7 .2h0m2.5-2.4h0m.2 3.5h0m1.7-4.6h0m.1 .1h0m.2 1.4h0m.2 1.9h0m.1-1h0m1 .1h0m0 2.3h0m.1-2.1h0m.5-1.6h0m2.9 1.3h0m.2-.4h0m1.6-1.8h0m2.3 .7h0m.6 2.8h0m.5-2.7h0m2.8 .5h0m1.4-.7h0m3.9 1.6h0m2.3 1.3h0m3.2-3.5h0m2.7-.4h0m3.5 4.9h0m.1-4.7h0m.8 3h0m.8-1.2h0m2.7 1.5h0m.5-1.8h0m3.6 1.8h0m3.1-1.9h0m4.4-.7h0m5.2 .4h0m1.6-.9h0m-377.4 6.8h0m20.4 4.3h0m4.3-.5h0m12 .9h0m4.2 .1h0m.1-3h0m.8 2.1h0m16.5-1.3h0m1.9 1.6h0m1.3-3.2h0m.3 .4h0m.2 1.3h0m.1-.7h0m1.2 .6h0m.1-3.8h0m.8 4.9h0m2 .9h0m.3-2h0m.8-2.4h0m.5-1.3h0m1.7 .1h0m.7 2.3h0m2 2h0m.4-1.5h0m.1 1.1h0m.2 1.6h0m1.7-3.8h0m.5 1.7h0m1.2-3.3h0m1.7 4.1h0m.4-1.8h0m1.2 1.2h0m.1-2.6h0m.2 .6h0m2.3-1.2h0m.2 .2h0m.9 2.8h0m0-.5h0m.6 2h0m1.5-4.2h0m.5-.1h0m.4 3h0m2.3-1.7h0m.2 2h0m2.7 .9h0m.7-3.1h0m.2 2.6h0m.1 1.4h0m2.4-3.2h0m1.1 .6h0m.7-.2h0m2 2.6h0m.8-4.1h0m.2 2h0m1.8 1h0m.5-2.2h0m1.9-1.4h0m1.1 .2h0m0 3.3h0m1.6-3.6h0m.5 5h0m1.4-2.7h0m.6 2.2h0m2.2-1.4h0m.9-3.1h0m1 .7h0m.3 1.1h0m.9 2h0m1.3-2.7h0m.3 2.7h0m1.9 .7h0m.1-.8h0m.5-4.5h0m.6 1.4h0m.5-.1h0m.1 2.8h0m1.9-.2h0m1.5-3.7h0m.1 5.5h0m0-3.4h0m2-.6h0m.3 3.7h0m1.2-5h0m.2 3h0m1.6 2.5h0m1.5-5h0m0 2.6h0m1.6 1h0m.4-2.6h0m1.5-1h0m.2 2.9h0m2.1-.3h0m.7-3.3h0m.9 4.4h0m1.3-2.3h0m1.9 .6h0m1.1-1.9h0m.8 2.8h0m2.7-2.1h0m.6 2.3h0m1.2 1.5h0m0-4.3h0m.8 3.2h0m1.9-2.9h0m1.4 3h0m.4-4.6h0m.5 3h0m.7-1.8h0m1.1 3.9h0m1.4-2.4h0m2.8 .6h0m.8-1.9h0m.2 3.7h0m.9-1.8h0m1.6-1.6h0m.4 2.6h0m2.8-.1h0m.1-2.8h0m1.3 2.9h0m1.3-1.7h0m1.6 3.2h0m.1-3.3h0m.3 2.3h0m2.6-1.9h0m0-1.5h0m.1 4.4h0m1.8-2.6h0m.4 2.4h0m.8-2.1h0m.9-2h0m1.4 1.5h0m1.5 2.9h0m.7-4.9h0m.6 4.9h0m.3-2.4h0m2.3 .6h0m.6-2.3h0m.8 2h0m2-3h0m.6 2.6h0m1.3 .7h0m.8-1h0m.3-2.3h0m1.5 4.8h0m1-4.1h0m.3 3.3h0m.7 .7h0m1.1-3.4h0m1.4 1.1h0m1 2.1h0m.4-4.5h0m.3 4.8h0m.9-3.3h0m1.9-.9h0m.1-1.3h0m.1 5.4h0m.1-.7h0m2.8 1h0m.2-5.5h0m.2 2.6h0m1.4 1.5h0m.5-2.8h0m1.4 2.2h0m.4 1.3h0m.2-3.6h0m2-.6h0m.8 2.9h0m1.5-2.5h0m.7 1.6h0m.8-2.2h0m0 4.8h0m0-4.2h0m1.4 3.3h0m1.6-1.1h0m.1-1h0m.5-1.9h0m1.7 1.7h0m.9 2.2h0m.6 .8h0m.9-2.5h0m2.3-1.3h0m.2 3.2h0m1.5-1.7h0m1.5 .7h0m.4 2.1h0m.8-5.1h0m1.2 4.8h0m.7-4.1h0m.4 1.8h0m.3 2.6h0m.5-2.6h0m.5-2.9h0m1.9 3.3h0m.6-.9h0m.3 3h0m2.1-5.3h0m.1 3.2h0m1.9-3.5h0m.2 5.1h0m.2-1.6h0m1-2.3h0m1.2 4h0m.6-2.9h0m1 1.3h0m2.6-1.7h0m.8 2.7h0m.5-3.8h0m2.4 4.3h0m.2-2h0m.1-2.9h0m1.9 .3h0m0 3.7h0m1 .9h0m.4-3.7h0m.1 .6h0m2.1 .7h0m.3 3.1h0m.9-5.8h0m.1 .6h0m.3 .5h0m.3-.9h0m.1 4.8h0m0 0h0m.1-.9h0m.1 0h0m.3-3.4h0m1.1 3.3h0m.3-.3h0m.6-2.6h0m.8 0h0m.2 2.7h0m0 2h0m.1-3.5h0m.1-.7h0m.1 .4h0m1.6 1.9h0m1.1 1.5h0m.9-3.6h0m.9 1.5h0m1.7 .7h0m.2-2.8h0m.2 3.8h0m2.5-3.5h0m0 1.3h0m.3 2.3h0m0 .8h0m1.5-1.2h0m.6-.1h0m.6-3.3h0m1.4 3h0m0 1.2h0m.9-4.1h0m.7-.7h0m.6 2.6h0m1.3-2.3h0m.7 4.2h0m.2 .6h0m.7-3.6h0m.5 3.4h0m.1-.7h0m.6-2.7h0m2.8 1.7h0m1-2.8h0m2.8 1.3h0m.2 1.8h0m.6-2h0m1.2 1.2h0m.8 1.7h0m.3-2h0m0-3h0m.3 .4h0m.4-.3h0m1.4-.3h0m.3 5.8h0m1.1-3.1h0m.2 .5h0m0-2.4h0m.3-.1h0m.2 1h0m.4 .4h0m1.6-1.9h0m.5 4.4h0m1.1-3.3h0m.9 3.8h0m.5-4.6h0m.1 2.1h0m1.5 2.6h0m1.3-5.2h0m.1 1.1h0m.1 2.2h0m.8-1.7h0m.5 2.6h0m1.8 .9h0m.7-4.5h0m0 2.5h0m2.2 .6h0m.5 .6h0m.2-1.7h0m.2-2.2h0m.2 0h0m.3 1.1h0m1.3-.3h0m.7 .7h0m.5-1.2h0m2.7 5h0m0-.9h0m4.4-1.4h0m.1-1h0m.2 1.5h0m.9-3.8h0m.2 4.1h0m.3-1.7h0m.5 .7h0m1.2 1.7h0m.3-.2h0m1.6-4.5h0m.8 2.1h0m2.3 .2h0m0-2.2h0m4.9 3.1h0m.3-1h0m.2 .3h0m.7-2.6h0m3.1 4.6h0m2.3 .2h0m0-3.8h0m1.7 2.9h0m5-2.8h0m3.9 .2h0m6.3 .2h0m5.7-.9h0m12.8 .6h0m-359.1 8.4h0m3.2 .9h0m12.6-.7h0m1.9-.9h0m5.5 2.4h0m.2-3.6h0m2.6-.1h0m4.5 1.8h0m1.5-.3h0m1.2-3.1h0m3.2 4.7h0m.1-1h0m2.3-3.7h0m.5 3.2h0m1.5 .7h0m2.6 1h0m.4-3.6h0m.1 3.8h0m.3-1.2h0m.4-2.2h0m2.4 3.1h0m.5-4.6h0m1.1 .8h0m.4 3.2h0m.1-3.7h0m.4 1.3h0m1.1 1.2h0m.2-1.8h0m.9 4.5h0m1.3-2.8h0m.4-2h0m1.1 4.6h0m0-3.2h0m.4 .1h0m.7-1.2h0m1.8 2.9h0m.1-4h0m.3 1.4h0m.5 3.7h0m1.7-3.1h0m.7-1.3h0m0 4.9h0m2-2.6h0m.6-3h0m1.1 5.2h0m.3-3.4h0m1.3-1.9h0m.7 3.8h0m1.7-2.5h0m2 2h0m1-2.9h0m.8 4.6h0m.2-2.6h0m.6-1.3h0m1.9 2.6h0m.1-2.4h0m1.9 3h0m1.2 1h0m.6-3.3h0m.2-1.6h0m1.6 4.3h0m.6-2.8h0m.8-1.4h0m1.3 5.3h0m.6-2.3h0m.7-.9h0m.3-1.6h0m.9 4.3h0m.6-.9h0m1.3-2.8h0m.4 4h0m.5-4.8h0m.4 1.9h0m1 2.2h0m1.3-2.4h0m1 0h0m1.1 1.6h0m1.3-2.7h0m1.1 2.3h0m.4-2.2h0m2.7-.4h0m.2 3.3h0m2.2-2.6h0m.7 2.1h0m1.1 .3h0m1-2.9h0m2.4 2.4h0m.4-1.9h0m1.8 1.4h0m.2-1.7h0m2.4 2.4h0m.7-1h0m1.5 1.6h0m.1-1.1h0m2 1.2h0m.5-2.6h0m1.8 .2h0m.7-1.2h0m1.1 3h0m.6-3.9h0m1.8 4.1h0m.1-2.8h0m1.9-.7h0m1.5-.4h0m.1 3.7h0m.4-2.7h0m.5 3.5h0m.5-4.4h0m2.4 1.6h0m.1-1.3h0m.2 2.4h0m1.2-2h0m.2 3.1h0m2-1.8h0m1 3.1h0m1.4-4.6h0m.1 1.1h0m1.7 3h0m1.3-3.9h0m0 3.4h0m.4-.9h0m2-3.7h0m.2 4.6h0m1-.4h0m.1-1.5h0m1.6-.8h0m.8 2.1h0m.4-3.2h0m1.6 4.5h0m.2-2.4h0m1.9-2.2h0m.8 5h0m0-2h0m1.8-2h0m1.1 2.2h0m1.7-.5h0m.3-1.1h0m2.3-.7h0m.8 1.9h0m.2 1.6h0m2.3-3.5h0m.1 4.1h0m1.2-5.2h0m0 3.2h0m1-.8h0m.2 1h0m2.9-1.9h0m.3 2.2h0m2.3-1.3h0m.2-1.8h0m1.5 3.9h0m.1-4.9h0m1.4 2h0m.4-1.2h0m1.2 4.8h0m1.6-3h0m.5-1.4h0m.4 2.3h0m2.1 2.1h0m.7-3.7h0m1.9-.7h0m.1 2.6h0m1.9 .7h0m.8-2.5h0m.9 2.7h0m.9-1.1h0m1.3-.9h0m.8-2.4h0m.7 5.3h0m.8-2.1h0m.9-2.6h0m.4-.7h0m.5 2.2h0m1.3 2.6h0m.5-.1h0m1.6-4.6h0m0 1.9h0m.6 2.9h0m1.9-1.1h0m.1-4h0m.4 1.1h0m1 2.7h0m.1 1h0m2.2-1.9h0m1.4-1.9h0m.5 4.7h0m1.1-5.3h0m.3 3h0m1.7 .2h0m.5-2.8h0m1.1 2.4h0m0 2.6h0m1.3-5.1h0m1.2 2.4h0m.9 .6h0m.8-2.7h0m1.7 1.5h0m.3 2.7h0m1.6-3.8h0m.3 2.2h0m1.9-1.5h0m.4-.4h0m.3 3.7h0m1.8-2.9h0m.6 1.7h0m.9-.6h0m.8-3.3h0m1.6 3.6h0m1.9-2.5h0m.8 .6h0m.6 3.2h0m1.5-1h0m.8-3.6h0m.5 2.8h0m1.2 2.3h0m1-3.4h0m.2-2.1h0m1 4.7h0m1.8-.6h0m.2-2.4h0m1.2-.3h0m.9 4h0m.4-2.6h0m1.5-1.3h0m.1 1.6h0m.8 2.4h0m1.3-4h0m.4 2.9h0m2.5-2.6h0m.7 1.4h0m.7-.6h0m1.1 2.1h0m1.6-4.1h0m.5 3.9h0m1.2-3.2h0m1.1 .6h0m.7 2.2h0m2.2-2.1h0m.1 0h0m.7 .1h0m.3-1.9h0m.1 5.1h0m.5 .3h0m0-2.8h0m.7 2.5h0m.1-1h0m.4-.1h0m1.4-4.1h0m.1 3.3h0m1.7 .6h0m.6-.1h0m1.2-2.7h0m.1-.8h0m.4 1.8h0m.1 2h0m.5-4.1h0m.4 2.7h0m3.1 1.1h0m.2-.3h0m.2-3.3h0m.5 2.6h0m.1-.6h0m.2-2.4h0m0 2.3h0m2.3-1.9h0m.8 2.1h0m2.3-1.5h0m1 4.2h0m.4 .2h0m.4-3.5h0m.5 .2h0m.3 2.4h0m.2-1.1h0m.4 .5h0m.2-2h0m.7 2.6h0m1.6 1.2h0m.2-3.3h0m1.1-1.8h0m.1 .9h0m2.2 3.9h0m.5-2.4h0m.3-.6h0m.2-1.2h0m.2-.6h0m1.9 1.5h0m.1 1.6h0m.6 2h0m.2-.5h0m1-4.5h0m.6 .4h0m1.4-.6h0m3.6 .4h0m1.5-.1h0m.5 2.2h0m.4-1.4h0m.2 2.8h0m.5-1.9h0m.9-1h0m.4 .8h0m.9 0h0m7.2 .7h0m0-2.7h0m3.6 1.1h0m4.3 .1h0m6.4 1.1h0m5.5-.8h0m16.7 .4h0m-371.3 6.9h0m35.8-3h0m3.9 1.8h0m1.9-1.2h0m2.2 3.5h0m2.7-1.6h0m.6-.1h0m2.2-.1h0m3.7-1.3h0m.7 .6h0m2.1 .4h0m1.7 1.9h0m.9 .2h0m2.6-1.8h0m2.2-2h0m2.6 4.6h0m.7-4.9h0m1.1 5.3h0m.7-3.1h0m3.1-2h0m.3-.1h0m0 1.7h0m.1-1.5h0m.8 2.6h0m.8 .7h0m.6 2h0m.5-4.1h0m.2 2.7h0m.2-.2h0m1 .1h0m1.3-3.2h0m1.2 4.3h0m.5-.8h0m.4-3.2h0m1.5 .9h0m1.5 3h0m.5-2.2h0m1.1-2.9h0m.3 3.9h0m1.4-3.3h0m.7 .3h0m.8 3.4h0m1.3-3.7h0m.7 4.7h0m1.2-3.3h0m1.2 1.8h0m.4-2.4h0m.9 3.3h0m1.5-2.1h0m.8 1.5h0m2.2-2.1h0m0-2.1h0m.6 3.2h0m2.5-3.1h0m.9 2.4h0m.3 1h0m1.6-.6h0m1.5-2.5h0m0 4.3h0m1.5-2.3h0m1.4 2.4h0m.4-2.2h0m1.9 3h0m.9-4.7h0m.7 4.2h0m0-1.7h0m2.6-1.2h0m.2 2.2h0m1.6 .1h0m.7-2.5h0m1.9 1.1h0m.2-2.9h0m2 2.5h0m0 2h0m1.8-4.8h0m.6 4.1h0m1.7-1.6h0m.6-2.5h0m1.1 5h0m0-4.1h0m1.2 2h0m.8-2.2h0m1.8 4h0m0-4.4h0m.8 1.9h0m1.1 1.4h0m1.3-3.3h0m.6 4h0m1.7-1.6h0m.2-2.1h0m.3 4.6h0m.8-5.3h0m2.3 2.6h0m.2 2.9h0m.5-5h0m1 4.4h0m.8-3.3h0m.3 2h0m1.9 2.4h0m.3-1.9h0m.6-2.7h0m1.7-.5h0m.2 2.9h0m.6 2h0m.8-.3h0m.3-5.2h0m1.1 2.4h0m1.1 1.5h0m.3-2.5h0m1 4.1h0m1-5h0m1.7 2.5h0m0-2.9h0m.7 4.3h0m1.8-3.1h0m.1 1h0m.7 2.8h0m1.4-1.8h0m.2-3.5h0m2.1 5.5h0m.4-3.2h0m1.1-1h0m.8 3.5h0m1.5-1.9h0m.2-2.2h0m1.1 3.7h0m2.4-2.6h0m.2 3.9h0m1.9-2.5h0m.5-3.1h0m.8 3.3h0m.1-3.1h0m.8 4h0m.7-.6h0m1.2-3.3h0m.4 3.5h0m1.3 1.4h0m1.1-4.1h0m.5 1.5h0m1.3 1.9h0m.2-2.8h0m2.6-.9h0m.6 1.6h0m1.1-2.3h0m.6 3.8h0m.6-4.1h0m1.2 1.5h0m.1 2.8h0m3 1.3h0m.2-3.1h0m1.9-.3h0m.8 1.5h0m.4-3.5h0m.4 2.7h0m1.3 1.5h0m.7-3.1h0m1 1.3h0m.2 3.2h0m.5-5.4h0m1 4.1h0m1.9-2.5h0m1 3h0m1.1 .4h0m.6-.4h0m.4-2.4h0m1-2h0m.8 1.3h0m1 1.9h0m.7-3.7h0m1.2 3.1h0m.7-2.9h0m.7 4.4h0m1.4-2.7h0m1.3-1.4h0m.6 3.4h0m1-2.3h0m2.1 2.3h0m.5-2.6h0m1 3.1h0m1-.2h0m.3-1.8h0m1-2.2h0m1.6 3.3h0m.2-.6h0m1.6-.6h0m.4 2h0m1.7-4h0m0 3.6h0m1.7-1.4h0m.5 3h0m.1-4.8h0m2.1 3.5h0m.3-2.9h0m1.5 4.4h0m1-2.5h0m.8 2.5h0m.4-4.2h0m.7-.7h0m.8 1.6h0m.8 2.6h0m2.1-2.2h0m1.2-2.7h0m.8 3.9h0m.4-2.9h0m1.8 2h0m1.1-.7h0m1.2 3.3h0m.6-4.8h0m.8 3.8h0m1.2-2.6h0m.7-.8h0m1.4 2h0m1.7-.4h0m.2 2.6h0m.5-5.2h0m.3 1.4h0m1.3-.9h0m.8 1.5h0m1.2 .6h0m.4 1.5h0m.5 0h0m1.4-2.5h0m1.7 1.6h0m.8-1.8h0m.9 3.6h0m.3-2.2h0m1.7-.4h0m.1 2.9h0m1.9-5.6h0m1.2 4.3h0m.1-2.4h0m1.2 .1h0m.3 2.2h0m1.9 1.5h0m0-2.6h0m.1-1.9h0m1.3 4h0m1.1-.8h0m0-1.5h0m.2 1.7h0m.3-4.2h0m.6 3.8h0m1.3-2.3h0m.7-1.5h0m.4 0h0m1.5 1.5h0m2.6-1h0m.1 .9h0m.2-.5h0m1.7 .5h0m.9 1.2h0m0 2.8h0m.1-2h0m.4 .6h0m.1-.6h0m.2 1.3h0m.3-.3h0m3-2.9h0m.1 .6h0m.2 1.1h0m.7 1.1h0m.2-1h0m1-1.3h0m.2 3.3h0m.3-3.3h0m1.1 .1h0m.4-1.2h0m.5 4.2h0m1.2 .1h0m.3-3.2h0m.2-2.5h0m.2 5.7h0m1.3-4.9h0m.1 4.5h0m.3-2.7h0m1.2-.2h0m.1-.4h0m.4 2h0m1.5-.4h0m.3 .3h0m.9-.5h0m1.5-3h0m1 .8h0m.9 1h0m.1 2.4h0m.6-2.2h0m5.5 0h0m1.6 1.8h0m.9-2h0m2.7 2.2h0m.8 1.2h0m11.7-1.6h0m8.3-3.8h0m3.5 .9h0m35.7 3.5h0m-358.1 6.7h0m2.8-2.2h0m3.8-1.4h0m1.6-.6h0m.5 2.8h0m.2-1.2h0m.5-.6h0m1.7 1h0m15.8-.6h0m6.2 .2h0m4.6-1.1h0m.5 3.8h0m2.1-1.5h0m1.1 1.6h0m.4 0h0m.6-5.4h0m1.7 5h0m.4-3.8h0m.7 3.1h0m.4 .6h0m.9-1.9h0m.9-1.7h0m1 2h0m1.8 1.9h0m.2-2.9h0m1.7-1.1h0m.5 .3h0m.1 4.3h0m.2-2.8h0m.3-1.8h0m.7 .7h0m1.2-.9h0m.1 3.5h0m.8-2.1h0m.4 2.6h0m1-2.9h0m.2-1.8h0m.7 3.2h0m.6-3h0m1.9 2.7h0m.8 .8h0m.7-2.1h0m.9-1h0m1.5 3.6h0m1-3.2h0m1 1.3h0m.9 2.6h0m1.3-4.2h0m1.3 1.9h0m.3 2.1h0m1.1-3.6h0m2 2.3h0m.7-2h0m1.4 4.1h0m.3-2.9h0m1.4 .6h0m1.1-2.1h0m1.1 1.6h0m.8 2.4h0m1.2-5.2h0m.5 3.6h0m1.7 1.2h0m.2-4.7h0m1.5 1.8h0m.2-1.7h0m1.7 4.7h0m.5-.3h0m1.1-3h0m.6-.3h0m1.3 3.7h0m.4-2.3h0m.9-2.1h0m.5 2.9h0m1.9 1.4h0m.1-2.9h0m1 2.5h0m.8-3h0m1.5 1.1h0m1.4 2h0m.2-4.7h0m.3 1.5h0m2.2 1.4h0m.2-3h0m1.3 5.1h0m.4-2.5h0m1.7 .5h0m.1-1.5h0m.7 4.1h0m.9-.4h0m.1-4.7h0m1.6 1.6h0m.6 2.9h0m2.5-1.3h0m.1-1.4h0m1-2.4h0m.4 4h0m.7-2.9h0m2-.4h0m.6 2.1h0m.2 1.2h0m.4-3.1h0m2.5 2.4h0m.7-1.9h0m.8 3.9h0m2-1.6h0m.1-2.6h0m1.8 4.3h0m.1-1h0m.8-2.7h0m.7 .7h0m1.6 2.2h0m1.2-3.5h0m.7 2.6h0m2.7 .8h0m.1-2.7h0m2.4 0h0m.4 2.7h0m.7-1.2h0m2-1.6h0m.5 1.4h0m1.3-1.9h0m.7 4.5h0m1.3-3h0m1.2-1.8h0m.4 3.9h0m.8-1.3h0m.7 2.1h0m.8-4.4h0m1.4 .9h0m.1 3.3h0m.8-1.2h0m.7-3.2h0m.2 2.5h0m2.5 1.1h0m.3-3.3h0m1.4 2.3h0m.7-2.5h0m.6 4.2h0m1.1-5.3h0m.7 1.5h0m.2 2.5h0m1.1-2.1h0m.5 2.8h0m1.3-.9h0m1.4 .7h0m.5-2.3h0m1.3-1.9h0m2.2 2.6h0m.1 1.5h0m.8-4.5h0m1.3 3.6h0m0 1.6h0m1.8-3.7h0m1.3 1.6h0m0-1.2h0m1.7 3.7h0m0-3.8h0m1.6 2.1h0m.8-3.6h0m.9 4.5h0m.9-4.1h0m.6 1h0m.9 2.7h0m.1 1.1h0m.9-4.8h0m.9 1.4h0m2.2 1.7h0m.8-2.6h0m1.3 1.7h0m1.1 .1h0m1.4-.3h0m1.2 1.2h0m.6-3.8h0m.5 4.9h0m1.1-4h0m1.5 2.1h0m1.3-2.3h0m.3 2.4h0m1.7 .9h0m.5-3.8h0m1.6 2.8h0m.9-2.2h0m1.1 0h0m.8 2.6h0m1.4 .9h0m.3-2.6h0m1 1.7h0m1.4-3h0m.5 2.3h0m.2 2.9h0m1.6-5.6h0m.2 2.4h0m1 2.9h0m1.4-2.3h0m1.2-2h0m.8 3.6h0m1.7-2.8h0m1.1 .9h0m2-1.3h0m.1 3h0m2.6 0h0m.5-2.3h0m1.9 3h0m.7-4.6h0m.6 2.1h0m2 2.8h0m.8-2.2h0m.2-2.2h0m.8 1.1h0m.6-2h0m.6 5h0m1.4-2.4h0m.3 .2h0m1-1.8h0m1.2 3.9h0m.8 .7h0m.6-2.4h0m.1-3.2h0m1.4 2.9h0m1.1-2.1h0m1.1 1.6h0m.1 2h0m.3-3.8h0m.2-.1h0m.6 0h0m.5 .6h0m.1 1.1h0m.1-1.8h0m.8-.2h0m.5 4.6h0m.7 .8h0m.3-3.8h0m1.5 3.6h0m.2 0h0m.1-.7h0m.2-4.1h0m.5 4.6h0m.7-2.8h0m1.9-.3h0m.3 2.3h0m.6-.5h0m1.4-1.8h0m1.4 3.1h0m1-4.9h0m.1 3.3h0m1.6 2.2h0m1.4-4.3h0m.1 1.3h0m.4 .9h0m.1-2.1h0m.1 .9h0m1.1 .3h0m3.8 .2h0m.2-2h0m.3 4.3h0m.1-4.3h0m1.5 2.5h0m.4-.9h0m1.1-2.1h0m5.1 1.1h0m2-1.7h0m.2 4h0m.4-3h0m1.5 4.2h0m.5-4.8h0m2.5 4.3h0m.2 .8h0m.3-3.2h0m.1-1.5h0m.2 .9h0m1-1h0m0-.8h0m.2 3.7h0m3.5-.6h0m.8-3.1h0m5 2.2h0m6.8-1.3h0m2.4 .6h0m2.6-.7h0m.1 .2h0m10.5 1.2h0m.9 3.5h0m.2-3.7h0m-325.7 4.9h0m.1 2.7h0m16.5 1.3h0m3.9-4.4h0m4.5 4.3h0m1.9-4.4h0m3 1.4h0m3.7-.8h0m3.2 3.5h0m0-1h0m.4 .5h0m1.9-1.8h0m8.5 1.8h0m1.3 1.7h0m.3-1.6h0m1.3-2.3h0m.5 3.1h0m0-4.2h0m2.5 3h0m.5-3.7h0m1.2 5.5h0m1.2-4.7h0m.5 4.7h0m.9-.2h0m.5-5h0m.8 1.1h0m1.8-.5h0m.2 .9h0m.7 2.4h0m1-.4h0m1-2.8h0m0 4h0m2.3-2.1h0m.1-2.4h0m1.1 5.3h0m.7-1.5h0m1.2-2.9h0m.6 2.3h0m1.6-1.5h0m.4-1.3h0m.5 3.4h0m2.3-2h0m.6-.7h0m.4 2.6h0m.3-3.2h0m1.5 .7h0m.9 3h0m.5-4h0m.3 5.3h0m.8-2.8h0m1.6 1.9h0m.1-3h0m1.1-1.7h0m.1 4.7h0m.3-4.4h0m2 3.7h0m.6-1.9h0m.4-1.1h0m1.6-.1h0m.4 3.3h0m.5-4.3h0m1.3 3h0m1-.5h0m1.1 3.1h0m1.1-4.3h0m.6-1.3h0m.8 3.3h0m.2 1.3h0m.3-3.5h0m.9 4.3h0m1-3.4h0m1.7 3.5h0m.9-5.3h0m.2 2.9h0m2.1-2.3h0m.3 4.2h0m.6-2.1h0m1.1 .8h0m.3-3.7h0m1.8 2h0m.7 1.7h0m1.3-2.2h0m.4 3.6h0m.3-4.8h0m1.3 2.8h0m1.6-2.4h0m.9 3.3h0m1.2 1.6h0m1.1-2.8h0m0-1.7h0m1.5-.5h0m.9 2.2h0m0 1.6h0m2-3.5h0m.5 3.5h0m2.1-2.5h0m.3 2.9h0m1.8-1.1h0m0-3.8h0m2.2 1.5h0m.6 3.9h0m.4-2.1h0m1.5-2.9h0m1.6 3.9h0m.3-2.2h0m.8-1.4h0m1.9 2.8h0m.7-3.4h0m1.4 4h0m1.1-2.5h0m2 2.7h0m.1-3.9h0m.1 2.7h0m1.8 .5h0m.2-1.7h0m1.8 1.4h0m0-1.7h0m1.5-.6h0m0 3.9h0m1.3-.1h0m1.2-2.2h0m.1 2.4h0m1.3-4.7h0m.7 3.9h0m.9-2.1h0m.4 2.3h0m1-3.4h0m1.3 4.7h0m.2-2h0m1.2-3.7h0m.7 5.4h0m1.5-2.8h0m.9-2.4h0m1 3.3h0m1.5-2h0m.3 3.7h0m1.4-2.4h0m2.1 .1h0m.3-1.9h0m.8-.3h0m1 3h0m.1 1.8h0m1.9-4.2h0m1.5 2.1h0m1.6-2.2h0m1.2 3.3h0m.7-1.1h0m.1-2.4h0m1.5-.6h0m.2 3.9h0m1.4-1.9h0m1.5-1h0m.7 3.2h0m1.6-4.6h0m.5 1.5h0m.7 3.1h0m.3 .2h0m.3-3.7h0m1.7 .6h0m.3 2.8h0m1.9-1.7h0m1.6-1.9h0m.8 2.5h0m1.1-.4h0m.1-2.4h0m2.9 2.1h0m.1-2.5h0m.3 3.5h0m1.5 1.9h0m.3-1.6h0m1-3.6h0m1.2 1.6h0m.2-.3h0m.4 2.4h0m2.3-4h0m.6 1.8h0m1.4 2.8h0m.6-4.6h0m1.6 3h0m.3 1.9h0m1-5h0m0 3.5h0m2 .8h0m.5-4h0m1.3 2.5h0m1.5-2.5h0m.3 5.4h0m2.1-3.1h0m.3 2.7h0m.8-5.1h0m.1 4.7h0m.4-3.6h0m1.8-1.1h0m.5 3.4h0m.6 1.7h0m1.1-.3h0m.2-3.1h0m1.5-.9h0m1.1-1.1h0m.2 3.7h0m2-2.2h0m1.1 1.3h0m.2 2.5h0m1.1-5.2h0m1.3 2.9h0m1.1 2.8h0m.4-4.6h0m1.9 3.6h0m.2-1.4h0m.1-3.4h0m1.6 2.2h0m.4 3.6h0m.7-5.5h0m.6 4h0m.9-1.2h0m1.2-2.7h0m1.4 3.3h0m1.7-1.9h0m.2 2.5h0m1.7 .7h0m.7-3h0m0 2.9h0m.9-4.1h0m.4 4.7h0m.4 .4h0m.3-5.3h0m.4 4.7h0m1.6-3.3h0m.3-.6h0m1.3-.5h0m.5 2.1h0m.2-.2h0m.1-2.7h0m2 .1h0m.1 .2h0m.9 4.2h0m.1 1.1h0m2.3-5h0m.1-.1h0m.2-.6h0m.3 3.3h0m0 1.1h0m.9-2.3h0m1.7-1.5h0m.1-.1h0m.3 3.3h0m.1-3.3h0m.1 1.5h0m.1 1.7h0m.1 1.5h0m1-.2h0m.7 .9h0m.8-2.5h0m1.2-3h0m.6 .6h0m.5 4.7h0m.7-2.7h0m.2-2.4h0m.5 3.9h0m0 1.3h0m1.4-1.6h0m1.8 1.2h0m.4-5.3h0m2.6 .5h0m1.5 2h0m1.1 2.8h0m.7-4.6h0m.8 4.4h0m.8-4.2h0m.6 4h0m4 .2h0m1.5-2.1h0m.3-2h0m.2 2.2h0m2.9-1.6h0m.8-.5h0m1.5 4.5h0m0-.3h0m.8-4.4h0m1.7-.1h0m1.9 2.2h0m.3 .8h0m.3-2.7h0m1.9 1.8h0m.5-2.6h0m3.7 .8h0m2.8-.6h0m12.3 3.5h0m12.4-.5h0m-309.7 6h0m7.7 .5h0m.2 1.5h0m.1-1.4h0m4.6-2.5h0m3.8 .8h0m5.8 2.6h0m1.2 .4h0m0-2.1h0m1.7-1.5h0m.9-1.4h0m0 1.6h0m3.2-.4h0m.3 2.9h0m.7-1.5h0m.1 .8h0m.3 1.6h0m.2-2.3h0m.3-.3h0m1.9-.1h0m.6-1.2h0m.5-.7h0m.6 3.4h0m1.4-1.7h0m.5 2.6h0m.8-5.3h0m.8 4.4h0m1-2.6h0m.8 3.9h0m.8-3.2h0m1.1-2h0m.2 1.4h0m.8-1.8h0m.1 .4h0m.1 3.9h0m1.2-1.5h0m.8-.7h0m.2 2.4h0m2-3.8h0m.3 1.1h0m0 4.1h0m.1-3.6h0m1.8 2.8h0m.5-4.2h0m.4 3.6h0m.5 1.3h0m.8-5h0m1.9 1.3h0m.1 2.7h0m1.6-4.1h0m.7 5h0m.7-5.3h0m.1 2.2h0m1.3 .5h0m1 2.2h0m.4-5.1h0m1.4 3.2h0m1.3-1.7h0m.3 1.7h0m.7 1.7h0m2-.2h0m.8-2.2h0m1.3 .5h0m.9-.4h0m1.2 2.4h0m1.1-3.7h0m1.4 1.6h0m.5-3.2h0m1.6 3.2h0m.8-1.3h0m.6 2.8h0m.8-3.9h0m1.4 2.6h0m1.7-.4h0m1 .5h0m.1-1.7h0m3.2 .4h0m.5 2.9h0m2.2-3.1h0m.2 4h0m2.1-2.7h0m.1 2.1h0m.5-3.3h0m1.4 2.8h0m.8-4h0m.9 1.2h0m1.7 1.8h0m.9 1.4h0m.9-3.8h0m.5-1.4h0m.1 1.8h0m1.1 1.9h0m2-1.3h0m.4 3.2h0m1.5-2.3h0m.5-2.1h0m.9 .8h0m.2 3.5h0m1.6-5h0m.4 4.8h0m.2-2.6h0m1.2 2.7h0m.8-5.2h0m.2 1.8h0m1 1.2h0m1.3 1.9h0m.6-4h0m.9 1.6h0m1.5 1.5h0m.5-.1h0m.6-2.9h0m1.9 1.8h0m.2-2.3h0m1.8 .1h0m.3 4.2h0m1.4-3.1h0m.3 2.8h0m1.1 .5h0m.9-4.8h0m1.2 1h0m.3 1.8h0m.2 1.5h0m2.2-1.7h0m0-2.9h0m1.9 .9h0m.2 3.5h0m1 1.2h0m1.6-3.2h0m.2 2.4h0m1.8-2.1h0m.5 3h0m1-5.6h0m.5 3.3h0m.6-2h0m2.2 4.2h0m.2-1.6h0m.7-2.2h0m1.5-1.7h0m.8 4.7h0m.1-1.8h0m1.6-3.1h0m.9 4.6h0m.5-3h0m1.8 3.3h0m.8-4.9h0m.7 2.5h0m1.4 2.9h0m.2-4.5h0m.2 2.4h0m1.5 1h0m.7-3.5h0m1.7 1.2h0m1 2.6h0m.6-4.4h0m0 5.5h0m1.4-5h0m.3 2.2h0m.8 .5h0m1.5-1.6h0m1.5 .9h0m.7-2h0m.9 3.3h0m.5-2.8h0m1.8 4.7h0m.7-4.5h0m0 .7h0m1.4 1.3h0m1.5 .4h0m.4-1.1h0m.5-2.1h0m.6 4.5h0m1.5-.3h0m.6-2.7h0m1-2h0m.7 3.6h0m2.1-3.6h0m.3 5.7h0m.2-3.3h0m1.4-1.4h0m.3 2.9h0m2.5-1h0m2-2.8h0m.3 3.6h0m1.8-1.3h0m1.1-2.6h0m.4 5.1h0m1-2.3h0m1.8 .3h0m.1-1.7h0m1.1 1.3h0m.1 .1h0m.3 .4h0m.5-1h0m.1 1.8h0m.2 2h0m.1-5.1h0m.5 4.6h0m.4-4h0m1.6-.3h0m.5 4.1h0m.3-3.2h0m.4 2h0m3 .8h0m0-2.6h0m1.5-2.1h0m.2 2.9h0m1.4 2.6h0m.5-3.2h0m.1 2.3h0m1.1-3.5h0m2.7 .3h0m.9 0h0m.1 3.9h0m.2-4.1h0m.4-1h0m1.2 3.3h0m.5-2h0m1.1 1.7h0m.5-.4h0m1-2.7h0m0 2.6h0m1.4 2.7h0m.6-1.2h0m.1-1.2h0m.1-.8h0m.5 3.6h0m1.7-3.4h0m.7-.6h0m1.8 1.1h0m.1 1.6h0m.7-.5h0m.9-.5h0m.2 0h0m1.2-2.3h0m.6 3.9h0m.8-3.9h0m.6-1.2h0m.2 3.2h0m0-.2h0m.2-.6h0m1.4 2.1h0m0-.6h0m.5 .7h0m1-2.2h0m1.2 2.5h0m.1-3.1h0m3.4-1.3h0m1.5 .2h0m.1 .5h0m2.6 2.8h0m.8 1.4h0m.3-2.3h0m.7-2.6h0m.5 .6h0m2.1 .4h0m.1 4.1h0m.2-2.4h0m1.1-2.5h0m8.9 1.7h0m.1-2.4h0m3.1 1.3h0m1.2 3.3h0m1.6 .7h0m.2-3.1h0m2.5 2.9h0m.7-2.1h0m3.7 .2h0m4.8 2.3h0m2-4h0m4.8 1.1h0m4.4 .4h0m2.1-2.1h0m6 1h0m-306.3 7.2h0m1.9 1.7h0m1.5-1.5h0m3.8 .4h0m1.8 .7h0m2.5 .5h0m4.8-1.4h0m1.4-3.6h0m.6 5h0m2.1-1.8h0m.1 .5h0m7.2-3h0m2.9 3.5h0m.9-1.4h0m.5-.7h0m.7 2h0m.7-.4h0m.8-.6h0m.2-.3h0m2-1.8h0m.2 3.9h0m3.2-2.6h0m.6 3h0m.5 .3h0m.1-4.6h0m.1 4h0m.9-1h0m1-2.5h0m1.2 3.1h0m.1-4.6h0m.1 5.1h0m.3 .1h0m.5 .1h0m.6-1.2h0m.5-.1h0m0-.2h0m2.7 1.2h0m.1 .4h0m.1-4.7h0m1.7 2.3h0m.4 1.6h0m.9-.4h0m.3-3.9h0m1.1 5h0m.2-3.5h0m.8 3.9h0m.4 .2h0m.8-1.4h0m0-4.4h0m1 2.6h0m1.6 3.1h0m1-.9h0m.5-3.5h0m1.6 .9h0m.8-1.2h0m.2 2.7h0m1.7-1.7h0m.6 1.7h0m.3-3.4h0m1.2 1.5h0m.1 3.4h0m.5-1.2h0m2.2 .4h0m0-3.3h0m1.7 3.7h0m.8 0h0m.4-2.7h0m1.1-1.8h0m1.1 2.8h0m.1-2.2h0m1.4 4.3h0m1.3-2.3h0m.7 1.2h0m1.3-3.3h0m1.8 2.3h0m.2 2.4h0m.2-3.8h0m1.3 2.7h0m1.7-2.3h0m1.1 1.8h0m.7 1.7h0m.4-5.7h0m0 .9h0m.9 4.5h0m1.6-1.9h0m.6-1.5h0m1 1.8h0m.7 1.9h0m.2-5.6h0m1.5 3.3h0m.3-3.2h0m.6 1.2h0m1.2 3.5h0m1.2-2.3h0m0-2.1h0m1.9 .5h0m.3 3.2h0m1.2-4h0m.7 5.5h0m.1-3.7h0m1.6-1.9h0m.1 4.8h0m.8 .1h0m.1-2.8h0m.2-.9h0m1.9 3.7h0m.4-1.3h0m1.5-1.5h0m1.9 1.1h0m.8-.7h0m1.8 2.8h0m.8-4.4h0m.2 2.3h0m2.2-.4h0m1.6-2.7h0m.4 5.6h0m.3-2h0m1.5 .6h0m.4-3.5h0m2.1 4.7h0m.2-4.8h0m.8 3h0m1.3 .2h0m1.6-3.3h0m.6 2.2h0m1.7-2.2h0m.3 3.1h0m2.6-.9h0m2 1.8h0m.2 0h0m0-3.7h0m2.8 2.1h0m.1-2.3h0m1.6 2.1h0m.8-1.1h0m.4 3.9h0m.2-2.3h0m1.3-3.2h0m1.2 5.2h0m.7-3.1h0m1.8 1.5h0m.2-2.7h0m1-1.1h0m0 3.9h0m1 1.9h0m1.4-3.9h0m.4 1.7h0m1.2 1.6h0m1.6-3h0m.5 .1h0m.5 3.1h0m2.9-1.4h0m.2-1.5h0m.2-2.5h0m1.3 4.4h0m1.1-2.1h0m.9 2.2h0m.7-3.4h0m2.2 1h0m.2 2.9h0m1-4.7h0m.3 3.7h0m1.3-1.9h0m1.4-2.1h0m0 4.6h0m.1 1.2h0m1.1-4.6h0m1.1 4.2h0m1-1.4h0m.9-1.4h0m.2 .4h0m1.6-2.7h0m1.1 5.3h0m.4-3.6h0m.8 2.5h0m1.2-3h0m1.2 2.5h0m.6-4h0m.7 2.6h0m1.8 2.9h0m.5-5.5h0m1.1 2.8h0m.6 3.1h0m1-4h0m0-1.9h0m1.2 5.2h0m.3-3.3h0m.6 3.8h0m1.5-.1h0m0-1.5h0m.8-3.1h0m2.4 3.8h0m0-1.5h0m1.5-2.9h0m0 3.3h0m.4 .5h0m1.7-3.4h0m.2 .9h0m.3-1.6h0m1.1 4.7h0m.7 .2h0m.9-4.8h0m.9 1.2h0m1.6 1.3h0m.2 .3h0m.2-3.1h0m.1 3.2h0m1.2-1.9h0m.2 .4h0m.2 1.4h0m1.9-3h0m.7 5.4h0m.8-1.3h0m0 .9h0m.7-3h0m.1-.1h0m1.1 3.1h0m.3-4.9h0m.6 3.2h0m1.1 2h0m0 .5h0m.1-1.2h0m.5-3.7h0m.3 1.5h0m2 3.2h0m.2-3h0m2.9 .9h0m.1-2.4h0m.4 2.6h0m.1 2h0m.1-2.3h0m2.1-2.1h0m.2 1.3h0m1.1 2.2h0m.1-4h0m1.7 1h0m3.4-1.3h0m.9 3.2h0m1 .2h0m.5-.4h0m1.8-1.6h0m1.6 1.4h0m.5-1h0m1.6-1.6h0m.9 2.2h0m.3 2.3h0m.2 .6h0m.7-.6h0m.2-5.3h0m.4 2.7h0m3.2-.4h0m.2-1.1h0m.5 3.6h0m1-4.7h0m1 5h0m2.4-2.9h0m3.3-1.1h0m.9 4.1h0m2.5-2.8h0m.5-1.4h0m1 0h0m0 3.6h0m1.6-3.5h0m1-.2h0m2.7 4.6h0m.1-5h0m3.4 5.4h0m3.3-5.3h0m.5 .1h0m1.1 1.5h0m.9-.5h0m1 .1h0m2.5-1.3h0m2.1 4.6h0m4.9-3h0m1 .4h0m1 1.7h0m2.1-4h0m9.6 5.4h0m8-4.6h0m34.7 3.1h0m-335.6 2h0m3.7 5h0m.8-.6h0m.2-4.4h0m3 1h0m6.7 4.8h0m.1-.5h0m2.4-2.3h0m2.6-1.5h0m2.1 3.5h0m.1-.1h0m.3-3.8h0m1.3 2.8h0m1.4-3.5h0m.8 .2h0m1.1 2.4h0m2.6 2.9h0m1.6-1.9h0m.6 .5h0m.5-4.4h0m3.3 0h0m4.1 1.5h0m.6 1.8h0m.4 0h0m.4 .8h0m3 1.2h0m1.5-1.8h0m.2 1.4h0m.6-3.7h0m1.1 .2h0m.1 3.3h0m2-2.8h0m.3 1.7h0m1.4-3.5h0m1.4 3.4h0m.5-3.1h0m1.3 5.3h0m.3-3.2h0m.3 .7h0m0-1.2h0m.1 1.1h0m.4-1.2h0m.2 .7h0m.9 1.9h0m2.2-1.1h0m.3-.7h0m.6 1.6h0m.4-2.4h0m.1-1.5h0m1.3 3.9h0m.9-1.9h0m1.9 1.2h0m.7-.3h0m.2 1.5h0m.7-3.8h0m1.5-.4h0m1 1.4h0m.2 3h0m.5-4.7h0m1.5 2.4h0m2.4 1.5h0m.3-2.5h0m2.5-1.3h0m.2 2.2h0m.1 2.4h0m2.1-4.2h0m1.6 3h0m.8 2h0m.4-3.1h0m2.5 .4h0m0-1.8h0m.2 4.3h0m.6-2.4h0m0-2.6h0m2.4 3.5h0m1.3-2.6h0m1.6 1.6h0m.8 1.8h0m.8-2.5h0m1 2.6h0m1.5-3.2h0m1.5 3.5h0m.7-2.7h0m2.3 0h0m.2-1.6h0m.3 4h0m1.4 .5h0m.4-4.9h0m.9 2.4h0m1.1-1.6h0m1.2 3.4h0m2.3 .8h0m0-3.7h0m2 2.6h0m1.2-2h0m1.3 2.6h0m1.3-3.9h0m1.3 2.3h0m.5-3.1h0m.9 4.3h0m.9-3h0m1.5 .2h0m1.8 3.2h0m.5-5.1h0m.8 2.9h0m2.4 .4h0m1.1 1.9h0m.2-3.1h0m1.2-1.2h0m.9 4.6h0m.5-3.4h0m1.1 1.5h0m.5-2.3h0m2.1-1.2h0m.4 3.4h0m2-3.6h0m.7 2.2h0m0 2.9h0m1.1-4.5h0m.2 3.7h0m2.5-1.4h0m.5-1.6h0m.7 1h0m.9 2.9h0m1.4-4.8h0m.2 3.4h0m1.8 .7h0m.4-3h0m1.1 1.1h0m1.7 3.1h0m1.1-4.1h0m.4 1.9h0m.5 1.2h0m.8-1.3h0m1.1-3h0m1.6 5.3h0m.4-3.9h0m.3 2.3h0m1.3-2.4h0m1.2 4.2h0m.3-2h0m1.5-3.6h0m.2 4.2h0m.2 .4h0m.1-1.8h0m.1 2.3h0m.2-5.1h0m.8 3.8h0m.6-.3h0m.8 1h0m1-3.6h0m.7 1.9h0m.1 2.5h0m.9 .2h0m.7-3.8h0m.9 1.9h0m.6-3.1h0m1.2 4.2h0m.5-3.4h0m.2 3.6h0m.9-.3h0m.7 .5h0m.1-1.9h0m.3 2.2h0m.3-4.2h0m2.3 1.1h0m.1 2.5h0m1.1-2.9h0m1.2 1.2h0m1 1.6h0m.5-4.7h0m.7 3.3h0m2.1-.1h0m.7 .6h0m.1-1.9h0m.3 2.5h0m.9 .2h0m.6-3.6h0m.3 2.1h0m.7-1.9h0m0-.1h0m1.5-1.4h0m1.4 5.7h0m.1-3.7h0m.2 2h0m0-.1h0m.9 .6h0m.3-.2h0m1 .3h0m.4 0h0m.1-2.8h0m1.5 3.7h0m.2-.6h0m.1-4h0m1.4 4.8h0m4.3-1.1h0m.6-2.7h0m1.7-1.1h0m.5 2.4h0m.6 2.5h0m.6-3.3h0m.1 0h0m2-.6h0m1.4-1.4h0m2.4-.1h0m.1 3.2h0m1.9-2.4h0m1 1.9h0m3.3-.4h0m.6 .7h0m5 .6h0m.1 1.9h0m0-4.8h0m.2 0h0m2.7 .7h0m1-.9h0m.1 .6h0m1.1 .1h0m.3 3.3h0m.1-1.6h0m4.7-.8h0m.7 0h0m1.5-1.6h0m0 1.7h0m1.1-1.2h0m5.6 2.2h0m.2-1.8h0m0-1.2h0m5.4 .7h0m4.3 .7h0m.2-1.1h0m4.1 3.5h0m.9-3.6h0m2.2 2h0m3.1 1.2h0m9.5-1.4h0m3.2 .3h0m8.3 .3h0m-286.1 3.1h0m12.1 2.9h0m5 .5h0m1.5-2.8h0m1.2 1.8h0m.4 2.1h0m7.1-1.6h0m.7-3.1h0m1.1 4.6h0m.9-2.5h0m4.5 3h0m.8-2h0m.1 1.4h0m1.3-3.7h0m.4 1.1h0m.8 2.5h0m1.1 .2h0m.3-3.8h0m.7 .4h0m.5 3.4h0m1.9-.6h0m.9-3h0m2.2 .5h0m.7-1.4h0m1 4.9h0m.3 .9h0m1.4-1.8h0m1-2.4h0m1.2-.6h0m1.5 3.3h0m.1-2.4h0m.1 1.9h0m1.1-.8h0m1.6-.2h0m.7 2.3h0m2.1-4.4h0m.9 4.5h0m.3-2.6h0m1.6 2.6h0m.2-5.4h0m1.3 3.2h0m1.3-2.1h0m1.3 2.7h0m2-3.3h0m.9 5.1h0m.3-2.3h0m.3-1.8h0m1.8-.7h0m.7 4.6h0m.5-3h0m2-2.1h0m.5 3.5h0m.3 1.6h0m1.1-4.3h0m1.4 3.2h0m.8-.9h0m1.1-3.2h0m.8 3.8h0m.4-.9h0m1.1-2.8h0m.4 3.4h0m.2-2.2h0m0 3.2h0m1.8-4.2h0m0 5h0m1.1-1.9h0m1.2-1.5h0m.2 2.7h0m1.1-3.1h0m.9-1.3h0m1.3 3.3h0m1.4 .5h0m1-2.9h0m.4-.2h0m.7 3.7h0m2-.6h0m.3-.9h0m.1-2.3h0m1.8-1h0m.5 4.2h0m0-.3h0m1.5-1.3h0m1 2.2h0m1.4-1.2h0m.8-1.9h0m1.9 .4h0m.1 3.1h0m1.1-3.9h0m.6-1.3h0m.5 3.1h0m1.6 2h0m.9-3.6h0m.6 .8h0m1.1 2.1h0m2.2-1.4h0m.4-1.6h0m1.9 3.9h0m0-1.3h0m1.1-2.3h0m1.2 1.4h0m.2 2.2h0m.9-3.7h0m2.7 2.7h0m.1 1.4h0m0-3.1h0m.9 2.5h0m0-4.1h0m1.6 1.2h0m1 2.6h0m.7-2.8h0m.4-1.9h0m1.8 5.3h0m.5-1.8h0m.2-2.3h0m2-.7h0m.1 .8h0m.5 2.8h0m1.2 .4h0m.9-2.8h0m1.1 4.1h0m.9-2.2h0m.2 1.3h0m.5-4.7h0m1.3 2.9h0m.5 2.2h0m.9-4.1h0m.9-1.1h0m.7 4.6h0m.4-1.3h0m.3-.9h0m2 2.2h0m.3-3.9h0m.6 4.7h0m1.1-3.4h0m.8-2h0m1.5 .5h0m.1 3h0m.5 2h0m.9-4h0m.1 2.9h0m1.5-1.4h0m.5-2.4h0m2.2 2.5h0m.4-2.6h0m1.5 4.9h0m.2-2.6h0m2-1.9h0m.9 1.4h0m.7 2h0m.6-2.6h0m2.3 4h0m.3-3.2h0m1.1 2h0m1.8-.6h0m.2-3.9h0m.3 1.2h0m.1 .3h0m.3 .3h0m1.5 2.9h0m.4-1.4h0m.3 2.4h0m.8-2.7h0m1.2 .1h0m.1-.3h0m.9-2.2h0m0 .6h0m.2 2.8h0m1 1.7h0m1.1-5h0m.4 .1h0m.5 2.4h0m0-2.9h0m.1-.5h0m0 2.3h0m0-1.4h0m.1 .6h0m1.7 1.9h0m1.7-3.2h0m.1 2.1h0m.2-.6h0m.1-1.4h0m.2 2.5h0m.1-1.1h0m.6 2.5h0m.2 .8h0m2.3 .6h0m1.6-2.5h0m.7-1.2h0m.1 2.8h0m.7-3.7h0m.3 4.8h0m0-.5h0m1.8 0h0m.1-3.1h0m0 2.6h0m.2-3.3h0m.9 4.2h0m.6-2.8h0m1.5 1.8h0m.5-1.9h0m1-.6h0m0-1.9h0m.1 .6h0m.6-.5h0m.5 5.4h0m2.9-2.5h0m0 .4h0m1.1-.8h0m.7-2h0m.1 2.3h0m.2-2.7h0m1.2 .3h0m.1 3.8h0m0 .9h0m.3-.3h0m.2 .5h0m.8-.4h0m.8 .4h0m.4-.4h0m1.1-3h0m.1 .1h0m2.1 3h0m1.5-1.3h0m.7 .2h0m.3 1.5h0m.2-3.4h0m3.2-1.7h0m.5 2.2h0m.3-1.6h0m.1 .5h0m0-.7h0m.1 1.8h0m.6-.9h0m.7-1.1h0m1.2-.7h0m.6 1.8h0m1.5 1h0m.4-2h0m0-.4h0m1.5 4.9h0m1-1.5h0m.6 .5h0m.6-.9h0m6-3.4h0m1.2 3.6h0m0 .9h0m2.5 .6h0m3.2-5.1h0m3.7 1.7h0m1.2-1h0m4.6 4h0m1.3-.8h0m0-2.2h0m1.5 .3h0m26.5-.7h0m-264.5 9.8h0m.8-3.6h0m1.4-.1h0m1.2-.1h0m3.1 2.5h0m.7-.5h0m.1 1.7h0m1.2 0h0m2.2-1h0m3.5 0h0m.5 .6h0m1.8-3.6h0m.5 2.2h0m1.6 1.1h0m6.3-.5h0m.4 1.2h0m.3-4.5h0m3.5 .4h0m.3 3.8h0m0-1.3h0m.7-3.1h0m0 1.3h0m.5 2.9h0m2.5-1.8h0m.8 1h0m0 0h0m1.3 1.1h0m1.2-.3h0m.2-4.4h0m.3 3.1h0m.6-1h0m.3 3.2h0m.8-2.1h0m.5-3.5h0m.6 2.8h0m1.5 1.7h0m1.1-3h0m1.2-1.2h0m.2 4.4h0m.9-4.7h0m.4 1.4h0m.8-.9h0m.2 .7h0m.7 2.4h0m.1 1.3h0m1.6-.6h0m.7-1.8h0m1.3-2.3h0m1.1 5.1h0m.8-.7h0m.6-2h0m.9 1.6h0m1.5-4h0m.6 5.1h0m.9-2.4h0m.6-2.1h0m1.9 2.7h0m.8-3h0m.4 4.7h0m1.3-.3h0m.7 .2h0m.3-2.7h0m2.7-.6h0m0 2.6h0m.8-2.3h0m2.1 2.2h0m1.2-3.8h0m.2 5h0m.1-2.5h0m.9-2.6h0m1.3 4.6h0m1-2.4h0m1.4-1.5h0m.6 3.1h0m2.2-2.6h0m1.3 1.5h0m1.5-2h0m.9 4.4h0m.2-3.4h0m.9-1.4h0m.9 1.8h0m1.6 2.1h0m.6-2.7h0m1.4 0h0m.1 1.6h0m1.8-.7h0m.1 2.2h0m1.1-3.5h0m1.3 3.4h0m.5-2.1h0m1.5-2.5h0m.7 4.6h0m.6-2h0m.6-2.6h0m1.3 2.8h0m1.8 2.3h0m.2-4.3h0m.8 1.7h0m2.1 1.3h0m.9-2h0m2.1 2.6h0m.1-3.5h0m1.7 3h0m.1-3.5h0m.2 1.8h0m2.5 2h0m.2-2.9h0m.5 2.9h0m.5 1h0m.6-3.7h0m1.8 2.9h0m.5-3.2h0m.4 3.1h0m.2-1.2h0m1.6-.7h0m.1-.8h0m1.3 0h0m.3 .9h0m.3 3h0m.3-3.5h0m.2 1.1h0m.4 2.1h0m.6-.7h0m.4-2.9h0m2.4 .5h0m.4 2.3h0m1.6-4.2h0m.7 3.7h0m1.1-1.6h0m.1 3.1h0m1.4-2.5h0m.9-.7h0m2 2.7h0m.9-3.2h0m1.6 .5h0m1.3 2.9h0m.5-.6h0m.4-4.4h0m0 4.6h0m1.1-2.7h0m.2 3h0m1-.9h0m1.5-4.3h0m.3 2.9h0m1.5-.5h0m.4 3.4h0m2-1.8h0m.1-1.4h0m.2 3.2h0m0-1.9h0m.1-1h0m.4 .6h0m.4-2.9h0m1.8 .2h0m.3-.4h0m1.7 4.2h0m.1-.3h0m.3-3.4h0m.3 4.3h0m.1-5.3h0m1.3 1.9h0m.2 .5h0m1.5 3.4h0m.3 0h0m0-4.4h0m.6 2.1h0m.5 .8h0m1.3-3.3h0m.4 3.2h0m1.2 1.6h0m.8-5.6h0m.2 3.6h0m1.4 1.2h0m.4-3.6h0m.2 1.9h0m.9-.2h0m1.1 .5h0m.4-1.4h0m1.5-1.6h0m.6 4.9h0m.4-4h0m.2-1.3h0m1.6 3.4h0m.9-.9h0m.7 1.9h0m.5 .1h0m.1 1.2h0m.5-4.8h0m.7-.5h0m.2 5.3h0m.3-3.6h0m1 0h0m1.1-1.9h0m.1 5.3h0m1.4-5.4h0m.1 3.6h0m.7-1.6h0m.2 2.5h0m2.4-2h0m1-1.9h0m.7 2.8h0m.1 .4h0m5-3.2h0m.6 1.1h0m.5 1.2h0m.9-3.1h0m.2 5.2h0m.9-1.2h0m.8-3.2h0m.5 4.8h0m2.6-2.8h0m.6-2.2h0m2.2 1h0m1.1-1.4h0m.4 .6h0m1.5 2.5h0m1.2-3.4h0m3.5 .3h0m.8 .9h0m1.1 4.4h0m5-3.8h0m5.7 0h0m2-.4h0m2.4 2.8h0m.1 1.6h0m10.7-2.6h0m62.1 2.3h0m-300.9 1.8h0m10.8 1.6h0m1.8-1.7h0m1.5 1.5h0m3-1.8h0m.5 4.9h0m2.8-2.5h0m2.9 1.5h0m.8-1h0m.5-3.8h0m.6 2.1h0m.4 1.7h0m.5 1.2h0m1-4.6h0m.7 4.7h0m.6-.6h0m.1-1.5h0m.5 .1h0m.5-.9h0m.4-1.1h0m1.4 .5h0m0 1h0m.8 .8h0m.1-2.1h0m1.6 4.6h0m.8-5.3h0m1.6 4.4h0m.8-2.9h0m0-1h0m.5 2.3h0m.4 .8h0m1.4-2.4h0m.8 1.8h0m.6-1.8h0m.1 3.3h0m2.5-4.7h0m.3 2.8h0m.4 2.1h0m.9-2.5h0m1.4-2.5h0m1.2 4.4h0m1.1-1.9h0m.5-1.4h0m.7 3.5h0m2.1-2.3h0m.1-1.6h0m1.8 3.4h0m.3-3h0m1.2 3.3h0m.5-3.8h0m.8 2.1h0m2.4 1h0m.5-2.1h0m.3 3.3h0m.7-2.2h0m1.3-2.3h0m1 3.5h0m.3-2.8h0m1.6 1.3h0m.2 1.5h0m1.8-3.8h0m1.6 0h0m0 2.3h0m.2 1.7h0m2.2-1.9h0m.3 2.8h0m1.9-3.1h0m.4-.7h0m1.3 2.4h0m1.7 .1h0m0-2.8h0m2.5 4h0m.2-.5h0m.1-3.4h0m1.9 2.4h0m.9-2.2h0m1.9 4.2h0m0-2.2h0m1.8 .5h0m.1-3h0m2.7 4.7h0m0-3h0m.2-2.6h0m1.1 4.3h0m.6-1.8h0m2.5-1h0m0 2.7h0m1.7-2.8h0m.3 2.5h0m2.1-3h0m.7 3.2h0m1.4-1.7h0m1-1h0m.2 3.1h0m.9-1.9h0m1 .9h0m.9 1.7h0m.6-5h0m1.9 2.8h0m1.2 2.2h0m.4-4.8h0m.6 1.8h0m1.2 .1h0m0 3.5h0m1.4-1.2h0m.3-3.8h0m1.9 2.4h0m.2-1.3h0m1.2 3.4h0m.1-1.1h0m.5-3.8h0m1.5 .9h0m.5 2.6h0m.8 1.3h0m.4-3h0m.7-.8h0m1.3 3.6h0m.6-2.1h0m.3-.8h0m1.4-1.7h0m1.2 3.4h0m.9-3.3h0m.2 1.8h0m1.4 2.5h0m.4-3.8h0m.7 2.6h0m.1-3h0m.8-.5h0m.6 5.4h0m.6-2.9h0m1.7 .4h0m.4-1.8h0m1.3 4.7h0m1.4-1.1h0m.2-3.5h0m.7 2h0m1.5 2.2h0m.8-3.5h0m1.3-2h0m.4 5.9h0m.3-3h0m1.5 2.1h0m.7-3h0m.4 .6h0m.5-2.7h0m.6 .1h0m.1 3.6h0m1-.3h0m1.1 0h0m.4-.4h0m.4-.3h0m.4-1.7h0m.1 .2h0m.4 .6h0m.6 .5h0m.2 1.6h0m.1 2.1h0m.9-5.1h0m1.5 .8h0m.5 3.9h0m.1-1.1h0m2.5-2.9h0m.6 2.5h0m.8-2.2h0m.1-.4h0m1-.6h0m.5 1.1h0m1-1.8h0m0 3h0m1.5-2.9h0m0-.1h0m.5 5.2h0m.4-2.5h0m.9 1.4h0m.9-2.2h0m.3 2.5h0m.8 .8h0m.5-3.2h0m1.7 2.2h0m.2-2.8h0m1 2h0m5.3 1.6h0m2.9-4.1h0m.8 1h0m1.7 3.7h0m.3-.5h0m2.8-3.1h0m.3-.8h0m.6 3h0m.5-1.1h0m2.8-2.3h0m1.6 3.4h0m.1-1.4h0m1.7 1.9h0m0 .8h0m6.3-4.4h0m1.5-.5h0m17.5-.4h0m7.6 5h0m1.9-3.4h0m2.9-.4h0m-237 5.5h0m11.7 3.2h0m0-3h0m.9 1.5h0m7.2 2.7h0m.3-.7h0m1.1 .2h0m3.2-1h0m3.7-3.3h0m1.3 4.1h0m3.7-.3h0m.2-1h0m1.5-2.3h0m.2 3.6h0m.7 .1h0m1.2-.1h0m.4-.2h0m.5-.6h0m.1-1.5h0m.1-.1h0m.7-.9h0m.4 1.2h0m1.8 2.3h0m.5-1.8h0m.3-.3h0m1.2 .4h0m.3 1.5h0m.8-1.9h0m.4-.2h0m.5-1.8h0m.6 4.6h0m.6-4.7h0m1.3 2h0m1.3 .5h0m0-3.2h0m0 5.9h0m1.9-2.8h0m0-2.6h0m1.4 5.2h0m1-3.1h0m1.5 1.4h0m.1-2.9h0m1.2 3.7h0m1.3-3h0m1 1.9h0m1.1-2.7h0m.8 4.6h0m.4-2.2h0m2 .9h0m0-4.3h0m.9 2.3h0m1.2-1.3h0m.9 2.3h0m.9-1.7h0m2.5 4h0m.1-1.7h0m.3-3.9h0m1.4 5.2h0m.7-3.6h0m1.6 2.4h0m.7 1.5h0m.5-4.3h0m1.8 3.4h0m0-1.5h0m.9-1.8h0m2.2-.6h0m.4 1.3h0m.1 2.3h0m2.6-3.4h0m.3 4.2h0m.2-1.1h0m.7 .8h0m.5-2.9h0m.6 1h0m1.7 1h0m.1-3.7h0m2.2 3.5h0m.6-2.6h0m1.9 .9h0m.1 1.4h0m1.2-3h0m.6 4.2h0m1.2-1h0m.1-3.7h0m1.1 2.5h0m1.2 2.9h0m1.7-3.7h0m.6 4h0m.4-2h0m2.1-2.5h0m.2 3.9h0m1.1 .3h0m1.3-2.4h0m.5-2.1h0m2.2 2.7h0m.6 1.4h0m.4 .4h0m.4-4.7h0m1.8 2.1h0m.6 2.5h0m.3-3.5h0m1.3 1.3h0m.8 1.8h0m.7-1h0m.1-3.7h0m1.7 .9h0m.2 3.3h0m1-4h0m.6 3.9h0m.4-1.2h0m2.4 2.7h0m.2-4.5h0m1 1.9h0m1.9 2.7h0m.5-4.2h0m.8 3.1h0m2-2h0m1.1 1.4h0m.5-3h0m2 1.9h0m.5 1.6h0m.8-.9h0m.4-3.3h0m1.2 4.8h0m.6-3.4h0m.6-1h0m.1 4.4h0m.2-.1h0m2.5-2.2h0m.4-1h0m.5 3.9h0m1.4-2.5h0m.6-1.6h0m.6 2.9h0m1.2-4.2h0m.2 3h0m.9 1.2h0m.3-1.9h0m1.6 1.3h0m2-2.7h0m.8 4.3h0m.4-1.4h0m.6 0h0m1.3-2.9h0m2.6 3.4h0m.7-2h0m.4-.7h0m.2 2.4h0m.7-1.6h0m.4-1.8h0m1.9-.7h0m1.2 2.2h0m0 3.1h0m0-2.1h0m.4 1.4h0m.3-2.1h0m.2-1.9h0m.6 3.7h0m.8 1.2h0m.1-1.2h0m7.6 .7h0m.5-4.2h0m.4 4.8h0m.8-2.6h0m.7 1h0m.7 .6h0m.4-2.7h0m.4 2h0m.2-1.7h0m1.4 .1h0m1.5-2.5h0m.4 .5h0m1.9 4.5h0m1.3-2.1h0m1.3 .7h0m1.1 1.6h0m8.1-4.9h0m3.8 3h0m.9-3.1h0m6.6 1h0m12.8 .8h0m-233.1 8.7h0m10.7-2.6h0m12 3h0m7.5-2.5h0m8.2 1.4h0m5.2-1.2h0m.2-.7h0m1.3 1.9h0m1.6-.9h0m0 1.9h0m1.8-4.1h0m.5 1.7h0m2.4-2.2h0m.1 2.4h0m.4-.7h0m.7-1.7h0m.3 1.1h0m.1 2.2h0m.7 .6h0m.5 .1h0m0-.6h0m1.2 1.6h0m.2-3.3h0m.9 2.3h0m1.6-1h0m.5-2.3h0m.5 .7h0m2.2 2.2h0m.5-2.8h0m1.2 3.4h0m.8-3.5h0m.7 4.1h0m1.6-2.2h0m.2-2h0m.4 3.9h0m1.7-2.3h0m0 1.1h0m1.4-3.7h0m1.4 5.7h0m.7-3.6h0m1.5 1.5h0m0 2h0m1.5-3h0m1.2-2.2h0m.8 3.7h0m.1-1.8h0m2.1-2.4h0m.6 5.1h0m.2-2.5h0m2.4-1.6h0m.2 4.5h0m.7-2.5h0m1.3-2h0m.3 4.9h0m.1-2.6h0m1.7-3.3h0m.5 1.8h0m.6 3.7h0m1.1-2.5h0m1.1 2.8h0m.6-2.9h0m2.8 1.8h0m.1-3.1h0m1.1 3.2h0m1.6-2.9h0m.2-.3h0m.3-1.2h0m1.4 4.5h0m1.8-4.3h0m.4 1.3h0m.9 2.8h0m2.2-2.7h0m.2 1.9h0m.1-2.8h0m1.6 4.6h0m1.5-3.2h0m.6-2.5h0m.4 5.1h0m.2-1.4h0m2 0h0m.2-2.5h0m1-.9h0m.5 4.6h0m.6-3.1h0m1 1.9h0m.2 1.7h0m.3-3.3h0m1.5 3.7h0m.9-5.7h0m.5 2.7h0m1.5 .4h0m.7-.6h0m1.5 .8h0m1.6-.8h0m.6 3.2h0m.9-1.1h0m1.1-4.2h0m.5 2.5h0m1.4-1.5h0m.3 2.7h0m2.4-1.7h0m.7 3h0m1.6-4.4h0m0 3.8h0m.2 .6h0m1.5-3.5h0m.5-.7h0m1.2 3.9h0m0 0h0m.4-.3h0m.4-3.9h0m.4 3.5h0m.1 .3h0m.1-.2h0m.2 .3h0m.2-.4h0m.2-4h0m.6 4.7h0m.1-1.6h0m.6 1.4h0m.9-3.1h0m.6 2.8h0m2-2.6h0m1.1 1.5h0m.2-.4h0m.2-3.3h0m.5 4h0m.4-3.2h0m.1 4.4h0m.1-5h0m1.1 .4h0m1.2 3.5h0m.6 .1h0m.1-2.1h0m.1 .7h0m.1 1.1h0m.1-2.7h0m1.9-.3h0m.5 4.4h0m.3-1.1h0m.3-2.1h0m2.3 .5h0m.8-.3h0m.1 2.8h0m2 .2h0m.2-3.8h0m.4-.6h0m.3-.3h0m.6 3h0m1.6 1.5h0m1.8 .8h0m4.1-2.8h0m.6 2.3h0m.1-4.7h0m.5 .7h0m.6 0h0m1 .2h0m3.4-1.5h0m.5 1.8h0m.6 2.7h0m.3-.3h0m.3 1.2h0m.3-2.6h0m.9-1.9h0m1.4 2.5h0m.1-3.5h0m.5 4.2h0m.9-2.9h0m3 1.6h0m.8 1.8h0m.2-3.1h0m3.8 .3h0m2.3 3.4h0m.5-1.4h0m.1-3h0m7.7-.6h0m6.7 .8h0m2.7 2.5h0m1.9-2.4h0m7.1-1h0m-198.3 6.8h0m.3-.2h0m1.8 4.5h0m0-.7h0m6.2-2.2h0m1-.2h0m3.1-.6h0m2 1.3h0m5 1h0m1.1 .1h0m2.8 1.1h0m.1 .6h0m.6-1.8h0m.3-2.2h0m.2 .9h0m.5 2.2h0m1.4 .8h0m3.2-4.5h0m.7-.8h0m1.9 0h0m0 1.6h0m1.3-.5h0m0 3.1h0m2.2-3.3h0m1.2 .7h0m.1 0h0m.4 1.4h0m2-2.5h0m.2 4.7h0m.6-.1h0m.1-2.4h0m1.5-.4h0m1.6-.9h0m.1 2.8h0m1.5-4.4h0m.1 .8h0m.2 4.3h0m.4-.4h0m1.9-1.7h0m1-2.8h0m.7 4.7h0m1.7-2.9h0m.6 3.4h0m1.2-.9h0m.4-3h0m.4 3.9h0m1-3.3h0m1.7-.4h0m.7 2.4h0m.7 1.2h0m1.6-1.5h0m.7-2.7h0m1.2 0h0m.2 3.1h0m2.4-1.5h0m.2 1.8h0m1.7-.5h0m1.4-3.3h0m.3 2.3h0m1.4 2.4h0m1.5-2.5h0m1.1 .2h0m1.2-2.7h0m.9 2.8h0m2.3 2.6h0m.3-1.4h0m.7-2.9h0m1.6 3.7h0m.3-5h0m.3 2.8h0m2.2 1.4h0m.3-2.6h0m1.9 .1h0m1.4 1.7h0m.8-3.4h0m.7 1.2h0m.1 3.4h0m.4-1.2h0m2.3-2h0m.3 3.1h0m1.8-2.5h0m1.1 1.2h0m1.3-3.3h0m.8 2h0m1.5 2.8h0m.3-2.6h0m2.3 3.5h0m.2-2.2h0m.1-1.7h0m1.2 .4h0m2 2.6h0m.4-4.4h0m1 2.3h0m1.3 2.7h0m.2-4.6h0m.9 .1h0m.9 3.6h0m0-1.4h0m1.7 1.8h0m1-2.2h0m.6-1.2h0m1.2 4.2h0m.1-3.1h0m1.5-2.4h0m.7 5.4h0m0-3.2h0m1 3.1h0m2.2-3.3h0m.7 2.5h0m.5-2.5h0m2.3 .3h0m.6 .4h0m.2 1.9h0m.5-1.6h0m.1 2.1h0m1.2-5.4h0m.1 4.7h0m.1 .1h0m.4-3.5h0m.1 2.3h0m.8-2h0m.4 2.5h0m.9-.3h0m.5-1.6h0m.1 2h0m.6-3.3h0m.6 4.1h0m.4-.2h0m1.4 0h0m.4-4.5h0m.1 2.5h0m.3 2.1h0m1.7-3.1h0m.2 1.5h0m1.1-1.8h0m0 1.9h0m0 1.7h0m.1-.3h0m.1 .3h0m3.4-2.5h0m.4-2h0m1.5 2.1h0m2.1 .8h0m.5-.7h0m.6 .6h0m.3-.7h0m.3-1.9h0m2.5 1.4h0m.1 1.8h0m1.9-.6h0m1.4-1.2h0m.7 3.5h0m.1-4.9h0m1.1 1.8h0m1.4-2.5h0m3.2 4.3h0m.3-1.6h0m1.7-1.3h0m.9 .1h0m.2 3.6h0m2.5 .6h0m.1-5.5h0m1.6 4.2h0m1.8-1.4h0m-185 3.5h0m13.2 2.8h0m10.3 1.7h0m2.7-4.6h0m3.3 3.5h0m6-1.5h0m3.4-.7h0m1.1 1h0m.5 .3h0m.1-.8h0m3 .3h0m1.4-1.8h0m1.5 1.1h0m.4 .3h0m.4 2.7h0m.2-3.2h0m3.2 3.9h0m.4-.1h0m.1-4.5h0m.4 3.4h0m.2 .4h0m0-2.9h0m.6-1.4h0m.2 4h0m2.4-.8h0m.1-3.7h0m.1 5h0m.1-.4h0m.2-1.6h0m.5 .5h0m.2-2.1h0m.3-.8h0m.1-.4h0m.7 2.7h0m.3-2.8h0m1 .6h0m.7 4.2h0m1.1-1.9h0m1.4 1.4h0m.8-3.8h0m1.2 5h0m.3-2.9h0m.6-1.6h0m1.9 2.7h0m1.7 1.9h0m.1-3.9h0m1.6-1.8h0m.4 1.4h0m.4 4h0m.1-1h0m1.9-.7h0m.9-1h0m.1 2.4h0m.5-2.3h0m2.2-2.8h0m.1 2.7h0m1.4 1.6h0m1-1.8h0m2.2 2.8h0m.3-1.9h0m.3-3.1h0m.6 2.3h0m.3-2.4h0m2 4.3h0m1-4h0m.6 1.9h0m1.5 2.3h0m.9-4.5h0m1 2.3h0m1 1h0m.6 1.8h0m.9-1.1h0m.5-3.9h0m1.3 2.1h0m1.2 3.1h0m.4-5h0m.6 .8h0m.8 3h0m1.9-1.7h0m.6 .8h0m.8 1h0m.7-3.9h0m1.5 1.7h0m.9-1.5h0m.9 2.5h0m1.2-2.3h0m.1 4.9h0m2.5-4.3h0m0 3.7h0m.2-1.8h0m1-2.6h0m.8 3.8h0m.9-2.4h0m.4 1.3h0m1.3-1.9h0m.4-1.1h0m1.1 4.1h0m.1-3.4h0m.5 4.4h0m.9-1.1h0m.4-4.1h0m.4 3.1h0m1.6-1.5h0m1.5 .6h0m0 1.7h0m1.9-3.8h0m.8 4.4h0m.7-2.9h0m.6-1.3h0m.6 2.7h0m1.1 .8h0m1.9-2.4h0m.5 1h0m1.4 2h0m1.5-1.7h0m.3 2.6h0m0-4.8h0m.5 3.8h0m2.5 .3h0m0-3.4h0m.3 .5h0m.2-.1h0m.5-.8h0m.2 1.6h0m2-.4h0m.7 .6h0m.5-.8h0m.4 .1h0m.6-1.6h0m.1 4.5h0m.2-1.7h0m1.6-.4h0m.8-1.2h0m4.2 .4h0m1-.2h0m.2 .3h0m4.2 1.3h0m.6-2.9h0m1.1 1.3h0m1.1 .3h0m.1-2.5h0m.9 1.9h0m.4-1.6h0m1.3 1.7h0m1 .2h0m2.7 1.2h0m.2-3.1h0m1.7 3.3h0m1.2-1.4h0m4 .9h0m2.6 .9h0m6.6-3.9h0m.3 2.6h0m-180.7 9.2h0m.4-1.9h0m11.9-3.6h0m1.8 2.5h0m3.8 .1h0m2.1-2.3h0m.3 1.3h0m5 3.8h0m3.5-2.3h0m1.5-2.1h0m.8 1.9h0m1.4 2.2h0m1.4-3.9h0m1.3-1.2h0m.3-.3h0m1.7 5h0m5.3-4.1h0m.6 1.7h0m.6-1.7h0m0 2.3h0m.2-1.6h0m.3 1.5h0m.2-2h0m.3-.2h0m0 4.9h0m1.9-5.4h0m.4 3h0m.1-2.3h0m.8 .6h0m.8-1.7h0m.8 4.6h0m1.2-3.4h0m1.1 3h0m.1-2.6h0m1.5 3.5h0m1.5-2.9h0m1.5 1.4h0m.1-2.2h0m.7 1.4h0m2.1 2.3h0m.9-3.3h0m0 2.4h0m2.4-2.1h0m.8 2.7h0m.9-3.4h0m.3 2.3h0m.5 1.9h0m.6-4.3h0m2.4 2.4h0m.4 1.3h0m.6-5h0m.7 3.2h0m1.6 1.2h0m.2-2.9h0m.3 2.5h0m2.5 .8h0m.2-2.6h0m2.4-2.2h0m.1 4.2h0m1.3-1.2h0m.9-3h0m.5 .6h0m.9 5.1h0m.3-2.8h0m2-1.2h0m.2 1.8h0m.8 1h0m2.1 .6h0m.2-3.2h0m.8-.5h0m.1 2.9h0m2.4-2.1h0m.4 2.6h0m.6-3.9h0m.2 2.5h0m2.4-1.9h0m1.1 2.5h0m.3 .9h0m.9-3h0m1.8 2.3h0m.4-2.9h0m.4 3.7h0m.7-4.7h0m1 2.7h0m.6 2.5h0m.8 .3h0m.7-3.2h0m.6-2h0m1.3 4.5h0m.9-3.8h0m0 2.7h0m.9 .7h0m.3-4.6h0m1.3 2.6h0m1.5 2.5h0m.6-3.1h0m.8-1.8h0m1 5h0m1-2h0m1.1 1.7h0m.3-3.1h0m1.9 3.1h0m.9-4.8h0m1.2 2.3h0m.2 2.6h0m.2 .3h0m.9-.7h0m.2 .3h0m0-2.5h0m1 2.5h0m.3 .2h0m.2-2.6h0m.3 3.2h0m.8-5.6h0m.9 3.3h0m.9 0h0m.1 1.8h0m.3-3.7h0m1.1 .3h0m.1 .2h0m.4-.7h0m.4 .3h0m.3 .6h0m1.7-1.5h0m.2 1.2h0m1.5 1.5h0m.3-3.4h0m1.9 3.9h0m.3 .7h0m.1-3.1h0m.2 2.3h0m1.2-.1h0m4.5-1.2h0m2.4 .3h0m.4-.7h0m.9 1h0m2.1-3.3h0m.4 1.9h0m4.5 .3h0m.9 1.7h0m4 .1h0m0-3.2h0m5.2 .2h0m7.4 2.4h0m5.8-2h0m34.2 2.1h0m-199.7 7h0m4.3-2.9h0m10.3-1.1h0m.9 3.3h0m1.2-1.1h0m.5-1h0m.8 .2h0m.8 2.3h0m1.6-1h0m.1-2.3h0m.9 1.7h0m1.4 .3h0m1.5 .8h0m.1 .5h0m.5 .7h0m.1-4.8h0m0 2.2h0m.7 1.6h0m.3-2.5h0m1.9 .3h0m0 4.2h0m.3-4.7h0m0 4h0m2.9 .1h0m0-2.9h0m1.1-.7h0m.1 1.7h0m.2 .3h0m.2 .3h0m1.9 .3h0m4.5-.7h0m.2-2.9h0m.2 5.3h0m.1-2.8h0m.7 2.6h0m.2-2.9h0m.2-1.1h0m.8-1.1h0m.3 1.9h0m.6 2.9h0m.6-4.3h0m2 2.5h0m.4-3.6h0m1 2.6h0m.6 2.7h0m1.7-5h0m.6 3.1h0m1.4 1.1h0m.5-4.2h0m.4 3.7h0m1.9-2.1h0m.1 3.7h0m.7-4.2h0m.2 2.8h0m1.1-2.3h0m1.6-.1h0m.7 3.5h0m.2-1.7h0m1.2-1h0m.6 1.9h0m1.7-1.6h0m0-2h0m1.9 4.6h0m.8-3.6h0m1.4 2.1h0m.2-2.5h0m0 3.9h0m1.7-3.8h0m.1 2.1h0m2.2-.8h0m.3-2h0m1.7 1.5h0m.9 3.4h0m0-1.4h0m1.2-3.1h0m1.2 2.5h0m.5-2.7h0m.6 3.7h0m1.2-2.8h0m.8 0h0m.7 1.4h0m1.4-.4h0m.8 1h0m.9-2.6h0m.1 2.7h0m.8-2.3h0m1.7-1.5h0m.7 3.4h0m1.6-1.8h0m.6 3.1h0m2-3.4h0m.2 2.6h0m.3 .1h0m1.4-1.6h0m2.2 .7h0m.1-1.7h0m1.4 2.2h0m.3 2h0m0-2.9h0m.2 1.4h0m.2-.3h0m.6-1.2h0m0 .9h0m.1-.8h0m.1 .9h0m1-2.9h0m1.6 2.9h0m.5-2.8h0m.1 4.7h0m0-1.5h0m2.4-2h0m.1 1.3h0m2.4 .2h0m.1 1.9h0m.3-4.2h0m3.1 .1h0m.9 4.1h0m.6-1.4h0m1.1-1.6h0m.2 .7h0m2.3 2.4h0m1.7-2.5h0m.1-1.8h0m3 1.8h0m.8-1.3h0m.4-1.7h0m.6 2.3h0m.7-2.2h0m.4 3.7h0m4.6-2.8h0m33.4 2.7h0m-156.2 7.4h0m.2-2h0m.9-1.1h0m1.8 2.9h0m.8 .4h0m1.8 0h0m5.3-5h0m.3 5h0m.1-5.6h0m.6 1.6h0m.3 1.6h0m.9 .5h0m.1-3.2h0m2.9 2.3h0m1.3 .4h0m.3 1.1h0m.5-.5h0m1.6 1.5h0m.5-2.8h0m2.6-.4h0m1.3 .2h0m.2 3.5h0m.3-4.3h0m.5 .1h0m.3 .4h0m.7 0h0m.8 .8h0m0 0h0m.4 2.5h0m.3-3.8h0m.4 2.8h0m2.1 1.1h0m0-3.5h0m1.1 2.3h0m.8 1.5h0m1-4.7h0m0 1.4h0m.3-.4h0m.2 1.1h0m.3-2.4h0m4 1h0m0 3.8h0m.2 .3h0m.4-3.7h0m.1 1.2h0m.2 .5h0m.7 2h0m.1-2.4h0m1.6-2.6h0m.5 4.9h0m1-2.8h0m1.7-2.1h0m.7 4.5h0m.4-2.8h0m.4-1.8h0m1.4 3.7h0m1.4-2.8h0m.5 1.4h0m2.2-.7h0m.6 1.5h0m.3-3.5h0m.9 1.7h0m.5 2.4h0m1.1 1.3h0m1-3.5h0m.7 1.8h0m.4 1.7h0m.1-4.5h0m2.5 4.2h0m.2-4.7h0m.4 1.8h0m1.3-.8h0m1.3 2.9h0m2 1h0m.1-3.9h0m.2 2h0m.4-3.3h0m1 1.1h0m.5-1h0m.6 3.6h0m.6 .1h0m.7-1.7h0m.1 1.2h0m.6-1.3h0m.9 1h0m1 .1h0m0 .9h0m0 0h0m.1-1.5h0m.5 2.2h0m1.1-5.2h0m1 2.1h0m.8 3.3h0m1.1-4.6h0m.3 2h0m1 1.4h0m1.3-2.2h0m.5 3.9h0m.1-5.4h0m1.9 3.4h0m.3-3.5h0m1 2.3h0m1.9 2.2h0m.5-4.2h0m1.5 2h0m0 .3h0m.2 .1h0m.9 2.8h0m.2-5.2h0m.9 .7h0m1.8 1.7h0m.7-2.8h0m.2 2.9h0m0 2.8h0m2.2-1.9h0m.6-2.9h0m.2 3.7h0m.1-2.5h0m1.9 2.4h0m.1-4.6h0m.3 .5h0m.3 .7h0m1.6-1.3h0m.7 2.1h0m.8 2.9h0m1.1 .1h0m.4-2.2h0m.1-2.5h0m.3 4.7h0m.1-4.9h0m.1 1.8h0m1.8-.4h0m6.3 1.2h0m5.9 .4h0m6.6-1.5h0m8.6-1.3h0m-143.3 11.4h0m5.4-4.1h0m7.1 .1h0m.1 2.3h0m.4-.4h0m.1-3.5h0m.4 4.2h0m1.8-3.5h0m4.5 .9h0m0 .8h0m2-2.5h0m.7 .3h0m.6 3.5h0m.1 1.8h0m0-2.2h0m.2-.5h0m.3 .4h0m.7 1.4h0m.3-1.1h0m0 1.6h0m3 0h0m.3-3.5h0m.6 1.9h0m.2 1.2h0m.9-1.1h0m1.3-2.7h0m.9 .4h0m.6 2.9h0m.6-2.1h0m1.8 .8h0m.2 1.1h0m0 .1h0m1.3-.8h0m1.1-1.1h0m.4-1.5h0m.3 4.1h0m.2-1.5h0m.3-3.3h0m1.6 1.6h0m.1 3.4h0m2-1.7h0m.4 1.5h0m.2-1h0m.9-2.2h0m.3 1.7h0m.3 1.1h0m.9-1.5h0m.1 2.4h0m.2-.7h0m.3-.4h0m.2 1.3h0m1.1-4.4h0m1.5 3.4h0m.3 .3h0m.5-2.9h0m.8 .2h0m2-.3h0m.5 2.5h0m.2-.1h0m.1-1h0m.4 .5h0m.9 .9h0m1.7-2.8h0m.9 2.1h0m.2 1.4h0m.8 .3h0m1.2-4.8h0m.3 3.5h0m2.1-.8h0m.3-3.8h0m.2 4.7h0m.3 1.3h0m.3-.2h0m1-4.2h0m1.2 2.6h0m.3 1h0m1.7-2.9h0m2.4 1.7h0m.4 2h0m.5-4.2h0m2.3 2.7h0m1.3-2.6h0m1 3h0m.5-1.5h0m.5 2.5h0m.5-2.8h0m.2-.5h0m.2-.6h0m1.3-.1h0m.7-.1h0m.9 1.4h0m.1-.7h0m.7 2.2h0m.2 1.2h0m.1-4.5h0m.7 2.4h0m.9-2.3h0m.3 .4h0m.9 3.7h0m.1-5.1h0m.1 3.8h0m1.5 .5h0m.5-3.5h0m1.2 .2h0m.8 2.2h0m1.5 1.4h0m.3-3.7h0m.1 2.4h0m1.3-2.3h0m1.7-1.2h0m.1 1.1h0m1.4 .6h0m.2 0h0m.5 .2h0m.1-.5h0m.5 .7h0m.2-.1h0m1.1 2.8h0m1.1-4h0m.6 3.5h0m1.5-1.8h0m1.4 2.2h0m.2-3.9h0m1.6 2.1h0m3.4-.9h0m4.9 .7h0m2.2 1.2h0m-120 4.7h0m.7 .3h0m3.4 2h0m1.2-.5h0m1.6 .3h0m.6-1.3h0m.6-2.2h0m1.4-.8h0m4.3-.4h0m2.6 5.2h0m1 .2h0m.7-4.8h0m.9 2.7h0m1.7 .9h0m1.7-3.8h0m.9-.2h0m1-.5h0m.2 4h0m.8-.2h0m.2 .6h0m1.1 1.4h0m2.9 0h0m.1-1.7h0m0 .7h0m.2-2h0m.1-2.8h0m1.3 2.2h0m.6 1.8h0m.2 .3h0m2.1-1.9h0m1.6 .6h0m1 1.5h0m.3 0h0m1.4 .1h0m0-4.5h0m.8 4.9h0m1.1-1.4h0m.1 .2h0m1.1-3.7h0m1.3 .8h0m0 2.6h0m.1-.6h0m1.4-.4h0m2.1 2.6h0m.3-.3h0m.4-4.1h0m.4 1.7h0m2 1.5h0m.3 1.5h0m.8-3.2h0m1.4-.1h0m.2-.9h0m.1 1.2h0m.1-1.2h0m.5 4h0m0 .1h0m.6-4.1h0m.5 4.3h0m.3-2.6h0m2-1.5h0m.1-.9h0m.5 .9h0m.4 2.1h0m0-2h0m1.4 3.5h0m.9-2.9h0m1.6 2.9h0m1.3-2.3h0m0-1.6h0m.1-.3h0m.3 1.6h0m.1-2.1h0m.2 .1h0m.1 .5h0m.6 2.3h0m.2 .5h0m2.4-1h0m.1 .5h0m1.3 2.1h0m.4-2.8h0m.2-1h0m.1-.2h0m1 4.2h0m.1-5.5h0m.5 2.1h0m1.1 1.9h0m.9 1.5h0m.4-5.3h0m1.6 2.8h0m1.7-1.4h0m0 2.7h0m2 1.5h0m1.1 0h0m.1-.8h0m.1-1.3h0m.2-2.2h0m.2 4.3h0m1.1-2.8h0m2.1-2.4h0m.1 5.4h0m.1-5.3h0m0-.3h0m1.3 4.4h0m.4-3.2h0m1.1 1.7h0m.7 1.9h0m.4-4.6h0m.6 2.7h0m.2-2h0m5.8-.3h0m4 1.5h0m3-1.6h0m.4-.8h0m.7 2.3h0m1.5-.9h0m-102.8 10.2h0m2.8 .1h0m.2 0h0m2.8-4h0m.3-1.4h0m1.7 .5h0m1 3.8h0m.3-.4h0m4.2 .3h0m.4-3.6h0m.1 3.7h0m.3-2h0m1 .5h0m1.2 1.8h0m.9-1.5h0m2.1 1.1h0m.2-.9h0m.4-2.6h0m2 3.3h0m.5-2.8h0m1.5 4.1h0m1.5-4.7h0m1.2 .7h0m.4 2.2h0m.6 .6h0m.5-2.2h0m.8 1h0m0 .3h0m0 .8h0m.3-.1h0m2.3-3.3h0m.6 1.6h0m.2 3.2h0m1.7-3.4h0m.2-2.1h0m.4 4h0m.1-3.3h0m.5 2.9h0m.5-3.3h0m.7 5.1h0m.8 0h0m0-4.9h0m0 4.8h0m.3-2.4h0m1.9-2.3h0m1.3-.4h0m.1 3.2h0m1.1-2.7h0m.4 .2h0m0 4.7h0m.3-4.8h0m0 .4h0m1.6 3.9h0m.2-.8h0m.1-4.1h0m1.3 3.1h0m1.6-1h0m.6 3.3h0m1.4-5h0m.9 .1h0m.2 1.1h0m.2 1h0m.1-.3h0m0 2.3h0m.1-3.3h0m.3 .7h0m1.3 2h0m.1 .9h0m1-1.8h0m.6-1.1h0m.3-.2h0m.2-.3h0m.1-.5h0m.2 .9h0m.2-1.7h0m1.5 .3h0m0 3.5h0m.5 1.4h0m1.4-3.9h0m.5 3.5h0m1.1-.5h0m.2-5h0m.2 4.4h0m.6-1h0m.3 1h0m.3-2.6h0m1.6 1.5h0m.1-2.3h0m.9 1.8h0m.3 .8h0m.3 .3h0m0 .7h0m.9-.3h0m.2-3.9h0m1.2 2.1h0m.2 1.3h0m.7 .5h0m2-2.2h0m.4 2.1h0m.5 .3h0m.5-2.2h0m1.5 2.4h0m.1-1.9h0m.1 1.1h0m1.1-3.2h0m.3 3.4h0m3.1-.1h0m1.9-2h0m.1 1.1h0m1.2 2.3h0m.5-2.9h0m.2 1.3h0m2.6-1.5h0m5.2-1.5h0m4.5 1.5h0m12.6-.7h0m-105.6 7.6h0m2.3 .3h0m.7-3.3h0m3 3.7h0m.3-3.6h0m1.5 .9h0m.1 4.8h0m4.1-1.7h0m1-3.9h0m1.3 1.4h0m1.6 3.9h0m.3-.6h0m.2-.9h0m0-1.2h0m.2 1.7h0m.3 1.2h0m.3-1.9h0m.1-2.2h0m1.7 1.4h0m.6-3h0m.7 .1h0m1 4.1h0m.5 .1h0m1.1-2.3h0m1.9 3.1h0m.7-2.5h0m.8-.3h0m.6-.1h0m0 2.2h0m.5-2.6h0m1.3-.6h0m.5 3.1h0m1.9-3.7h0m.2 4.7h0m.1-1h0m.3-3h0m.3 1.2h0m.4-.8h0m.3 1h0m.5-.3h0m2.2 2.9h0m.1-2.9h0m1.5 1.6h0m.1-2.9h0m.6 .2h0m0-1.5h0m.3 5.3h0m3-3.9h0m0 4.1h0m2.6-2.1h0m.5-.9h0m0 2.4h0m.2-4.3h0m1.8 2.9h0m0 2.4h0m.2-3.4h0m.5-.6h0m.8 .1h0m.7-.3h0m.6 .3h0m1.4 .3h0m.4 3.5h0m.6-2.9h0m1.8 1h0m.9-3.3h0m.6 5.2h0m.6-2.6h0m2-1.3h0m1.9 .8h0m3.9 2.3h0m.1-2.2h0m.5 1.8h0m1.4-2.2h0m.6-1.1h0m.1-1.1h0m0 4.5h0m1.7-1.1h0m3.8-3.2h0m1.2 4.5h0m.8-.2h0m-77.6 2.5h0m.8-.8h0m4.9 3.8h0m4.6-2.8h0m2.3 0h0m1.7 3.3h0m.6-3.7h0m.2 0h0m.9 1.6h0m.8-2h0m.6-.6h0m4 1.1h0m.6 1.9h0m.8 .4h0m.5 .7h0m.1-.9h0m.1 .4h0m2.3-2.3h0m.7-.8h0m.2 4.4h0m.5 .1h0m0-4.1h0m.3 2.9h0m2.1-2.1h0m.7 4.2h0m1.3-4.4h0m.9 2.6h0m.8-1.1h0m.1-1.9h0m.1 3.5h0m.3-.4h0m1.7-4h0m.3 1.6h0m.1 2.6h0m.4 1.5h0m.2-4.4h0m.7 3.8h0m1-1.9h0m.3 1.4h0m1.5-1h0m0-.6h0m1.5 .4h0m.3-.4h0m.1 2h0m1.4-2h0m.1-.5h0m.6 3.2h0m1.1-4.8h0m.4-.6h0m0 3.5h0m.4-1.9h0m.3 .2h0m0 3.7h0m1.5-5.9h0m.5 5.8h0m.7-3.6h0m.9-2h0m3.5 2.1h0m.3 3.5h0m.7-4h0m.6 1h0m.6-1.2h0m.4-1h0m.1 .8h0m.9 2.2h0m.1-1.6h0m1.3-1.5h0m3 1.4h0m3.4 2.4h0m.3-4.2h0m1 .3h0m2.6 4.4h0m4.6-.5h0m.4-.2h0m1.2-2.3h0m-71.8 6.1h0m1.2 1h0m1.7 2.7h0m0-3.7h0m4 .5h0m.2-1.7h0m.4 4.2h0m4.7-3.1h0m.7 3h0m1.3-3.9h0m1.4 4.5h0m.6-4.4h0m1.2 4.4h0m.2-1.3h0m.7-2.1h0m1.4 1h0m3.4-.7h0m.1-1.8h0m.2 2.2h0m1.8 1.3h0m.1 1h0m.6-.8h0m.2-1.6h0m.5-.7h0m1.4 3.4h0m.2-4.9h0m0 4.3h0m3.3-2.3h0m1.2 .5h0m.2-.6h0m.3 1.5h0m.5-3.3h0m1.7 .8h0m.2 2h0m.1 1h0m.3-3.4h0m.5 2.3h0m1.5-2.3h0m1.1-.8h0m3.3 3.1h0m.5-1.9h0m1.4 .8h0m.9 3.5h0m.5-.5h0m4.4-2.8h0m16.2-.6h0m-69.1 8.3h0m2.9-1.3h0m1.2-.9h0m.8-1.8h0m2.8-.1h0m.5 .2h0m1.7 2.4h0m1.4-.8h0m2 2.1h0m2.2-3.8h0m.4 4.2h0m5.2-.9h0m.6-1.4h0m.2 2.3h0m1.4-.1h0m.1-2.9h0m2.1 2.4h0m.2-1.5h0m1.8 1.8h0m.8-3.9h0m3.4 1.9h0m3.4 .2h0m.5-1.1h0m3.1 3.4h0m.9 .4h0m.2-.5h0m1.9 .5h0m2-3.1h0m1.1-1.1h0m.3 4.2h0m5.2-3.4h0m1.6 1.2h0m-10.3 5.1h0m2.5 2.8h0m2.1-2.8h0m-19.9 7.1h0m1.9 0h0m8.5-.8h0" stroke="#000" stroke-width="4.8" stroke-linecap="round" fill="none"/>
<g clip-path="url(#clipa)">
<path d="M131.5 437.3L732.7 59.3" stroke="#0000ff" stroke-width="2.6" stroke-dasharray="11.5 10.7" fill="none"/>
<path d="M181.0 366.1L732.7 105.3" stroke="#ff00ff" stroke-width="2.6" stroke-dasharray="11.5 10.7" fill="none"/>
</g>
<text x="161.0" y="96.9" font-size="24.8" letter-spacing="0" fill="#000">R = 0.91</text>
<text x="161.0" y="128.6" font-size="24.8" letter-spacing="0" fill="#000">ubRMSE = 0.03</text>
<text x="161.0" y="160.3" font-size="24.8" letter-spacing="0" fill="#000">Bias = -0.0002</text>
<text x="454.3" y="98.4" text-anchor="middle" font-size="30" letter-spacing="1.7" fill="#000" stroke="#000" stroke-width="0.7">(a)</text>
<path d="M452.1 372.7h75M452.1 401.3h75" stroke="none"/>
<path d="M452.1 372.7h74.9" stroke="#0000ff" stroke-width="2.6" stroke-dasharray="11.5 10.7"/>
<path d="M452.1 401.3h74.9" stroke="#ff00ff" stroke-width="2.6" stroke-dasharray="11.5 10.7"/>
<text x="532.0" y="379.7" font-size="26" letter-spacing="0.25" fill="#000">1:1 line</text>
<text x="532.0" y="407.8" font-size="26" letter-spacing="0.25" fill="#000">regression line</text>
<g clip-path="url(#clipb)">
<path d="M924.4 437.3L1525.4 59.3" stroke="#0000ff" stroke-width="2.6" stroke-dasharray="11.5 10.7" fill="none"/>
<path d="M939.1 372.3L1525.4 113.2" stroke="#ff00ff" stroke-width="2.6" stroke-dasharray="11.5 10.7" fill="none"/>
</g>
<text x="953.9" y="96.9" font-size="25.5" letter-spacing="0.65" fill="#000">R = 0.87</text>
<text x="953.9" y="128.6" font-size="25.5" letter-spacing="0.65" fill="#000">ubRMSE = 0.04</text>
<text x="953.9" y="160.3" font-size="25.5" letter-spacing="0.65" fill="#000">Bias = 0.0001</text>
<text x="1247.2" y="98.4" text-anchor="middle" font-size="30" letter-spacing="1.7" fill="#000" stroke="#000" stroke-width="0.7">(b)</text>
<path d="M1245.0 372.7h75M1245.0 401.3h75" stroke="none"/>
<path d="M1245.0 372.7h74.9" stroke="#0000ff" stroke-width="2.6" stroke-dasharray="11.5 10.7"/>
<path d="M1245.0 401.3h74.9" stroke="#ff00ff" stroke-width="2.6" stroke-dasharray="11.5 10.7"/>
<text x="1324.9" y="379.7" font-size="26" letter-spacing="0.25" fill="#000">1:1 line</text>
<text x="1324.9" y="407.8" font-size="26" letter-spacing="0.25" fill="#000">regression line</text>
<path d="M131.5 59.3H732.7V437.3H131.5ZM131.5 437.3v-6.0M131.5 59.3v6.0M331.9 437.3v-6.0M331.9 59.3v6.0M532.3 437.3v-6.0M532.3 59.3v6.0M732.7 437.3v-6.0M732.7 59.3v6.0M131.5 437.3h6.0M732.7 437.3h-6.0M131.5 311.3h6.0M732.7 311.3h-6.0M131.5 185.3h6.0M732.7 185.3h-6.0M131.5 59.3h6.0M732.7 59.3h-6.0" fill="none" stroke="#4a4a4a" stroke-width="1.3" stroke-linejoin="miter" stroke-linecap="square"/>
<path d="M924.4 59.3H1525.4V437.3H924.4ZM924.4 437.3v-6.0M924.4 59.3v6.0M1124.7 437.3v-6.0M1124.7 59.3v6.0M1325.1 437.3v-6.0M1325.1 59.3v6.0M1525.4 437.3v-6.0M1525.4 59.3v6.0M924.4 437.3h6.0M1525.4 437.3h-6.0M924.4 311.3h6.0M1525.4 311.3h-6.0M924.4 185.3h6.0M1525.4 185.3h-6.0M924.4 59.3h6.0M1525.4 59.3h-6.0" fill="none" stroke="#4a4a4a" stroke-width="1.3" stroke-linejoin="miter" stroke-linecap="square"/>
<path d="M152.8 682.9H177.2V962.0H152.8ZM219.6 793.0H244.0V962.0H219.6ZM286.3 819.3H310.7V962.0H286.3ZM353.1 834.0H377.5V962.0H353.1ZM419.9 838.8H444.3V962.0H419.9ZM486.7 858.8H511.1V962.0H486.7ZM553.5 879.9H577.9V962.0H553.5ZM620.2 882.7H644.6V962.0H620.2ZM687.0 889.1H711.4V962.0H687.0Z" fill="#0072bd"/>
<path d="M131.6 585.3H732.6V962.0H131.6ZM165.0 962.0v-6.0M165.0 585.3v6.0M231.8 962.0v-6.0M231.8 585.3v6.0M298.5 962.0v-6.0M298.5 585.3v6.0M365.3 962.0v-6.0M365.3 585.3v6.0M432.1 962.0v-6.0M432.1 585.3v6.0M498.9 962.0v-6.0M498.9 585.3v6.0M565.7 962.0v-6.0M565.7 585.3v6.0M632.4 962.0v-6.0M632.4 585.3v6.0M699.2 962.0v-6.0M699.2 585.3v6.0M131.6 908.2h6.0M732.6 908.2h-6.0M131.6 800.6h6.0M732.6 800.6h-6.0M131.6 692.9h6.0M732.6 692.9h-6.0M131.6 585.3h6.0M732.6 585.3h-6.0" fill="none" stroke="#4a4a4a" stroke-width="1.3" stroke-linejoin="miter" stroke-linecap="square"/>
<text x="118.1" y="917.0" text-anchor="end" font-size="30" fill="#262626">0.05</text>
<text x="118.1" y="809.4" text-anchor="end" font-size="30" fill="#262626">0.15</text>
<text x="118.1" y="701.7" text-anchor="end" font-size="30" fill="#262626">0.25</text>
<text x="118.1" y="594.1" text-anchor="end" font-size="30" fill="#262626">0.35</text>
<text transform="translate(175.5 994.0) rotate(-30)" text-anchor="end" font-size="30" fill="#262626">Tbv</text>
<text transform="translate(242.3 994.0) rotate(-30)" text-anchor="end" font-size="30" fill="#262626">NDVI</text>
<text transform="translate(309.0 994.0) rotate(-30)" text-anchor="end" font-size="30" fill="#262626">Albedo</text>
<text transform="translate(375.8 994.0) rotate(-30)" text-anchor="end" font-size="30" fill="#262626">API</text>
<text transform="translate(442.6 994.0) rotate(-30)" text-anchor="end" font-size="30" fill="#262626">Slope</text>
<text transform="translate(509.4 994.0) rotate(-30)" text-anchor="end" font-size="30" fill="#262626">LST</text>
<text transform="translate(576.2 994.0) rotate(-30)" text-anchor="end" font-size="30" fill="#262626">DEM</text>
<text transform="translate(642.9 994.0) rotate(-30)" text-anchor="end" font-size="30" fill="#262626">Aspect</text>
<text transform="translate(709.7 994.0) rotate(-30)" text-anchor="end" font-size="30" fill="#262626">Tbh</text>
<text x="432.9" y="1073.6" text-anchor="middle" font-size="33" fill="#262626">Predictors</text>
<text transform="translate(45.5 773.4) rotate(-90)" text-anchor="middle" font-size="33" letter-spacing="-0.3" fill="#262626">Percent increase in MSE</text>
<text x="453.8" y="647.5" text-anchor="middle" font-size="30" letter-spacing="1.7" fill="#000" stroke="#000" stroke-width="0.7">(c)</text>
<path d="M945.6 637.6H970.0V962.0H945.6ZM1012.3 792.8H1036.7V962.0H1012.3ZM1079.1 821.1H1103.5V962.0H1079.1ZM1145.8 823.8H1170.2V962.0H1145.8ZM1212.6 861.0H1237.0V962.0H1212.6ZM1279.4 870.9H1303.8V962.0H1279.4ZM1346.1 881.0H1370.5V962.0H1346.1ZM1412.9 889.2H1437.3V962.0H1412.9ZM1479.6 912.2H1504.0V962.0H1479.6Z" fill="#0072bd"/>
<path d="M924.4 585.3H1525.2V962.0H924.4ZM957.8 962.0v-6.0M957.8 585.3v6.0M1024.5 962.0v-6.0M1024.5 585.3v6.0M1091.3 962.0v-6.0M1091.3 585.3v6.0M1158.0 962.0v-6.0M1158.0 585.3v6.0M1224.8 962.0v-6.0M1224.8 585.3v6.0M1291.6 962.0v-6.0M1291.6 585.3v6.0M1358.3 962.0v-6.0M1358.3 585.3v6.0M1425.1 962.0v-6.0M1425.1 585.3v6.0M1491.8 962.0v-6.0M1491.8 585.3v6.0M924.4 908.2h6.0M1525.2 908.2h-6.0M924.4 800.6h6.0M1525.2 800.6h-6.0M924.4 692.9h6.0M1525.2 692.9h-6.0M924.4 585.3h6.0M1525.2 585.3h-6.0" fill="none" stroke="#4a4a4a" stroke-width="1.3" stroke-linejoin="miter" stroke-linecap="square"/>
<text x="910.9" y="917.0" text-anchor="end" font-size="30" fill="#262626">0.05</text>
<text x="910.9" y="809.4" text-anchor="end" font-size="30" fill="#262626">0.15</text>
<text x="910.9" y="701.7" text-anchor="end" font-size="30" fill="#262626">0.25</text>
<text x="910.9" y="594.1" text-anchor="end" font-size="30" fill="#262626">0.35</text>
<text transform="translate(968.3 994.0) rotate(-30)" text-anchor="end" font-size="30" fill="#262626">Tbv</text>
<text transform="translate(1035.0 994.0) rotate(-30)" text-anchor="end" font-size="30" fill="#262626">NDVI</text>
<text transform="translate(1101.8 994.0) rotate(-30)" text-anchor="end" font-size="30" fill="#262626">Albedo</text>
<text transform="translate(1168.5 994.0) rotate(-30)" text-anchor="end" font-size="30" fill="#262626">API</text>
<text transform="translate(1235.3 994.0) rotate(-30)" text-anchor="end" font-size="30" fill="#262626">Tbh</text>
<text transform="translate(1302.1 994.0) rotate(-30)" text-anchor="end" font-size="30" fill="#262626">LST</text>
<text transform="translate(1368.8 994.0) rotate(-30)" text-anchor="end" font-size="30" fill="#262626">Slope</text>
<text transform="translate(1435.6 994.0) rotate(-30)" text-anchor="end" font-size="30" fill="#262626">DEM</text>
<text transform="translate(1502.3 994.0) rotate(-30)" text-anchor="end" font-size="30" fill="#262626">Aspect</text>
<text x="1225.6" y="1073.6" text-anchor="middle" font-size="33" fill="#262626">Predictors</text>
<text transform="translate(838.3 773.4) rotate(-90)" text-anchor="middle" font-size="33" letter-spacing="-0.3" fill="#262626">Percent increase in MSE</text>
<text x="1246.6" y="647.5" text-anchor="middle" font-size="30" letter-spacing="1.7" fill="#000" stroke="#000" stroke-width="0.7">(d)</text>
</svg>
</body></html>
